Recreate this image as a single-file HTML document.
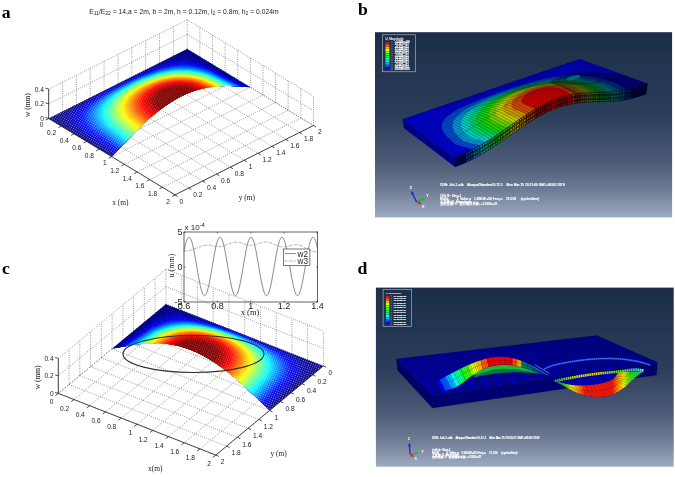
<!DOCTYPE html>
<html lang="en"><head><meta charset="utf-8"><title>Figure</title>
<style>html,body{margin:0;padding:0;background:#fff;}body{width:675px;height:477px;overflow:hidden;font-family:"Liberation Sans",sans-serif;}svg{display:block;}</style>
</head><body>
<svg width="675" height="477" viewBox="0 0 675 477">
<defs><filter id="soft" x="0" y="0" width="675" height="477" filterUnits="userSpaceOnUse"><feGaussianBlur stdDeviation="0.45"/></filter></defs><g filter="url(#soft)">
<defs><linearGradient id="spgA" gradientUnits="userSpaceOnUse" x1="112" y1="156" x2="187" y2="49"><stop offset="0" stop-color="#fff" stop-opacity="0.55"/><stop offset="0.6" stop-color="#fff" stop-opacity="0.25"/><stop offset="1" stop-color="#fff" stop-opacity="0.05"/></linearGradient><linearGradient id="spgC" gradientUnits="userSpaceOnUse" x1="270" y1="411" x2="166" y2="304"><stop offset="0" stop-color="#fff" stop-opacity="0.55"/><stop offset="0.6" stop-color="#fff" stop-opacity="0.25"/><stop offset="1" stop-color="#fff" stop-opacity="0.05"/></linearGradient><mask id="mA" maskUnits="userSpaceOnUse" x="0" y="0" width="340" height="240"><rect x="0" y="0" width="340" height="240" fill="url(#spgA)"/></mask><mask id="mC" maskUnits="userSpaceOnUse" x="0" y="240" width="340" height="240"><rect x="0" y="240" width="340" height="240" fill="url(#spgC)"/></mask><pattern id="spkA" width="2.1" height="2.1" patternUnits="userSpaceOnUse" patternTransform="rotate(31)"><circle cx="1" cy="1" r="0.6" fill="#fff"/></pattern><pattern id="spkC" width="2.1" height="2.1" patternUnits="userSpaceOnUse" patternTransform="rotate(21)"><circle cx="1" cy="1" r="0.6" fill="#fff"/></pattern></defs>
<rect width="675" height="477" fill="#fff"/>
<g id="pa"><path d="M48.7 118.5L48.7 89.2M62.6 111.6L62.6 82.2M76.4 104.6L76.4 75.3M90.2 97.7L90.2 68.4M104.1 90.7L104.1 61.4M118 83.8L118 54.5M131.8 76.9L131.8 47.5M145.7 69.9L145.7 40.6M159.5 63L159.5 33.7M173.4 56L173.4 26.7M187.2 49.1L187.2 19.8M48.7 118.5L187.2 49.1M48.7 103.8L187.2 34.4M48.7 89.2L187.2 19.8M199.8 56.7L199.8 27.4M212.5 64.4L212.5 35.1M225.1 72L225.1 42.7M237.7 79.7L237.7 50.3M250.3 87.3L250.3 58M263 94.9L263 65.6M275.6 102.6L275.6 73.3M288.2 110.2L288.2 80.9M300.9 117.9L300.9 88.5M313.5 125.5L313.5 96.2M187.2 49.1L313.5 125.5M187.2 34.4L313.5 110.8M187.2 19.8L313.5 96.2M48.7 118.5L187.2 49.1M48.7 118.5L175 194.9M61.3 126.1L199.8 56.7M62.6 111.6L188.8 188M74 133.8L212.5 64.4M76.4 104.6L202.7 181M86.6 141.4L225.1 72M90.2 97.7L216.6 174.1M99.2 149.1L237.7 79.7M104.1 90.7L230.4 167.1M111.8 156.7L250.3 87.3M118 83.8L244.2 160.2M124.5 164.3L263 94.9M131.8 76.9L258.1 153.3M137.1 172L275.6 102.6M145.7 69.9L271.9 146.3M149.7 179.6L288.2 110.2M159.5 63L285.8 139.4M162.4 187.3L300.9 117.9M173.4 56L299.6 132.4M175 194.9L313.5 125.5M187.2 49.1L313.5 125.5" stroke="#3a3a3a" stroke-width="0.65" stroke-dasharray="0.75 1.45" fill="none"/>
<path d="M48.7 118.5 L187.2 49.1 L250.3 87.3 L246.5 87 L242.7 86.7 L238.8 86.4 L235 86.2 L231.1 86.1 L227.3 86 L223.4 86.1 L219.6 86.2 L215.7 86.5 L211.9 86.9 L208 87.5 L204.2 88.2 L200.3 89.1 L196.5 90.2 L192.6 91.4 L188.8 92.9 L184.9 94.5 L181.1 96.3 L177.3 98.4 L173.4 100.6 L169.6 103 L165.7 105.6 L161.9 108.4 L158 111.3 L154.2 114.5 L150.3 117.8 L146.5 121.2 L142.6 124.8 L138.8 128.5 L134.9 132.3 L131.1 136.2 L127.2 140.2 L123.4 144.3 L119.5 148.4 L115.7 152.5 L111.8 156.7Z" fill="#000087"/>
<path d="M112.7 155.8 L61.2 120.5 L61.6 116.5 L64.1 113.8 L67.2 111.4 L70.6 109.3 L74.1 107.2 L77.6 105.2 L81.3 103.2 L85 101.2 L88.7 99.2 L92.4 97.3 L96.1 95.3 L99.9 93.4 L103.6 91.5 L107.4 89.6 L111.2 87.7 L115 85.8 L118.8 83.9 L122.6 82 L126.4 80.1 L130.2 78.2 L134 76.3 L137.9 74.4 L141.7 72.5 L145.6 70.7 L149.5 68.8 L153.4 67 L157.3 65.2 L161.3 63.4 L165.3 61.7 L169.5 60 L173.8 58.4 L178.4 57 L183.9 56.1 L191.8 56.7 L249.2 87.2 L249.2 87.2 L245.4 86.9 L241.6 86.6 L237.8 86.4 L234 86.2 L230.2 86.1 L226.4 86 L222.6 86.1 L218.8 86.3 L215 86.6 L211.3 87 L207.5 87.6 L203.7 88.3 L199.9 89.2 L196.1 90.3 L192.3 91.6 L188.5 93 L184.7 94.6 L180.9 96.4 L177.1 98.4 L173.3 100.6 L169.5 103 L165.7 105.6 L162 108.3 L158.2 111.2 L154.4 114.3 L150.6 117.5 L146.8 120.9 L143 124.4 L139.2 128.1 L135.4 131.8 L131.6 135.7 L127.8 139.6 L124 143.6 L120.2 147.6 L116.5 151.7 L112.7 155.8Z" fill="#000099"/>
<path d="M113.5 154.9 L67.9 123 L66.2 117.9 L67.7 114.6 L70.2 112 L73.1 109.6 L76.3 107.4 L79.7 105.3 L83.1 103.2 L86.6 101.2 L90.2 99.2 L93.8 97.2 L97.4 95.3 L101.1 93.4 L104.8 91.5 L108.5 89.6 L112.2 87.7 L115.9 85.8 L119.6 83.9 L123.4 82 L127.2 80.2 L130.9 78.3 L134.7 76.5 L138.6 74.7 L142.4 72.8 L146.3 71 L150.2 69.3 L154.1 67.5 L158.1 65.8 L162.2 64.2 L166.4 62.6 L170.8 61.1 L175.5 59.8 L180.7 58.8 L187.1 58.6 L197.1 60.4 L248 87.1 L248 87.1 L244.3 86.8 L240.5 86.6 L236.8 86.3 L233.1 86.2 L229.3 86.1 L225.6 86 L221.9 86.1 L218.1 86.3 L214.4 86.6 L210.7 87.1 L206.9 87.7 L203.2 88.4 L199.4 89.3 L195.7 90.4 L192 91.7 L188.2 93.1 L184.5 94.7 L180.8 96.5 L177 98.5 L173.3 100.7 L169.6 103 L165.8 105.5 L162.1 108.2 L158.4 111.1 L154.6 114.1 L150.9 117.3 L147.2 120.6 L143.4 124 L139.7 127.6 L136 131.3 L132.2 135.1 L128.5 138.9 L124.7 142.8 L121 146.8 L117.3 150.8 L113.5 154.9Z" fill="#0000ad"/>
<path d="M114.5 153.9 L73.3 124.8 L70.4 118.9 L71.1 115.3 L73.1 112.4 L75.6 109.8 L78.6 107.5 L81.7 105.3 L85 103.2 L88.3 101.2 L91.8 99.2 L95.2 97.2 L98.8 95.2 L102.3 93.3 L105.9 91.4 L109.5 89.5 L113.2 87.6 L116.8 85.8 L120.5 83.9 L124.2 82.1 L127.9 80.3 L131.7 78.5 L135.5 76.7 L139.3 74.9 L143.1 73.1 L147 71.4 L150.9 69.7 L154.9 68 L158.9 66.4 L163.1 64.9 L167.4 63.4 L172 62.1 L177 61 L182.6 60.4 L189.7 60.6 L200.6 63.1 L246.8 87 L246.8 87 L243.2 86.7 L239.5 86.5 L235.8 86.3 L232.1 86.1 L228.4 86 L224.8 86.1 L221.1 86.2 L217.4 86.4 L213.7 86.7 L210.1 87.2 L206.4 87.8 L202.7 88.5 L199 89.5 L195.4 90.5 L191.7 91.8 L188 93.2 L184.3 94.8 L180.6 96.6 L177 98.5 L173.3 100.7 L169.6 103 L165.9 105.4 L162.3 108.1 L158.6 110.9 L154.9 113.9 L151.2 117 L147.6 120.2 L143.9 123.6 L140.2 127.1 L136.5 130.7 L132.8 134.4 L129.2 138.2 L125.5 142.1 L121.8 146 L118.1 149.9 L114.5 153.9Z" fill="#0000c2"/>
<path d="M115.4 152.9 L77.8 126 L74.1 119.7 L74.2 115.8 L75.8 112.7 L78.1 110 L80.8 107.6 L83.7 105.4 L86.8 103.2 L90 101.1 L93.3 99.1 L96.7 97.1 L100.1 95.2 L103.6 93.3 L107.1 91.4 L110.6 89.5 L114.2 87.6 L117.8 85.8 L121.4 84 L125.1 82.2 L128.7 80.4 L132.4 78.6 L136.2 76.8 L139.9 75.1 L143.8 73.4 L147.6 71.7 L151.6 70.1 L155.6 68.5 L159.7 67 L163.9 65.5 L168.3 64.2 L173 63 L178.2 62.2 L184.2 61.7 L191.7 62.3 L203.1 65.2 L245.7 86.9 L245.7 86.9 L242 86.7 L238.4 86.4 L234.8 86.2 L231.2 86.1 L227.6 86 L223.9 86.1 L220.3 86.2 L216.7 86.4 L213.1 86.8 L209.5 87.3 L205.9 87.9 L202.2 88.6 L198.6 89.6 L195 90.6 L191.4 91.9 L187.8 93.3 L184.1 94.9 L180.5 96.6 L176.9 98.6 L173.3 100.7 L169.7 102.9 L166.1 105.4 L162.4 108 L158.8 110.7 L155.2 113.6 L151.6 116.7 L148 119.9 L144.3 123.2 L140.7 126.6 L137.1 130.1 L133.5 133.8 L129.9 137.5 L126.2 141.3 L122.6 145.1 L119 149 L115.4 152.9Z" fill="#0000d8"/>
<path d="M116.3 151.8 L81.7 126.8 L77.5 120.3 L77.2 116.2 L78.5 112.9 L80.5 110.2 L82.9 107.7 L85.7 105.4 L88.6 103.2 L91.7 101.1 L94.9 99 L98.1 97.1 L101.5 95.1 L104.8 93.2 L108.3 91.3 L111.7 89.4 L115.2 87.6 L118.7 85.8 L122.3 84 L125.9 82.2 L129.5 80.4 L133.2 78.7 L136.9 77 L140.6 75.3 L144.4 73.7 L148.3 72 L152.2 70.5 L156.2 69 L160.4 67.5 L164.7 66.2 L169.2 64.9 L174 63.9 L179.3 63.2 L185.5 63 L193.2 63.7 L204.9 66.8 L244.5 86.8 L244.5 86.8 L240.9 86.6 L237.4 86.4 L233.8 86.2 L230.2 86.1 L226.7 86 L223.1 86.1 L219.6 86.2 L216 86.5 L212.4 86.9 L208.9 87.4 L205.3 88 L201.8 88.8 L198.2 89.7 L194.7 90.8 L191.1 92 L187.5 93.4 L184 95 L180.4 96.7 L176.9 98.6 L173.3 100.7 L169.7 102.9 L166.2 105.3 L162.6 107.8 L159.1 110.5 L155.5 113.4 L151.9 116.4 L148.4 119.5 L144.8 122.7 L141.3 126.1 L137.7 129.5 L134.1 133.1 L130.6 136.7 L127 140.4 L123.5 144.2 L119.9 148 L116.3 151.8Z" fill="#0000ef"/>
<path d="M117.3 150.8 L85.2 127.4 L80.7 120.7 L80.1 116.4 L81 113.1 L82.8 110.2 L85.1 107.7 L87.6 105.3 L90.4 103.1 L93.4 101 L96.4 99 L99.6 97 L102.8 95 L106.1 93.1 L109.4 91.2 L112.8 89.4 L116.2 87.6 L119.7 85.8 L123.2 84 L126.8 82.3 L130.3 80.5 L134 78.8 L137.6 77.2 L141.3 75.5 L145.1 73.9 L148.9 72.4 L152.9 70.8 L156.9 69.4 L161 68 L165.4 66.8 L169.9 65.6 L174.8 64.7 L180.3 64.1 L186.6 64.1 L194.5 65 L206.2 68.2 L243.3 86.7 L243.3 86.7 L239.8 86.5 L236.3 86.3 L232.8 86.1 L229.3 86.1 L225.8 86 L222.3 86.1 L218.8 86.3 L215.3 86.5 L211.8 86.9 L208.3 87.4 L204.8 88.1 L201.3 88.9 L197.8 89.8 L194.3 90.9 L190.8 92.1 L187.3 93.5 L183.8 95 L180.3 96.7 L176.8 98.6 L173.3 100.6 L169.8 102.8 L166.3 105.2 L162.8 107.7 L159.3 110.3 L155.8 113.1 L152.3 116 L148.8 119.1 L145.3 122.3 L141.8 125.6 L138.3 128.9 L134.8 132.4 L131.3 136 L127.8 139.6 L124.3 143.3 L120.8 147 L117.3 150.8Z" fill="#0008ff"/>
<path d="M118.3 149.7 L88.3 127.7 L83.7 121 L82.8 116.6 L83.5 113.2 L85.1 110.3 L87.2 107.7 L89.6 105.3 L92.2 103.1 L95 100.9 L98 98.9 L101 96.9 L104.2 94.9 L107.4 93 L110.6 91.2 L113.9 89.3 L117.3 87.6 L120.7 85.8 L124.1 84 L127.6 82.3 L131.2 80.6 L134.7 79 L138.4 77.3 L142 75.7 L145.8 74.2 L149.6 72.7 L153.5 71.2 L157.5 69.8 L161.7 68.5 L166 67.3 L170.6 66.3 L175.6 65.5 L181.1 65 L187.5 65.1 L195.5 66.1 L207.2 69.3 L242.1 86.7 L242.1 86.7 L238.7 86.4 L235.2 86.2 L231.8 86.1 L228.4 86 L224.9 86.1 L221.5 86.1 L218 86.3 L214.6 86.6 L211.2 87 L207.7 87.5 L204.3 88.2 L200.8 89 L197.4 89.9 L194 91 L190.5 92.2 L187.1 93.6 L183.6 95.1 L180.2 96.8 L176.8 98.6 L173.3 100.6 L169.9 102.8 L166.5 105.1 L163 107.5 L159.6 110.1 L156.1 112.9 L152.7 115.7 L149.3 118.7 L145.8 121.8 L142.4 125 L138.9 128.3 L135.5 131.7 L132.1 135.2 L128.6 138.8 L125.2 142.4 L121.7 146 L118.3 149.7Z" fill="#0020ff"/>
<path d="M119.3 148.7 L91.2 127.8 L86.5 121.2 L85.4 116.7 L85.9 113.2 L87.3 110.3 L89.2 107.6 L91.5 105.2 L94 103 L96.7 100.8 L99.5 98.8 L102.5 96.8 L105.5 94.8 L108.6 93 L111.8 91.1 L115.1 89.3 L118.3 87.5 L121.7 85.8 L125.1 84.1 L128.5 82.4 L132 80.7 L135.5 79.1 L139.1 77.5 L142.7 75.9 L146.4 74.4 L150.2 73 L154.1 71.6 L158.1 70.2 L162.3 69 L166.7 67.9 L171.3 66.9 L176.3 66.2 L181.8 65.8 L188.3 66 L196.4 67.1 L207.9 70.3 L240.9 86.6 L240.9 86.6 L237.5 86.4 L234.2 86.2 L230.8 86.1 L227.4 86 L224 86.1 L220.7 86.2 L217.3 86.4 L213.9 86.7 L210.5 87.1 L207.1 87.6 L203.8 88.3 L200.4 89.1 L197 90 L193.6 91.1 L190.2 92.3 L186.9 93.7 L183.5 95.2 L180.1 96.8 L176.7 98.7 L173.4 100.6 L170 102.7 L166.6 105 L163.2 107.4 L159.8 109.9 L156.5 112.6 L153.1 115.4 L149.7 118.3 L146.3 121.3 L142.9 124.5 L139.6 127.7 L136.2 131 L132.8 134.5 L129.4 137.9 L126.1 141.5 L122.7 145 L119.3 148.7Z" fill="#0039ff"/>
<path d="M120.3 147.6 L93.9 127.8 L89.2 121.2 L88 116.7 L88.3 113.2 L89.5 110.2 L91.3 107.6 L93.4 105.1 L95.8 102.9 L98.4 100.7 L101.1 98.7 L104 96.7 L106.9 94.7 L109.9 92.9 L113 91 L116.2 89.3 L119.4 87.5 L122.7 85.8 L126 84.1 L129.4 82.4 L132.8 80.8 L136.3 79.2 L139.8 77.7 L143.4 76.1 L147.1 74.7 L150.9 73.3 L154.7 71.9 L158.7 70.6 L162.9 69.5 L167.2 68.4 L171.9 67.5 L176.9 66.9 L182.5 66.6 L189 66.8 L197 68 L208.4 71.2 L239.7 86.5 L239.7 86.5 L236.4 86.3 L233.1 86.2 L229.8 86.1 L226.5 86 L223.1 86.1 L219.8 86.2 L216.5 86.4 L213.2 86.8 L209.9 87.2 L206.6 87.7 L203.2 88.4 L199.9 89.2 L196.6 90.1 L193.3 91.2 L190 92.4 L186.7 93.8 L183.3 95.3 L180 96.9 L176.7 98.7 L173.4 100.6 L170.1 102.7 L166.8 104.9 L163.4 107.2 L160.1 109.7 L156.8 112.3 L153.5 115.1 L150.2 117.9 L146.8 120.9 L143.5 123.9 L140.2 127.1 L136.9 130.3 L133.6 133.7 L130.3 137.1 L126.9 140.5 L123.6 144 L120.3 147.6Z" fill="#0052ff"/>
<path d="M121.3 146.5 L96.4 127.7 L91.7 121.2 L90.4 116.7 L90.6 113.1 L91.7 110.1 L93.3 107.5 L95.3 105 L97.6 102.7 L100 100.6 L102.7 98.5 L105.4 96.6 L108.3 94.6 L111.2 92.8 L114.3 91 L117.3 89.2 L120.5 87.5 L123.7 85.8 L126.9 84.1 L130.3 82.5 L133.6 80.9 L137.1 79.3 L140.6 77.8 L144.1 76.4 L147.8 74.9 L151.5 73.6 L155.3 72.3 L159.3 71 L163.4 69.9 L167.8 68.9 L172.4 68.1 L177.5 67.6 L183 67.3 L189.5 67.6 L197.5 68.8 L208.7 72 L238.5 86.4 L238.5 86.4 L235.3 86.3 L232 86.1 L228.8 86.1 L225.5 86 L222.3 86.1 L219 86.3 L215.7 86.5 L212.5 86.8 L209.2 87.3 L206 87.9 L202.7 88.5 L199.5 89.3 L196.2 90.3 L193 91.3 L189.7 92.5 L186.4 93.9 L183.2 95.3 L179.9 96.9 L176.7 98.7 L173.4 100.6 L170.2 102.6 L166.9 104.8 L163.7 107.1 L160.4 109.5 L157.1 112 L153.9 114.7 L150.6 117.5 L147.4 120.4 L144.1 123.4 L140.9 126.5 L137.6 129.6 L134.4 132.9 L131.1 136.2 L127.8 139.6 L124.6 143 L121.3 146.5Z" fill="#006cff"/>
<path d="M122.4 145.4 L98.8 127.4 L94.2 121 L92.8 116.6 L92.8 113 L93.8 110 L95.3 107.3 L97.2 104.9 L99.3 102.6 L101.7 100.5 L104.3 98.4 L106.9 96.4 L109.7 94.5 L112.5 92.7 L115.5 90.9 L118.5 89.2 L121.6 87.5 L124.7 85.8 L127.9 84.2 L131.2 82.6 L134.5 81 L137.8 79.5 L141.3 78 L144.8 76.6 L148.4 75.2 L152.1 73.9 L155.9 72.6 L159.9 71.4 L164 70.4 L168.3 69.4 L172.9 68.7 L178 68.2 L183.5 68 L190 68.4 L197.9 69.6 L208.8 72.7 L237.3 86.4 L237.3 86.4 L234.1 86.2 L230.9 86.1 L227.7 86 L224.5 86.1 L221.4 86.1 L218.2 86.3 L215 86.6 L211.8 86.9 L208.6 87.4 L205.4 88 L202.2 88.7 L199 89.5 L195.8 90.4 L192.6 91.4 L189.4 92.6 L186.2 93.9 L183 95.4 L179.8 97 L176.7 98.7 L173.5 100.6 L170.3 102.5 L167.1 104.7 L163.9 106.9 L160.7 109.3 L157.5 111.8 L154.3 114.4 L151.1 117.1 L147.9 119.9 L144.7 122.8 L141.5 125.8 L138.3 128.9 L135.1 132.1 L132 135.3 L128.8 138.6 L125.6 142 L122.4 145.4Z" fill="#0086ff"/>
<path d="M123.4 144.2 L101.1 127.1 L96.6 120.9 L95.1 116.4 L95.1 112.9 L95.9 109.9 L97.3 107.2 L99.1 104.7 L101.1 102.5 L103.4 100.3 L105.8 98.3 L108.4 96.3 L111.1 94.4 L113.9 92.6 L116.7 90.8 L119.7 89.1 L122.7 87.4 L125.7 85.8 L128.9 84.2 L132.1 82.6 L135.3 81.1 L138.6 79.6 L142 78.2 L145.5 76.8 L149.1 75.4 L152.7 74.2 L156.5 72.9 L160.4 71.8 L164.5 70.8 L168.8 69.9 L173.4 69.2 L178.4 68.8 L184 68.7 L190.4 69 L198.2 70.3 L208.9 73.3 L236.1 86.3 L236.1 86.3 L233 86.2 L229.8 86.1 L226.7 86 L223.6 86.1 L220.5 86.2 L217.3 86.4 L214.2 86.7 L211.1 87 L207.9 87.5 L204.8 88.1 L201.7 88.8 L198.5 89.6 L195.4 90.5 L192.3 91.6 L189.2 92.7 L186 94 L182.9 95.5 L179.8 97 L176.6 98.7 L173.5 100.5 L170.4 102.5 L167.2 104.5 L164.1 106.7 L161 109 L157.9 111.5 L154.7 114 L151.6 116.7 L148.5 119.4 L145.3 122.3 L142.2 125.2 L139.1 128.2 L135.9 131.3 L132.8 134.5 L129.7 137.7 L126.6 140.9 L123.4 144.2Z" fill="#00a0ff"/>
<path d="M124.5 143.1 L103.3 126.8 L98.9 120.6 L97.3 116.2 L97.2 112.7 L98 109.7 L99.3 107 L100.9 104.6 L102.9 102.3 L105.1 100.2 L107.4 98.1 L109.9 96.2 L112.5 94.3 L115.2 92.5 L118 90.8 L120.8 89.1 L123.8 87.4 L126.8 85.8 L129.9 84.2 L133 82.7 L136.2 81.2 L139.4 79.7 L142.8 78.3 L146.2 77 L149.7 75.7 L153.3 74.4 L157.1 73.3 L160.9 72.2 L165 71.3 L169.3 70.4 L173.8 69.8 L178.8 69.4 L184.3 69.3 L190.7 69.7 L198.4 71 L208.8 73.9 L234.9 86.2 L234.9 86.2 L231.8 86.1 L228.7 86.1 L225.7 86 L222.6 86.1 L219.5 86.2 L216.5 86.4 L213.4 86.7 L210.3 87.1 L207.3 87.6 L204.2 88.2 L201.1 88.9 L198.1 89.7 L195 90.6 L192 91.7 L188.9 92.8 L185.8 94.1 L182.8 95.5 L179.7 97.1 L176.6 98.7 L173.6 100.5 L170.5 102.4 L167.4 104.4 L164.4 106.6 L161.3 108.8 L158.2 111.2 L155.2 113.7 L152.1 116.2 L149 118.9 L146 121.7 L142.9 124.5 L139.8 127.5 L136.8 130.5 L133.7 133.6 L130.6 136.7 L127.6 139.9 L124.5 143.1Z" fill="#00bbff"/>
<path d="M125.6 142 L105.4 126.3 L101.1 120.3 L99.6 116 L99.4 112.5 L100 109.5 L101.2 106.8 L102.8 104.4 L104.7 102.1 L106.8 100 L109 98 L111.4 96.1 L113.9 94.2 L116.5 92.4 L119.3 90.7 L122 89 L124.9 87.4 L127.8 85.8 L130.8 84.3 L133.9 82.8 L137 81.3 L140.3 79.9 L143.5 78.5 L146.9 77.2 L150.4 75.9 L153.9 74.7 L157.6 73.6 L161.5 72.6 L165.5 71.7 L169.7 70.9 L174.3 70.3 L179.2 69.9 L184.6 69.9 L190.9 70.3 L198.5 71.6 L208.7 74.4 L233.6 86.2 L233.6 86.2 L230.6 86.1 L227.6 86 L224.6 86.1 L221.6 86.1 L218.6 86.3 L215.6 86.5 L212.6 86.8 L209.6 87.2 L206.6 87.7 L203.6 88.3 L200.6 89 L197.6 89.8 L194.6 90.8 L191.6 91.8 L188.6 93 L185.6 94.2 L182.6 95.6 L179.6 97.1 L176.6 98.7 L173.6 100.5 L170.6 102.3 L167.6 104.3 L164.6 106.4 L161.6 108.6 L158.6 110.9 L155.6 113.3 L152.6 115.8 L149.6 118.4 L146.6 121.1 L143.6 123.9 L140.6 126.7 L137.6 129.7 L134.6 132.7 L131.6 135.7 L128.6 138.8 L125.6 142Z" fill="#00d6ff"/>
<path d="M126.7 140.8 L107.5 125.8 L103.3 120 L101.7 115.7 L101.5 112.2 L102.1 109.3 L103.2 106.6 L104.7 104.2 L106.4 102 L108.4 99.8 L110.6 97.9 L112.9 95.9 L115.4 94.1 L117.9 92.4 L120.5 90.7 L123.3 89 L126 87.4 L128.9 85.8 L131.8 84.3 L134.9 82.8 L137.9 81.4 L141.1 80 L144.3 78.7 L147.6 77.4 L151 76.2 L154.5 75 L158.2 74 L162 73 L165.9 72.1 L170.1 71.4 L174.6 70.8 L179.5 70.5 L184.9 70.5 L191.1 70.9 L198.5 72.2 L208.4 74.9 L232.4 86.1 L232.4 86.1 L229.5 86.1 L226.5 86 L223.6 86.1 L220.6 86.2 L217.7 86.3 L214.8 86.6 L211.8 86.9 L208.9 87.3 L206 87.9 L203 88.5 L200.1 89.2 L197.2 90 L194.2 90.9 L191.3 91.9 L188.3 93.1 L185.4 94.3 L182.5 95.7 L179.5 97.1 L176.6 98.7 L173.7 100.4 L170.7 102.3 L167.8 104.2 L164.8 106.2 L161.9 108.4 L159 110.6 L156 112.9 L153.1 115.4 L150.2 117.9 L147.2 120.5 L144.3 123.2 L141.4 126 L138.4 128.8 L135.5 131.8 L132.5 134.7 L129.6 137.7 L126.7 140.8Z" fill="#00f1ff"/>
<path d="M127.8 139.6 L109.5 125.3 L105.4 119.6 L103.9 115.4 L103.6 112 L104.1 109 L105.1 106.4 L106.5 104 L108.2 101.8 L110.1 99.7 L112.2 97.7 L114.5 95.8 L116.8 94 L119.3 92.3 L121.8 90.6 L124.5 89 L127.2 87.4 L130 85.9 L132.9 84.4 L135.8 82.9 L138.8 81.5 L141.9 80.2 L145.1 78.9 L148.3 77.7 L151.7 76.5 L155.1 75.4 L158.7 74.3 L162.5 73.4 L166.4 72.5 L170.5 71.8 L175 71.3 L179.8 71 L185.1 71 L191.2 71.5 L198.5 72.7 L208.2 75.4 L231.1 86.1 L231.1 86.1 L228.3 86 L225.4 86 L222.5 86.1 L219.7 86.2 L216.8 86.4 L213.9 86.7 L211 87 L208.2 87.5 L205.3 88 L202.4 88.6 L199.6 89.3 L196.7 90.1 L193.8 91 L190.9 92 L188.1 93.2 L185.2 94.4 L182.3 95.7 L179.5 97.2 L176.6 98.7 L173.7 100.4 L170.8 102.2 L168 104 L165.1 106 L162.2 108.1 L159.4 110.3 L156.5 112.6 L153.6 114.9 L150.8 117.4 L147.9 119.9 L145 122.6 L142.1 125.3 L139.3 128 L136.4 130.8 L133.5 133.7 L130.7 136.7 L127.8 139.6Z" fill="#0efff1"/>
<path d="M128.9 138.5 L111.5 124.7 L107.6 119.1 L106 115 L105.7 111.6 L106.1 108.7 L107.1 106.1 L108.4 103.8 L110 101.6 L111.9 99.5 L113.9 97.5 L116 95.7 L118.3 93.9 L120.7 92.2 L123.1 90.5 L125.7 88.9 L128.4 87.4 L131.1 85.9 L133.9 84.4 L136.8 83 L139.7 81.7 L142.7 80.4 L145.9 79.1 L149.1 77.9 L152.3 76.7 L155.8 75.7 L159.3 74.7 L163 73.8 L166.8 73 L170.9 72.3 L175.3 71.8 L180 71.6 L185.3 71.6 L191.3 72.1 L198.4 73.3 L207.8 75.8 L229.9 86.1 L229.9 86.1 L227.1 86 L224.3 86.1 L221.4 86.1 L218.6 86.3 L215.8 86.5 L213 86.8 L210.2 87.1 L207.4 87.6 L204.6 88.1 L201.8 88.7 L199 89.5 L196.2 90.3 L193.4 91.2 L190.6 92.2 L187.8 93.3 L185 94.5 L182.2 95.8 L179.4 97.2 L176.6 98.7 L173.8 100.4 L171 102.1 L168.2 103.9 L165.4 105.8 L162.6 107.9 L159.8 110 L157 112.2 L154.2 114.5 L151.3 116.9 L148.5 119.3 L145.7 121.9 L142.9 124.5 L140.1 127.2 L137.3 129.9 L134.5 132.7 L131.7 135.6 L128.9 138.5Z" fill="#29ffd6"/>
<path d="M130.1 137.3 L113.5 124.1 L109.7 118.7 L108.1 114.6 L107.8 111.3 L108.2 108.4 L109.1 105.9 L110.3 103.5 L111.8 101.4 L113.6 99.3 L115.5 97.4 L117.6 95.6 L119.8 93.8 L122.1 92.1 L124.5 90.5 L127 88.9 L129.6 87.4 L132.2 85.9 L134.9 84.5 L137.7 83.1 L140.6 81.8 L143.6 80.5 L146.6 79.3 L149.8 78.1 L153 77 L156.4 76 L159.8 75 L163.5 74.2 L167.3 73.4 L171.3 72.8 L175.6 72.3 L180.3 72.1 L185.4 72.1 L191.3 72.6 L198.3 73.8 L207.4 76.3 L228.6 86 L228.6 86 L225.8 86 L223.1 86.1 L220.4 86.2 L217.6 86.4 L214.9 86.6 L212.2 86.9 L209.4 87.3 L206.7 87.7 L203.9 88.3 L201.2 88.9 L198.5 89.6 L195.7 90.4 L193 91.3 L190.3 92.3 L187.5 93.4 L184.8 94.6 L182.1 95.9 L179.3 97.3 L176.6 98.7 L173.8 100.3 L171.1 102 L168.4 103.8 L165.6 105.7 L162.9 107.6 L160.2 109.7 L157.4 111.8 L154.7 114 L152 116.4 L149.2 118.7 L146.5 121.2 L143.8 123.7 L141 126.3 L138.3 129 L135.5 131.7 L132.8 134.5 L130.1 137.3Z" fill="#45ffba"/>
<path d="M131.2 136.1 L115.4 123.4 L111.7 118.2 L110.2 114.2 L109.9 111 L110.2 108.1 L111 105.6 L112.2 103.3 L113.6 101.1 L115.3 99.1 L117.2 97.2 L119.2 95.4 L121.3 93.7 L123.5 92 L125.8 90.4 L128.3 88.9 L130.8 87.4 L133.3 86 L136 84.6 L138.7 83.2 L141.6 82 L144.5 80.7 L147.4 79.5 L150.5 78.4 L153.7 77.3 L157 76.3 L160.4 75.4 L163.9 74.6 L167.7 73.8 L171.6 73.2 L175.9 72.8 L180.5 72.6 L185.5 72.7 L191.3 73.2 L198.1 74.3 L206.9 76.7 L227.3 86 L227.3 86 L224.6 86.1 L221.9 86.1 L219.3 86.2 L216.6 86.4 L213.9 86.7 L211.3 87 L208.6 87.4 L205.9 87.9 L203.3 88.4 L200.6 89 L197.9 89.8 L195.3 90.6 L192.6 91.5 L189.9 92.4 L187.3 93.5 L184.6 94.7 L181.9 95.9 L179.3 97.3 L176.6 98.7 L173.9 100.3 L171.2 101.9 L168.6 103.6 L165.9 105.5 L163.2 107.4 L160.6 109.4 L157.9 111.4 L155.2 113.6 L152.6 115.8 L149.9 118.1 L147.2 120.5 L144.6 123 L141.9 125.5 L139.2 128 L136.6 130.7 L133.9 133.3 L131.2 136.1Z" fill="#62ff9d"/>
<path d="M132.4 134.8 L117.4 122.7 L113.8 117.6 L112.3 113.8 L111.9 110.6 L112.2 107.8 L113 105.3 L114.1 103 L115.5 100.9 L117.1 98.9 L118.8 97.1 L120.8 95.3 L122.8 93.6 L125 92 L127.2 90.4 L129.6 88.9 L132 87.4 L134.5 86 L137.1 84.7 L139.8 83.4 L142.5 82.1 L145.3 80.9 L148.2 79.7 L151.3 78.6 L154.4 77.6 L157.6 76.6 L160.9 75.8 L164.4 75 L168.1 74.3 L172 73.7 L176.1 73.3 L180.6 73.1 L185.6 73.2 L191.2 73.7 L197.8 74.8 L206.4 77.1 L225.9 86 L225.9 86 L223.3 86.1 L220.7 86.2 L218.1 86.3 L215.5 86.5 L212.9 86.8 L210.3 87.1 L207.8 87.5 L205.2 88 L202.6 88.6 L200 89.2 L197.4 89.9 L194.8 90.7 L192.2 91.6 L189.6 92.6 L187 93.6 L184.4 94.8 L181.8 96 L179.2 97.3 L176.6 98.7 L174 100.2 L171.4 101.8 L168.8 103.5 L166.2 105.3 L163.6 107.1 L161 109 L158.4 111 L155.8 113.1 L153.2 115.3 L150.6 117.5 L148 119.8 L145.4 122.2 L142.8 124.6 L140.2 127.1 L137.6 129.6 L135 132.2 L132.4 134.8Z" fill="#7eff81"/>
<path d="M133.7 133.6 L119.3 122 L115.9 117.1 L114.4 113.3 L114 110.2 L114.3 107.4 L115 105 L116 102.8 L117.3 100.7 L118.8 98.7 L120.5 96.9 L122.4 95.2 L124.4 93.5 L126.4 91.9 L128.6 90.4 L130.9 88.9 L133.2 87.5 L135.7 86.1 L138.2 84.8 L140.8 83.5 L143.5 82.3 L146.2 81.1 L149.1 80 L152 78.9 L155 77.9 L158.2 77 L161.5 76.1 L164.9 75.4 L168.5 74.7 L172.3 74.2 L176.4 73.8 L180.8 73.7 L185.6 73.8 L191.1 74.3 L197.5 75.3 L205.9 77.6 L224.6 86.1 L224.6 86.1 L222.1 86.1 L219.5 86.2 L217 86.4 L214.5 86.6 L212 86.9 L209.4 87.3 L206.9 87.7 L204.4 88.2 L201.9 88.7 L199.3 89.4 L196.8 90.1 L194.3 90.9 L191.7 91.8 L189.2 92.7 L186.7 93.7 L184.2 94.9 L181.6 96.1 L179.1 97.4 L176.6 98.7 L174.1 100.2 L171.5 101.7 L169 103.4 L166.5 105.1 L164 106.8 L161.4 108.7 L158.9 110.6 L156.4 112.7 L153.9 114.7 L151.3 116.9 L148.8 119.1 L146.3 121.4 L143.8 123.7 L141.2 126.1 L138.7 128.6 L136.2 131.1 L133.7 133.6Z" fill="#9bff64"/>
<path d="M134.9 132.3 L121.2 121.2 L117.9 116.5 L116.5 112.8 L116.1 109.7 L116.3 107.1 L117 104.7 L118 102.5 L119.2 100.5 L120.7 98.6 L122.3 96.8 L124 95 L125.9 93.4 L127.9 91.8 L130 90.3 L132.2 88.9 L134.5 87.5 L136.9 86.2 L139.3 84.9 L141.8 83.7 L144.5 82.5 L147.1 81.3 L149.9 80.2 L152.8 79.2 L155.7 78.3 L158.8 77.4 L162 76.5 L165.4 75.8 L168.9 75.2 L172.6 74.7 L176.6 74.3 L180.9 74.2 L185.6 74.3 L190.9 74.8 L197.2 75.8 L205.3 78 L223.2 86.1 L223.2 86.1 L220.8 86.2 L218.3 86.3 L215.9 86.5 L213.4 86.7 L210.9 87 L208.5 87.4 L206 87.8 L203.6 88.3 L201.1 88.9 L198.7 89.5 L196.2 90.3 L193.8 91 L191.3 91.9 L188.9 92.8 L186.4 93.9 L184 95 L181.5 96.1 L179.1 97.4 L176.6 98.7 L174.2 100.1 L171.7 101.6 L169.2 103.2 L166.8 104.9 L164.3 106.6 L161.9 108.4 L159.4 110.2 L157 112.2 L154.5 114.2 L152.1 116.3 L149.6 118.4 L147.2 120.6 L144.7 122.8 L142.3 125.1 L139.8 127.5 L137.4 129.9 L134.9 132.3Z" fill="#b7ff48"/>
<path d="M136.2 131.1 L123.1 120.4 L120 115.8 L118.6 112.3 L118.2 109.3 L118.4 106.7 L119 104.4 L119.9 102.2 L121.1 100.2 L122.5 98.4 L124 96.6 L125.7 94.9 L127.5 93.3 L129.5 91.8 L131.5 90.3 L133.6 88.9 L135.8 87.6 L138.1 86.3 L140.5 85 L142.9 83.8 L145.5 82.7 L148.1 81.6 L150.8 80.5 L153.6 79.5 L156.4 78.6 L159.4 77.7 L162.6 77 L165.8 76.3 L169.3 75.7 L172.9 75.2 L176.8 74.9 L181 74.7 L185.6 74.9 L190.8 75.3 L196.9 76.4 L204.6 78.4 L221.8 86.1 L221.8 86.1 L219.4 86.2 L217.1 86.4 L214.7 86.6 L212.3 86.9 L209.9 87.2 L207.5 87.6 L205.2 88 L202.8 88.5 L200.4 89.1 L198 89.7 L195.6 90.4 L193.3 91.2 L190.9 92.1 L188.5 93 L186.1 94 L183.8 95.1 L181.4 96.2 L179 97.4 L176.6 98.7 L174.2 100.1 L171.9 101.5 L169.5 103.1 L167.1 104.6 L164.7 106.3 L162.3 108 L160 109.8 L157.6 111.7 L155.2 113.6 L152.8 115.6 L150.5 117.7 L148.1 119.8 L145.7 121.9 L143.3 124.1 L140.9 126.4 L138.6 128.7 L136.2 131.1Z" fill="#d4ff2b"/>
<path d="M137.5 129.8 L125.1 119.6 L122.1 115.2 L120.8 111.7 L120.3 108.8 L120.5 106.3 L121 104 L121.9 101.9 L123 100 L124.3 98.2 L125.8 96.4 L127.4 94.8 L129.2 93.2 L131 91.8 L133 90.3 L135 89 L137.2 87.6 L139.4 86.4 L141.7 85.2 L144 84 L146.5 82.9 L149 81.8 L151.6 80.8 L154.3 79.8 L157.2 79 L160.1 78.1 L163.1 77.4 L166.3 76.7 L169.6 76.2 L173.2 75.7 L177 75.4 L181.1 75.3 L185.5 75.4 L190.6 75.9 L196.4 76.9 L203.9 78.8 L220.4 86.2 L220.4 86.2 L218.1 86.3 L215.8 86.5 L213.5 86.7 L211.2 87 L208.9 87.4 L206.6 87.7 L204.3 88.2 L202 88.7 L199.7 89.3 L197.4 89.9 L195.1 90.6 L192.8 91.4 L190.4 92.2 L188.1 93.1 L185.8 94.1 L183.5 95.2 L181.2 96.3 L178.9 97.5 L176.6 98.7 L174.3 100 L172 101.4 L169.7 102.9 L167.4 104.4 L165.1 106 L162.8 107.7 L160.5 109.4 L158.2 111.2 L155.9 113 L153.6 115 L151.3 116.9 L149 118.9 L146.7 121 L144.4 123.1 L142.1 125.3 L139.8 127.5 L137.5 129.8Z" fill="#f2ff0d"/>
<path d="M138.8 128.4 L127.1 118.8 L124.2 114.5 L122.9 111.2 L122.5 108.4 L122.6 105.9 L123.1 103.7 L123.9 101.6 L125 99.7 L126.2 98 L127.6 96.3 L129.2 94.7 L130.9 93.2 L132.6 91.7 L134.5 90.3 L136.5 89 L138.5 87.7 L140.7 86.5 L142.9 85.3 L145.2 84.2 L147.5 83.1 L150 82.1 L152.5 81.1 L155.2 80.2 L157.9 79.3 L160.7 78.5 L163.7 77.8 L166.8 77.2 L170 76.7 L173.5 76.2 L177.1 76 L181.1 75.9 L185.4 76 L190.3 76.4 L196 77.4 L203.2 79.3 L218.9 86.3 L218.9 86.3 L216.7 86.4 L214.5 86.6 L212.2 86.9 L210 87.2 L207.8 87.5 L205.6 87.9 L203.3 88.4 L201.1 88.9 L198.9 89.5 L196.7 90.1 L194.4 90.8 L192.2 91.6 L190 92.4 L187.8 93.3 L185.5 94.2 L183.3 95.3 L181.1 96.3 L178.9 97.5 L176.7 98.7 L174.4 100 L172.2 101.3 L170 102.7 L167.8 104.2 L165.5 105.7 L163.3 107.3 L161.1 109 L158.9 110.7 L156.6 112.5 L154.4 114.3 L152.2 116.2 L150 118.1 L147.7 120.1 L145.5 122.1 L143.3 124.2 L141.1 126.3 L138.8 128.4Z" fill="#ffef00"/>
<path d="M140.2 127.1 L129.1 117.9 L126.3 113.8 L125.1 110.6 L124.7 107.9 L124.8 105.5 L125.2 103.3 L126 101.3 L127 99.5 L128.2 97.8 L129.5 96.1 L131 94.6 L132.6 93.1 L134.3 91.7 L136.1 90.4 L138 89.1 L139.9 87.8 L142 86.6 L144.1 85.5 L146.3 84.4 L148.6 83.4 L151 82.4 L153.4 81.4 L156 80.6 L158.6 79.7 L161.4 79 L164.2 78.3 L167.2 77.7 L170.4 77.2 L173.7 76.8 L177.3 76.5 L181.1 76.4 L185.3 76.6 L190 77 L195.5 77.9 L202.4 79.7 L217.4 86.4 L217.4 86.4 L215.3 86.6 L213.1 86.8 L211 87 L208.8 87.4 L206.7 87.7 L204.6 88.1 L202.4 88.6 L200.3 89.1 L198.1 89.7 L196 90.3 L193.8 91 L191.7 91.8 L189.5 92.6 L187.4 93.5 L185.3 94.4 L183.1 95.4 L181 96.4 L178.8 97.5 L176.7 98.7 L174.5 99.9 L172.4 101.2 L170.2 102.6 L168.1 104 L165.9 105.4 L163.8 107 L161.7 108.5 L159.5 110.2 L157.4 111.9 L155.2 113.6 L153.1 115.4 L150.9 117.2 L148.8 119.1 L146.6 121.1 L144.5 123 L142.4 125 L140.2 127.1Z" fill="#ffd100"/>
<path d="M141.6 125.7 L131.1 117 L128.5 113 L127.3 109.9 L126.9 107.3 L127 105 L127.4 102.9 L128.1 101 L129 99.2 L130.2 97.6 L131.4 96 L132.8 94.5 L134.4 93.1 L136 91.7 L137.7 90.4 L139.5 89.1 L141.4 87.9 L143.4 86.8 L145.4 85.7 L147.5 84.7 L149.7 83.7 L152 82.7 L154.4 81.8 L156.8 81 L159.4 80.2 L162 79.4 L164.8 78.8 L167.7 78.2 L170.8 77.7 L174 77.4 L177.4 77.1 L181.1 77.1 L185.2 77.2 L189.7 77.6 L195 78.5 L201.6 80.2 L215.9 86.5 L215.9 86.5 L213.8 86.7 L211.8 86.9 L209.7 87.2 L207.6 87.6 L205.6 87.9 L203.5 88.4 L201.4 88.8 L199.4 89.4 L197.3 89.9 L195.3 90.6 L193.2 91.2 L191.1 92 L189.1 92.8 L187 93.6 L184.9 94.5 L182.9 95.5 L180.8 96.5 L178.8 97.6 L176.7 98.7 L174.6 99.9 L172.6 101.1 L170.5 102.4 L168.4 103.7 L166.4 105.1 L164.3 106.6 L162.3 108.1 L160.2 109.6 L158.1 111.3 L156.1 112.9 L154 114.6 L152 116.4 L149.9 118.2 L147.8 120 L145.8 121.9 L143.7 123.8 L141.6 125.7Z" fill="#ffb400"/>
<path d="M143.1 124.3 L133.1 116 L130.7 112.3 L129.5 109.3 L129.1 106.8 L129.2 104.6 L129.6 102.6 L130.3 100.7 L131.2 99 L132.2 97.4 L133.4 95.8 L134.7 94.4 L136.2 93 L137.7 91.7 L139.4 90.4 L141.1 89.2 L142.9 88.1 L144.8 87 L146.7 85.9 L148.8 84.9 L150.9 84 L153.1 83 L155.4 82.2 L157.7 81.4 L160.2 80.6 L162.7 79.9 L165.4 79.3 L168.2 78.8 L171.1 78.3 L174.2 78 L177.6 77.8 L181.1 77.7 L185 77.8 L189.4 78.2 L194.4 79.1 L200.7 80.7 L214.3 86.6 L214.3 86.6 L212.3 86.9 L210.3 87.1 L208.4 87.4 L206.4 87.8 L204.4 88.2 L202.4 88.6 L200.5 89.1 L198.5 89.6 L196.5 90.2 L194.5 90.8 L192.5 91.5 L190.6 92.2 L188.6 93 L186.6 93.8 L184.6 94.7 L182.7 95.6 L180.7 96.6 L178.7 97.6 L176.7 98.7 L174.8 99.8 L172.8 101 L170.8 102.2 L168.8 103.5 L166.8 104.8 L164.9 106.2 L162.9 107.6 L160.9 109.1 L158.9 110.6 L157 112.2 L155 113.8 L153 115.5 L151 117.2 L149 118.9 L147.1 120.7 L145.1 122.5 L143.1 124.3Z" fill="#ff9600"/>
<path d="M144.6 122.9 L135.3 115 L132.9 111.5 L131.8 108.6 L131.5 106.2 L131.5 104.1 L131.9 102.2 L132.5 100.4 L133.3 98.7 L134.3 97.2 L135.4 95.7 L136.7 94.3 L138.1 93 L139.5 91.7 L141.1 90.5 L142.7 89.4 L144.4 88.2 L146.2 87.2 L148.1 86.2 L150.1 85.2 L152.1 84.3 L154.2 83.4 L156.4 82.6 L158.6 81.8 L161 81.1 L163.4 80.5 L166 79.9 L168.7 79.4 L171.5 79 L174.5 78.6 L177.7 78.4 L181.1 78.4 L184.8 78.5 L189 78.9 L193.8 79.7 L199.8 81.2 L212.7 86.8 L212.7 86.8 L210.8 87.1 L208.9 87.4 L207 87.7 L205.1 88 L203.2 88.4 L201.3 88.9 L199.4 89.3 L197.5 89.9 L195.7 90.4 L193.8 91.1 L191.9 91.7 L190 92.4 L188.1 93.2 L186.2 94 L184.3 94.8 L182.4 95.7 L180.5 96.6 L178.6 97.6 L176.8 98.6 L174.9 99.7 L173 100.8 L171.1 102 L169.2 103.2 L167.3 104.5 L165.4 105.8 L163.5 107.2 L161.6 108.5 L159.8 110 L157.9 111.5 L156 113 L154.1 114.5 L152.2 116.1 L150.3 117.8 L148.4 119.4 L146.5 121.2 L144.6 122.9Z" fill="#ff7800"/>
<path d="M146.2 121.4 L137.4 114 L135.2 110.6 L134.2 108 L133.8 105.7 L133.9 103.6 L134.2 101.8 L134.8 100.1 L135.6 98.5 L136.5 97 L137.5 95.6 L138.7 94.2 L140 93 L141.4 91.8 L142.9 90.6 L144.4 89.5 L146.1 88.4 L147.8 87.4 L149.5 86.5 L151.4 85.6 L153.3 84.7 L155.3 83.9 L157.4 83.1 L159.6 82.3 L161.8 81.7 L164.2 81.1 L166.6 80.5 L169.2 80 L171.9 79.6 L174.7 79.3 L177.8 79.1 L181 79.1 L184.6 79.2 L188.6 79.6 L193.1 80.3 L198.9 81.8 L211 87 L211 87 L209.2 87.3 L207.4 87.6 L205.6 87.9 L203.8 88.3 L202 88.7 L200.2 89.2 L198.4 89.6 L196.6 90.2 L194.8 90.7 L193 91.3 L191.2 92 L189.4 92.6 L187.6 93.4 L185.8 94.1 L184 95 L182.2 95.8 L180.4 96.7 L178.6 97.6 L176.8 98.6 L175 99.6 L173.2 100.7 L171.4 101.8 L169.6 103 L167.8 104.2 L166 105.4 L164.2 106.7 L162.4 108 L160.6 109.3 L158.8 110.7 L157 112.1 L155.2 113.6 L153.4 115.1 L151.6 116.6 L149.8 118.2 L148 119.8 L146.2 121.4Z" fill="#ff5a00"/>
<path d="M147.9 119.9 L139.7 113 L137.6 109.8 L136.7 107.2 L136.3 105.1 L136.3 103.1 L136.6 101.4 L137.2 99.7 L137.9 98.2 L138.8 96.8 L139.7 95.5 L140.8 94.2 L142.1 93 L143.4 91.8 L144.7 90.7 L146.2 89.7 L147.7 88.7 L149.4 87.7 L151 86.8 L152.8 85.9 L154.6 85.1 L156.5 84.3 L158.5 83.6 L160.6 82.9 L162.7 82.3 L164.9 81.7 L167.3 81.2 L169.7 80.7 L172.3 80.3 L175 80.1 L177.9 79.9 L181 79.8 L184.3 80 L188.1 80.3 L192.4 81 L197.8 82.4 L209.2 87.3 L209.2 87.3 L207.5 87.6 L205.8 87.9 L204.1 88.2 L202.4 88.6 L200.7 89 L199 89.5 L197.3 90 L195.6 90.5 L193.9 91 L192.2 91.6 L190.5 92.2 L188.8 92.9 L187.1 93.6 L185.4 94.3 L183.6 95.1 L181.9 95.9 L180.2 96.8 L178.5 97.7 L176.8 98.6 L175.1 99.6 L173.4 100.6 L171.7 101.6 L170 102.7 L168.3 103.8 L166.6 105 L164.9 106.2 L163.2 107.4 L161.5 108.6 L159.8 109.9 L158.1 111.3 L156.4 112.6 L154.7 114 L153 115.5 L151.3 116.9 L149.6 118.4 L147.9 119.9Z" fill="#ff3b00"/>
<path d="M149.7 118.3 L142 111.9 L140.1 108.9 L139.2 106.5 L138.9 104.5 L138.9 102.6 L139.2 101 L139.7 99.4 L140.3 98 L141.1 96.6 L142 95.4 L143.1 94.2 L144.2 93 L145.4 91.9 L146.7 90.9 L148.1 89.9 L149.5 88.9 L151 88 L152.6 87.2 L154.3 86.3 L156 85.6 L157.8 84.8 L159.6 84.1 L161.6 83.5 L163.6 82.9 L165.7 82.4 L167.9 81.9 L170.2 81.5 L172.6 81.1 L175.2 80.9 L177.9 80.7 L180.9 80.7 L184.1 80.8 L187.6 81.1 L191.7 81.8 L196.7 83 L207.3 87.6 L207.3 87.6 L205.7 87.9 L204.1 88.2 L202.5 88.6 L200.9 89 L199.3 89.4 L197.7 89.8 L196.1 90.3 L194.5 90.8 L192.9 91.3 L191.3 91.9 L189.7 92.5 L188.1 93.2 L186.5 93.8 L184.9 94.5 L183.3 95.3 L181.7 96.1 L180.1 96.9 L178.5 97.7 L176.9 98.6 L175.3 99.5 L173.7 100.4 L172.1 101.4 L170.5 102.4 L168.9 103.4 L167.3 104.5 L165.7 105.6 L164.1 106.8 L162.5 107.9 L160.9 109.1 L159.3 110.4 L157.7 111.6 L156.1 112.9 L154.5 114.2 L152.9 115.6 L151.3 116.9 L149.7 118.3Z" fill="#ff1d00"/>
<path d="M151.5 116.7 L144.5 110.7 L142.7 108 L141.9 105.7 L141.6 103.8 L141.6 102.1 L141.8 100.5 L142.3 99.1 L142.9 97.8 L143.6 96.5 L144.5 95.3 L145.4 94.2 L146.5 93.1 L147.6 92.1 L148.8 91.1 L150.1 90.2 L151.4 89.3 L152.8 88.4 L154.3 87.6 L155.8 86.8 L157.4 86.1 L159.1 85.4 L160.9 84.8 L162.7 84.2 L164.6 83.6 L166.5 83.1 L168.6 82.7 L170.8 82.3 L173 82 L175.4 81.7 L178 81.6 L180.7 81.5 L183.7 81.7 L187 82 L190.8 82.6 L195.5 83.7 L205.3 88 L205.3 88 L203.9 88.3 L202.4 88.6 L200.9 89 L199.4 89.4 L197.9 89.8 L196.4 90.2 L194.9 90.7 L193.4 91.2 L191.9 91.7 L190.4 92.3 L188.9 92.8 L187.4 93.4 L185.9 94.1 L184.4 94.8 L182.9 95.5 L181.4 96.2 L179.9 96.9 L178.4 97.7 L176.9 98.5 L175.4 99.4 L174 100.3 L172.5 101.2 L171 102.1 L169.5 103.1 L168 104.1 L166.5 105.1 L165 106.1 L163.5 107.2 L162 108.3 L160.5 109.4 L159 110.6 L157.5 111.8 L156 113 L154.5 114.2 L153 115.4 L151.5 116.7Z" fill="#fd0000"/>
<path d="M153.5 115 L147.1 109.5 L145.5 107 L144.7 104.9 L144.4 103.2 L144.4 101.6 L144.7 100.1 L145.1 98.8 L145.6 97.5 L146.3 96.4 L147 95.3 L147.9 94.2 L148.9 93.2 L149.9 92.2 L151 91.3 L152.2 90.5 L153.4 89.6 L154.7 88.9 L156.1 88.1 L157.5 87.4 L159 86.7 L160.5 86.1 L162.2 85.5 L163.8 84.9 L165.6 84.4 L167.4 84 L169.3 83.5 L171.3 83.2 L173.5 82.9 L175.7 82.7 L178.1 82.6 L180.6 82.5 L183.4 82.6 L186.4 82.9 L189.9 83.5 L194.2 84.5 L203.3 88.4 L203.3 88.4 L201.9 88.7 L200.5 89.1 L199.1 89.4 L197.7 89.8 L196.3 90.2 L195 90.7 L193.6 91.1 L192.2 91.6 L190.8 92.1 L189.4 92.6 L188.1 93.2 L186.7 93.8 L185.3 94.4 L183.9 95 L182.5 95.6 L181.2 96.3 L179.8 97 L178.4 97.8 L177 98.5 L175.6 99.3 L174.2 100.1 L172.9 100.9 L171.5 101.8 L170.1 102.7 L168.7 103.6 L167.3 104.5 L166 105.4 L164.6 106.4 L163.2 107.4 L161.8 108.4 L160.4 109.5 L159.1 110.5 L157.7 111.6 L156.3 112.7 L154.9 113.9 L153.5 115Z" fill="#de0000"/>
<path d="M155.7 113.2 L149.9 108.3 L148.5 106 L147.8 104.1 L147.5 102.5 L147.5 101 L147.7 99.7 L148 98.5 L148.5 97.3 L149.1 96.3 L149.8 95.2 L150.6 94.3 L151.5 93.4 L152.4 92.5 L153.4 91.6 L154.5 90.9 L155.6 90.1 L156.8 89.4 L158 88.7 L159.3 88 L160.7 87.4 L162.1 86.8 L163.6 86.3 L165.1 85.8 L166.7 85.3 L168.4 84.9 L170.1 84.5 L172 84.2 L173.9 84 L175.9 83.8 L178.1 83.7 L180.4 83.6 L182.9 83.7 L185.7 84 L188.9 84.5 L192.8 85.4 L201 88.9 L201 88.9 L199.7 89.3 L198.5 89.6 L197.2 90 L196 90.3 L194.7 90.7 L193.4 91.2 L192.2 91.6 L190.9 92.1 L189.7 92.5 L188.4 93 L187.1 93.6 L185.9 94.1 L184.6 94.7 L183.4 95.2 L182.1 95.8 L180.9 96.5 L179.6 97.1 L178.3 97.8 L177.1 98.5 L175.8 99.2 L174.6 99.9 L173.3 100.7 L172 101.4 L170.8 102.2 L169.5 103 L168.3 103.9 L167 104.7 L165.8 105.6 L164.5 106.5 L163.2 107.4 L162 108.3 L160.7 109.2 L159.5 110.2 L158.2 111.2 L156.9 112.2 L155.7 113.2Z" fill="#bf0000"/>
<path d="M158.1 111.3 L153 106.9 L151.7 104.9 L151.1 103.2 L150.8 101.8 L150.8 100.5 L151 99.3 L151.3 98.2 L151.7 97.2 L152.3 96.2 L152.9 95.3 L153.6 94.4 L154.3 93.6 L155.2 92.8 L156.1 92 L157 91.3 L158 90.7 L159.1 90 L160.2 89.4 L161.3 88.8 L162.5 88.3 L163.8 87.7 L165.1 87.3 L166.5 86.8 L167.9 86.4 L169.4 86 L171 85.7 L172.6 85.4 L174.4 85.2 L176.2 85 L178.1 84.9 L180.2 84.9 L182.5 85 L184.9 85.2 L187.8 85.7 L191.3 86.5 L198.5 89.6 L198.5 89.6 L197.4 89.9 L196.3 90.2 L195.1 90.6 L194 91 L192.9 91.3 L191.8 91.7 L190.6 92.2 L189.5 92.6 L188.4 93 L187.3 93.5 L186.2 94 L185 94.5 L183.9 95 L182.8 95.5 L181.7 96.1 L180.5 96.6 L179.4 97.2 L178.3 97.8 L177.2 98.4 L176 99 L174.9 99.7 L173.8 100.4 L172.7 101 L171.6 101.7 L170.4 102.4 L169.3 103.2 L168.2 103.9 L167.1 104.7 L165.9 105.4 L164.8 106.2 L163.7 107 L162.6 107.9 L161.4 108.7 L160.3 109.6 L159.2 110.4 L158.1 111.3Z" fill="#a00000"/>
<path d="M160.8 109.2 L156.4 105.5 L155.3 103.7 L154.8 102.3 L154.6 101 L154.6 99.9 L154.7 98.9 L155 97.9 L155.3 97 L155.8 96.2 L156.3 95.4 L156.9 94.6 L157.6 93.9 L158.3 93.2 L159 92.6 L159.8 92 L160.7 91.4 L161.6 90.8 L162.6 90.3 L163.6 89.8 L164.6 89.3 L165.7 88.8 L166.9 88.4 L168 88 L169.3 87.7 L170.6 87.4 L171.9 87.1 L173.4 86.8 L174.9 86.6 L176.5 86.5 L178.1 86.4 L179.9 86.4 L181.9 86.5 L184 86.7 L186.5 87 L189.5 87.8 L195.7 90.4 L195.7 90.4 L194.7 90.7 L193.8 91 L192.8 91.4 L191.8 91.7 L190.9 92.1 L189.9 92.4 L188.9 92.8 L188 93.2 L187 93.6 L186 94 L185 94.5 L184.1 94.9 L183.1 95.4 L182.1 95.8 L181.2 96.3 L180.2 96.8 L179.2 97.3 L178.2 97.8 L177.3 98.4 L176.3 98.9 L175.3 99.5 L174.4 100 L173.4 100.6 L172.4 101.2 L171.4 101.8 L170.5 102.4 L169.5 103 L168.5 103.7 L167.6 104.3 L166.6 105 L165.6 105.7 L164.6 106.4 L163.7 107.1 L162.7 107.8 L161.7 108.5 L160.8 109.2Z" fill="#810000"/>
<path d="M164 106.9 L160.5 103.8 L159.6 102.4 L159.1 101.2 L159 100.2 L159 99.3 L159.1 98.4 L159.3 97.7 L159.6 96.9 L159.9 96.2 L160.4 95.6 L160.8 95 L161.4 94.4 L161.9 93.8 L162.6 93.3 L163.2 92.8 L163.9 92.3 L164.7 91.8 L165.4 91.4 L166.2 91 L167.1 90.6 L168 90.2 L168.9 89.9 L169.9 89.6 L170.9 89.3 L172 89 L173.1 88.8 L174.2 88.6 L175.5 88.5 L176.8 88.3 L178.1 88.3 L179.6 88.3 L181.2 88.3 L183 88.5 L185 88.8 L187.4 89.4 L192.4 91.5 L192.4 91.5 L191.6 91.8 L190.9 92.1 L190.1 92.4 L189.3 92.7 L188.5 93 L187.7 93.3 L186.9 93.7 L186.1 94 L185.3 94.3 L184.5 94.7 L183.7 95.1 L182.9 95.4 L182.2 95.8 L181.4 96.2 L180.6 96.6 L179.8 97 L179 97.4 L178.2 97.9 L177.4 98.3 L176.6 98.7 L175.8 99.2 L175 99.6 L174.2 100.1 L173.4 100.6 L172.7 101 L171.9 101.5 L171.1 102 L170.3 102.5 L169.5 103 L168.7 103.6 L167.9 104.1 L167.1 104.6 L166.3 105.2 L165.5 105.7 L164.7 106.3 L164 106.9Z" fill="#800000"/>
<path d="M168.1 104 L165.7 101.9 L165 100.8 L164.7 100 L164.6 99.3 L164.6 98.7 L164.7 98.1 L164.8 97.5 L165 97 L165.3 96.5 L165.6 96 L165.9 95.6 L166.3 95.2 L166.7 94.8 L167.1 94.4 L167.6 94 L168.1 93.7 L168.6 93.4 L169.1 93.1 L169.7 92.8 L170.3 92.5 L170.9 92.2 L171.6 92 L172.3 91.8 L173 91.6 L173.8 91.4 L174.5 91.2 L175.4 91.1 L176.2 91 L177.2 90.9 L178.1 90.8 L179.2 90.8 L180.3 90.9 L181.5 91 L182.9 91.2 L184.7 91.6 L188.2 93.1 L188.2 93.1 L187.6 93.3 L187.1 93.6 L186.5 93.8 L186 94.1 L185.4 94.3 L184.9 94.6 L184.3 94.8 L183.7 95.1 L183.2 95.3 L182.6 95.6 L182.1 95.9 L181.5 96.1 L180.9 96.4 L180.4 96.7 L179.8 97 L179.3 97.3 L178.7 97.6 L178.1 97.9 L177.6 98.2 L177 98.5 L176.5 98.8 L175.9 99.1 L175.4 99.4 L174.8 99.8 L174.2 100.1 L173.7 100.4 L173.1 100.8 L172.6 101.1 L172 101.4 L171.4 101.8 L170.9 102.1 L170.3 102.5 L169.8 102.9 L169.2 103.2 L168.7 103.6 L168.1 104Z" fill="#800000"/>
<path d="M48.7 118.5 L187.2 49.1 L250.3 87.3 L246.5 87 L242.7 86.7 L238.8 86.4 L235 86.2 L231.1 86.1 L227.3 86 L223.4 86.1 L219.6 86.2 L215.7 86.5 L211.9 86.9 L208 87.5 L204.2 88.2 L200.3 89.1 L196.5 90.2 L192.6 91.4 L188.8 92.9 L184.9 94.5 L181.1 96.3 L177.3 98.4 L173.4 100.6 L169.6 103 L165.7 105.6 L161.9 108.4 L158 111.3 L154.2 114.5 L150.3 117.8 L146.5 121.2 L142.6 124.8 L138.8 128.5 L134.9 132.3 L131.1 136.2 L127.2 140.2 L123.4 144.3 L119.5 148.4 L115.7 152.5 L111.8 156.7Z" fill="url(#spkA)" mask="url(#mA)"/>
<path d="M48.7 118.5L175 194.9M175 194.9L313.5 125.5M48.7 118.5L48.7 89.2M48.7 118.5L45.7 120M175 194.9L177.6 196.5M61.3 126.1L58.3 127.7M188.8 188L191.4 189.6M74 133.8L71 135.3M202.7 181L205.3 182.6M86.6 141.4L83.6 143M216.6 174.1L219.2 175.7M99.2 149.1L96.2 150.6M230.4 167.1L233 168.7M111.8 156.7L108.8 158.2M244.2 160.2L246.8 161.8M124.5 164.3L121.5 165.9M258.1 153.3L260.7 154.9M137.1 172L134.1 173.5M271.9 146.3L274.6 147.9M149.7 179.6L146.7 181.2M285.8 139.4L288.4 141M162.4 187.3L159.4 188.8M299.6 132.4L302.2 134M175 194.9L172 196.5M313.5 125.5L316.1 127.1M48.7 118.5L45.5 117.5M48.7 103.8L45.5 102.8M48.7 89.2L45.5 88.2" stroke="#222" stroke-width="0.8" fill="none"/>
<text x="43.5" y="127.2" font-size="6.6" text-anchor="end" font-family="Liberation Sans, sans-serif" fill="#222" >0</text>
<text x="179.4" y="203.8" font-size="6.6" text-anchor="start" font-family="Liberation Sans, sans-serif" fill="#222" >0</text>
<text x="56.1" y="134.8" font-size="6.6" text-anchor="end" font-family="Liberation Sans, sans-serif" fill="#222" >0.2</text>
<text x="193.2" y="196.8" font-size="6.6" text-anchor="start" font-family="Liberation Sans, sans-serif" fill="#222" >0.2</text>
<text x="68.8" y="142.5" font-size="6.6" text-anchor="end" font-family="Liberation Sans, sans-serif" fill="#222" >0.4</text>
<text x="207.1" y="189.9" font-size="6.6" text-anchor="start" font-family="Liberation Sans, sans-serif" fill="#222" >0.4</text>
<text x="81.4" y="150.1" font-size="6.6" text-anchor="end" font-family="Liberation Sans, sans-serif" fill="#222" >0.6</text>
<text x="221" y="182.9" font-size="6.6" text-anchor="start" font-family="Liberation Sans, sans-serif" fill="#222" >0.6</text>
<text x="94" y="157.8" font-size="6.6" text-anchor="end" font-family="Liberation Sans, sans-serif" fill="#222" >0.8</text>
<text x="234.8" y="176" font-size="6.6" text-anchor="start" font-family="Liberation Sans, sans-serif" fill="#222" >0.8</text>
<text x="106.6" y="165.4" font-size="6.6" text-anchor="end" font-family="Liberation Sans, sans-serif" fill="#222" >1</text>
<text x="248.7" y="169" font-size="6.6" text-anchor="start" font-family="Liberation Sans, sans-serif" fill="#222" >1</text>
<text x="119.3" y="173" font-size="6.6" text-anchor="end" font-family="Liberation Sans, sans-serif" fill="#222" >1.2</text>
<text x="262.5" y="162.1" font-size="6.6" text-anchor="start" font-family="Liberation Sans, sans-serif" fill="#222" >1.2</text>
<text x="131.9" y="180.7" font-size="6.6" text-anchor="end" font-family="Liberation Sans, sans-serif" fill="#222" >1.4</text>
<text x="276.3" y="155.2" font-size="6.6" text-anchor="start" font-family="Liberation Sans, sans-serif" fill="#222" >1.4</text>
<text x="144.5" y="188.3" font-size="6.6" text-anchor="end" font-family="Liberation Sans, sans-serif" fill="#222" >1.6</text>
<text x="290.2" y="148.2" font-size="6.6" text-anchor="start" font-family="Liberation Sans, sans-serif" fill="#222" >1.6</text>
<text x="157.2" y="196" font-size="6.6" text-anchor="end" font-family="Liberation Sans, sans-serif" fill="#222" >1.8</text>
<text x="304" y="141.3" font-size="6.6" text-anchor="start" font-family="Liberation Sans, sans-serif" fill="#222" >1.8</text>
<text x="169.8" y="203.6" font-size="6.6" text-anchor="end" font-family="Liberation Sans, sans-serif" fill="#222" >2</text>
<text x="317.9" y="134.3" font-size="6.6" text-anchor="start" font-family="Liberation Sans, sans-serif" fill="#222" >2</text>
<text x="44" y="120.8" font-size="6.6" text-anchor="end" font-family="Liberation Sans, sans-serif" fill="#222" >0</text>
<text x="44" y="106.1" font-size="6.6" text-anchor="end" font-family="Liberation Sans, sans-serif" fill="#222" >0.2</text>
<text x="44" y="91.5" font-size="6.6" text-anchor="end" font-family="Liberation Sans, sans-serif" fill="#222" >0.4</text>
<text x="120.4" y="204.7" font-size="7.4" text-anchor="middle" font-family="Liberation Serif, serif" fill="#222" >x (m)</text>
<text x="246.8" y="200" font-size="7.4" text-anchor="middle" font-family="Liberation Serif, serif" fill="#222" >y (m)</text>
<text x="0" y="0" font-size="7.4" text-anchor="middle" font-family="Liberation Serif, serif" fill="#222" transform="translate(30.4,105.2) rotate(-90)">w (mm)</text>
<text x="183.9" y="13.8" font-size="6.75" text-anchor="middle" font-family="Liberation Sans, sans-serif" fill="#222" >E<tspan font-size="5" dy="1.6">11</tspan><tspan dy="-1.6">/E</tspan><tspan font-size="5" dy="1.6">22</tspan><tspan dy="-1.6"> = 14,a = 2m, b = 2m, h = 0.12m, l</tspan><tspan font-size="5" dy="1.6">2</tspan><tspan dy="-1.6"> = 0.8m, h</tspan><tspan font-size="5" dy="1.6">2</tspan><tspan dy="-1.6"> = 0.024m</tspan></text></g>
<g id="pins"><rect x="184" y="232" width="133.5" height="70" fill="#fff" fill-opacity="0.0" stroke="#222" stroke-width="0.7"/>
<path d="M184 302L184 300.5M184 232L184 233.5M217.4 302L217.4 300.5M217.4 232L217.4 233.5M250.8 302L250.8 300.5M250.8 232L250.8 233.5M284.1 302L284.1 300.5M284.1 232L284.1 233.5M317.5 302L317.5 300.5M317.5 232L317.5 233.5M184 302L185.5 302M317.5 302L316 302M184 267L185.5 267M317.5 267L316 267M184 232L185.5 232M317.5 232L316 232" stroke="#222" stroke-width="0.6"/>
<path d="M184 251 L184.4 248.8 L184.9 246.8 L185.3 244.9 L185.8 243.2 L186.2 241.7 L186.7 240.4 L187.1 239.3 L187.6 238.4 L188 237.8 L188.4 237.4 L188.9 237.2 L189.3 237.3 L189.8 237.6 L190.2 238.1 L190.7 238.9 L191.1 239.9 L191.6 241.1 L192 242.5 L192.5 244.1 L192.9 245.9 L193.3 247.8 L193.8 249.9 L194.2 252.2 L194.7 254.5 L195.1 257 L195.6 259.5 L196 262.1 L196.5 264.7 L196.9 267.3 L197.3 269.9 L197.8 272.5 L198.2 275.1 L198.7 277.6 L199.1 279.9 L199.6 282.2 L200 284.4 L200.5 286.4 L200.9 288.2 L201.4 289.9 L201.8 291.3 L202.2 292.6 L202.7 293.7 L203.1 294.5 L203.6 295.1 L204 295.5 L204.5 295.6 L204.9 295.5 L205.4 295.2 L205.8 294.6 L206.2 293.8 L206.7 292.8 L207.1 291.5 L207.6 290.1 L208 288.4 L208.5 286.6 L208.9 284.6 L209.4 282.5 L209.8 280.3 L210.3 277.9 L210.7 275.4 L211.1 272.9 L211.6 270.3 L212 267.7 L212.5 265 L212.9 262.4 L213.4 259.8 L213.8 257.3 L214.3 254.8 L214.7 252.5 L215.2 250.2 L215.6 248.1 L216 246.1 L216.5 244.3 L216.9 242.7 L217.4 241.2 L217.8 240 L218.3 239 L218.7 238.2 L219.2 237.6 L219.6 237.3 L220 237.2 L220.5 237.3 L220.9 237.7 L221.4 238.3 L221.8 239.2 L222.3 240.2 L222.7 241.5 L223.2 243 L223.6 244.7 L224.1 246.5 L224.5 248.5 L224.9 250.7 L225.4 252.9 L225.8 255.3 L226.3 257.8 L226.7 260.3 L227.2 262.9 L227.6 265.6 L228.1 268.2 L228.5 270.8 L228.9 273.4 L229.4 275.9 L229.8 278.4 L230.3 280.7 L230.7 283 L231.2 285.1 L231.6 287 L232.1 288.8 L232.5 290.4 L232.9 291.8 L233.4 293 L233.8 294 L234.3 294.7 L234.7 295.2 L235.2 295.5 L235.6 295.6 L236.1 295.4 L236.5 295 L237 294.3 L237.4 293.5 L237.8 292.4 L238.3 291.1 L238.7 289.5 L239.2 287.8 L239.6 286 L240.1 283.9 L240.5 281.8 L241 279.5 L241.4 277.1 L241.8 274.6 L242.3 272 L242.7 269.4 L243.2 266.8 L243.6 264.2 L244.1 261.5 L244.5 259 L245 256.5 L245.4 254 L245.9 251.7 L246.3 249.5 L246.7 247.4 L247.2 245.5 L247.6 243.7 L248.1 242.2 L248.5 240.8 L249 239.6 L249.4 238.7 L249.9 238 L250.3 237.5 L250.8 237.2 L251.2 237.2 L251.6 237.4 L252.1 237.9 L252.5 238.6 L253 239.5 L253.4 240.6 L253.9 242 L254.3 243.5 L254.8 245.3 L255.2 247.2 L255.6 249.2 L256.1 251.4 L256.5 253.7 L257 256.1 L257.4 258.7 L257.9 261.2 L258.3 263.8 L258.8 266.5 L259.2 269.1 L259.6 271.7 L260.1 274.3 L260.5 276.8 L261 279.2 L261.4 281.5 L261.9 283.7 L262.3 285.7 L262.8 287.6 L263.2 289.3 L263.7 290.9 L264.1 292.2 L264.5 293.3 L265 294.2 L265.4 294.9 L265.9 295.4 L266.3 295.6 L266.8 295.6 L267.2 295.3 L267.7 294.8 L268.1 294.1 L268.6 293.1 L269 291.9 L269.4 290.6 L269.9 289 L270.3 287.2 L270.8 285.3 L271.2 283.2 L271.7 281 L272.1 278.7 L272.6 276.2 L273 273.7 L273.4 271.1 L273.9 268.5 L274.3 265.9 L274.8 263.3 L275.2 260.7 L275.7 258.1 L276.1 255.6 L276.6 253.2 L277 250.9 L277.4 248.8 L277.9 246.7 L278.3 244.9 L278.8 243.2 L279.2 241.7 L279.7 240.4 L280.1 239.3 L280.6 238.4 L281 237.8 L281.5 237.4 L281.9 237.2 L282.3 237.3 L282.8 237.6 L283.2 238.1 L283.7 238.9 L284.1 239.9 L284.6 241.1 L285 242.5 L285.5 244.1 L285.9 245.9 L286.4 247.8 L286.8 249.9 L287.2 252.2 L287.7 254.5 L288.1 257 L288.6 259.5 L289 262.1 L289.5 264.7 L289.9 267.3 L290.4 270 L290.8 272.6 L291.2 275.1 L291.7 277.6 L292.1 280 L292.6 282.2 L293 284.4 L293.5 286.4 L293.9 288.2 L294.4 289.9 L294.8 291.4 L295.2 292.6 L295.7 293.7 L296.1 294.5 L296.6 295.1 L297 295.5 L297.5 295.6 L297.9 295.5 L298.4 295.2 L298.8 294.6 L299.3 293.8 L299.7 292.7 L300.1 291.5 L300.6 290.1 L301 288.4 L301.5 286.6 L301.9 284.6 L302.4 282.5 L302.8 280.2 L303.3 277.9 L303.7 275.4 L304.1 272.9 L304.6 270.3 L305 267.6 L305.5 265 L305.9 262.4 L306.4 259.8 L306.8 257.3 L307.3 254.8 L307.7 252.4 L308.2 250.2 L308.6 248.1 L309 246.1 L309.5 244.3 L309.9 242.7 L310.4 241.2 L310.8 240 L311.3 239 L311.7 238.2 L312.2 237.6 L312.6 237.3 L313.1 237.2 L313.5 237.3 L313.9 237.7 L314.4 238.3 L314.8 239.2 L315.3 240.2 L315.7 241.5 L316.2 243 L316.6 244.7 L317.1 246.5 L317.5 248.5" fill="none" stroke="#555" stroke-width="0.7"/>
<path d="M184 251.2 L184.4 251.1 L184.9 251.1 L185.3 251 L185.8 251 L186.2 251 L186.7 250.9 L187.1 250.9 L187.6 250.8 L188 250.8 L188.4 250.7 L188.9 250.6 L189.3 250.5 L189.8 250.4 L190.2 250.3 L190.7 250.2 L191.1 250.1 L191.6 249.9 L192 249.8 L192.5 249.6 L192.9 249.5 L193.3 249.3 L193.8 249.1 L194.2 249 L194.7 248.8 L195.1 248.6 L195.6 248.4 L196 248.2 L196.5 248 L196.9 247.8 L197.3 247.6 L197.8 247.4 L198.2 247.2 L198.7 247 L199.1 246.8 L199.6 246.6 L200 246.5 L200.5 246.3 L200.9 246.2 L201.4 246 L201.8 245.9 L202.2 245.7 L202.7 245.6 L203.1 245.5 L203.6 245.4 L204 245.3 L204.5 245.3 L204.9 245.2 L205.4 245.2 L205.8 245.1 L206.2 245.1 L206.7 245.1 L207.1 245.1 L207.6 245.1 L208 245.1 L208.5 245.2 L208.9 245.2 L209.4 245.3 L209.8 245.3 L210.3 245.4 L210.7 245.5 L211.1 245.5 L211.6 245.6 L212 245.7 L212.5 245.8 L212.9 245.9 L213.4 246 L213.8 246 L214.3 246.1 L214.7 246.2 L215.2 246.3 L215.6 246.3 L216 246.4 L216.5 246.4 L216.9 246.5 L217.4 246.5 L217.8 246.5 L218.3 246.6 L218.7 246.6 L219.2 246.6 L219.6 246.5 L220 246.5 L220.5 246.5 L220.9 246.4 L221.4 246.3 L221.8 246.2 L222.3 246.1 L222.7 246 L223.2 245.9 L223.6 245.8 L224.1 245.7 L224.5 245.5 L224.9 245.4 L225.4 245.2 L225.8 245.1 L226.3 244.9 L226.7 244.7 L227.2 244.5 L227.6 244.4 L228.1 244.2 L228.5 244 L228.9 243.8 L229.4 243.7 L229.8 243.5 L230.3 243.3 L230.7 243.2 L231.2 243 L231.6 242.9 L232.1 242.8 L232.5 242.7 L232.9 242.6 L233.4 242.5 L233.8 242.4 L234.3 242.3 L234.7 242.3 L235.2 242.2 L235.6 242.2 L236.1 242.2 L236.5 242.2 L237 242.2 L237.4 242.2 L237.8 242.3 L238.3 242.3 L238.7 242.4 L239.2 242.5 L239.6 242.6 L240.1 242.7 L240.5 242.8 L241 242.9 L241.4 243 L241.8 243.1 L242.3 243.3 L242.7 243.4 L243.2 243.6 L243.6 243.7 L244.1 243.9 L244.5 244 L245 244.1 L245.4 244.3 L245.9 244.4 L246.3 244.5 L246.7 244.7 L247.2 244.8 L247.6 244.9 L248.1 245 L248.5 245 L249 245.1 L249.4 245.2 L249.9 245.2 L250.3 245.2 L250.8 245.3 L251.2 245.3 L251.6 245.3 L252.1 245.2 L252.5 245.2 L253 245.1 L253.4 245.1 L253.9 245 L254.3 244.9 L254.8 244.8 L255.2 244.7 L255.6 244.6 L256.1 244.5 L256.5 244.3 L257 244.2 L257.4 244 L257.9 243.9 L258.3 243.7 L258.8 243.6 L259.2 243.4 L259.6 243.3 L260.1 243.1 L260.5 243 L261 242.9 L261.4 242.7 L261.9 242.6 L262.3 242.5 L262.8 242.4 L263.2 242.3 L263.7 242.2 L264.1 242.1 L264.5 242.1 L265 242 L265.4 242 L265.9 242 L266.3 242 L266.8 242 L267.2 242.1 L267.7 242.1 L268.1 242.2 L268.6 242.3 L269 242.4 L269.4 242.5 L269.9 242.6 L270.3 242.7 L270.8 242.9 L271.2 243.1 L271.7 243.2 L272.1 243.4 L272.6 243.6 L273 243.8 L273.4 244 L273.9 244.2 L274.3 244.4 L274.8 244.6 L275.2 244.8 L275.7 245 L276.1 245.2 L276.6 245.4 L277 245.6 L277.4 245.8 L277.9 245.9 L278.3 246.1 L278.8 246.2 L279.2 246.4 L279.7 246.5 L280.1 246.6 L280.6 246.7 L281 246.8 L281.5 246.9 L281.9 246.9 L282.3 247 L282.8 247 L283.2 247 L283.7 247 L284.1 247 L284.6 247 L285 246.9 L285.5 246.9 L285.9 246.8 L286.4 246.7 L286.8 246.6 L287.2 246.5 L287.7 246.4 L288.1 246.3 L288.6 246.1 L289 246 L289.5 245.9 L289.9 245.8 L290.4 245.6 L290.8 245.5 L291.2 245.4 L291.7 245.3 L292.1 245.1 L292.6 245 L293 244.9 L293.5 244.9 L293.9 244.8 L294.4 244.7 L294.8 244.7 L295.2 244.6 L295.7 244.6 L296.1 244.6 L296.6 244.6 L297 244.7 L297.5 244.7 L297.9 244.8 L298.4 244.9 L298.8 245 L299.3 245.1 L299.7 245.2 L300.1 245.4 L300.6 245.5 L301 245.7 L301.5 245.9 L301.9 246.1 L302.4 246.3 L302.8 246.6 L303.3 246.8 L303.7 247 L304.1 247.3 L304.6 247.6 L305 247.8 L305.5 248.1 L305.9 248.3 L306.4 248.6 L306.8 248.9 L307.3 249.1 L307.7 249.4 L308.2 249.6 L308.6 249.9 L309 250.1 L309.5 250.3 L309.9 250.5 L310.4 250.7 L310.8 250.9 L311.3 251 L311.7 251.2 L312.2 251.3 L312.6 251.4 L313.1 251.5 L313.5 251.6 L313.9 251.7 L314.4 251.7 L314.8 251.8 L315.3 251.8 L315.7 251.8 L316.2 251.8 L316.6 251.8 L317.1 251.8 L317.5 251.8" fill="none" stroke="#666" stroke-width="0.6" stroke-dasharray="2.5 1 0.7 1"/>
<text x="184" y="308.8" font-size="9" text-anchor="middle" font-family="Liberation Sans, sans-serif" fill="#222" >0.6</text>
<text x="217.4" y="308.8" font-size="9" text-anchor="middle" font-family="Liberation Sans, sans-serif" fill="#222" >0.8</text>
<text x="250.8" y="308.8" font-size="9" text-anchor="middle" font-family="Liberation Sans, sans-serif" fill="#222" >1</text>
<text x="284.1" y="308.8" font-size="9" text-anchor="middle" font-family="Liberation Sans, sans-serif" fill="#222" >1.2</text>
<text x="317.5" y="308.8" font-size="9" text-anchor="middle" font-family="Liberation Sans, sans-serif" fill="#222" >1.4</text>
<text x="182.5" y="235.2" font-size="9" text-anchor="end" font-family="Liberation Sans, sans-serif" fill="#222" >5</text>
<text x="182.5" y="270.2" font-size="9" text-anchor="end" font-family="Liberation Sans, sans-serif" fill="#222" >0</text>
<text x="182.5" y="305.2" font-size="9" text-anchor="end" font-family="Liberation Sans, sans-serif" fill="#222" >-5</text>
<text x="184.5" y="229.8" font-size="8" text-anchor="start" font-family="Liberation Sans, sans-serif" fill="#222" >x 10<tspan font-size="6" dy="-3">-4</tspan></text>
<text x="250" y="314.5" font-size="8.5" text-anchor="middle" font-family="Liberation Serif, serif" fill="#222" >x (m)</text>
<text x="0" y="0" font-size="8" text-anchor="middle" font-family="Liberation Serif, serif" fill="#222" transform="translate(173.5,265.5) rotate(-90)">u (mm)</text>
<rect x="283.4" y="249" width="26.5" height="16.4" fill="#fff" stroke="#222" stroke-width="0.6"/>
<path d="M284.8 253.6H296" stroke="#555" stroke-width="0.7"/>
<path d="M284.8 261H296" stroke="#666" stroke-width="0.6" stroke-dasharray="2.5 1 0.7 1"/>
<text x="297.5" y="256.5" font-size="8.2" text-anchor="start" font-family="Liberation Sans, sans-serif" fill="#222" >w2</text>
<text x="297.5" y="263.9" font-size="8.2" text-anchor="start" font-family="Liberation Sans, sans-serif" fill="#222" >w3</text></g>
<g id="pc"><path d="M165.9 304.2L165.9 269.2M155.1 313.1L155.1 278.1M144.4 322L144.4 287M133.6 331L133.6 296M122.9 339.9L122.9 304.9M112.1 348.8L112.1 313.8M101.3 357.7L101.3 322.7M90.6 366.6L90.6 331.6M79.8 375.6L79.8 340.6M69.1 384.5L69.1 349.5M58.3 393.4L58.3 358.4M165.9 304.2L58.3 393.4M165.9 286.7L58.3 375.9M165.9 269.2L58.3 358.4M181.7 310.4L181.7 275.4M197.4 316.5L197.4 281.5M213.2 322.7L213.2 287.7M228.9 328.9L228.9 293.9M244.7 335.1L244.7 300.1M260.4 341.2L260.4 306.2M276.2 347.4L276.2 312.4M291.9 353.6L291.9 318.6M307.6 359.7L307.6 324.7M323.4 365.9L323.4 330.9M165.9 304.2L323.4 365.9M165.9 286.7L323.4 348.4M165.9 269.2L323.4 330.9M165.9 304.2L58.3 393.4M165.9 304.2L323.4 365.9M181.7 310.4L74.1 399.6M155.1 313.1L312.6 374.8M197.4 316.5L89.8 405.7M144.4 322L301.9 383.7M213.2 322.7L105.6 411.9M133.6 331L291.1 392.7M228.9 328.9L121.3 418.1M122.9 339.9L280.4 401.6M244.7 335.1L137.1 424.2M112.1 348.8L269.6 410.5M260.4 341.2L152.8 430.4M101.3 357.7L258.8 419.4M276.2 347.4L168.6 436.6M90.6 366.6L248.1 428.3M291.9 353.6L184.3 442.8M79.8 375.6L237.3 437.3M307.6 359.7L200 448.9M69.1 384.5L226.6 446.2M323.4 365.9L215.8 455.1M58.3 393.4L215.8 455.1" stroke="#3a3a3a" stroke-width="0.65" stroke-dasharray="0.75 1.45" fill="none"/>
<path d="M165.9 304.2 L323.4 365.9 L269.6 410.5 L265.2 406.2 L260.8 401.9 L256.5 397.7 L252.1 393.5 L247.7 389.4 L243.3 385.3 L239 381.4 L234.6 377.7 L230.2 374 L225.8 370.6 L221.5 367.3 L217.1 364.2 L212.7 361.3 L208.4 358.5 L204 356.1 L199.6 353.8 L195.2 351.7 L190.9 349.9 L186.5 348.3 L182.1 346.9 L177.7 345.8 L173.4 344.8 L169 344.1 L164.6 343.6 L160.2 343.3 L155.9 343.1 L151.5 343.2 L147.1 343.4 L142.7 343.7 L138.4 344.2 L134 344.8 L129.6 345.5 L125.2 346.2 L120.9 347.1 L116.5 347.9 L112.1 348.8Z" fill="#000087"/>
<path d="M114 348.4 L162.5 313.6 L171 311.8 L177 312.1 L182.2 313.1 L187 314.4 L191.7 315.8 L196.2 317.2 L200.7 318.8 L205.1 320.3 L209.5 321.9 L213.9 323.6 L218.3 325.2 L222.6 326.8 L226.9 328.5 L231.3 330.2 L235.6 331.8 L239.9 333.5 L244.2 335.2 L248.5 336.9 L252.8 338.5 L257.1 340.2 L261.3 341.9 L265.6 343.6 L269.8 345.4 L274.1 347.1 L278.3 348.8 L282.5 350.6 L286.7 352.3 L290.9 354.1 L295 356 L299 357.9 L302.9 359.9 L306.5 362.1 L309.6 364.8 L310.7 369.1 L268.5 409.4 L268.5 409.4 L264.2 405.2 L259.9 401 L255.6 396.8 L251.3 392.7 L247 388.7 L242.7 384.8 L238.4 381 L234.1 377.3 L229.9 373.7 L225.6 370.4 L221.3 367.1 L217 364.1 L212.7 361.2 L208.4 358.6 L204.1 356.1 L199.8 353.9 L195.5 351.9 L191.3 350.1 L187 348.5 L182.7 347.1 L178.4 345.9 L174.1 345 L169.8 344.2 L165.5 343.7 L161.2 343.3 L156.9 343.2 L152.6 343.2 L148.4 343.3 L144.1 343.6 L139.8 344 L135.5 344.6 L131.2 345.2 L126.9 345.9 L122.6 346.7 L118.3 347.6 L114 348.4Z" fill="#000099"/>
<path d="M115.8 348.1 L158.5 317.9 L168.6 314.8 L175.5 314.3 L181.1 314.8 L186.3 315.7 L191.1 316.8 L195.8 318.1 L200.4 319.5 L204.9 321 L209.3 322.5 L213.7 324 L218 325.6 L222.3 327.1 L226.6 328.7 L230.9 330.3 L235.1 332 L239.4 333.6 L243.6 335.3 L247.8 336.9 L252 338.6 L256.2 340.3 L260.4 341.9 L264.6 343.6 L268.7 345.4 L272.8 347.1 L276.9 348.8 L281 350.6 L285 352.4 L289 354.3 L292.8 356.3 L296.5 358.3 L300 360.6 L303.1 363.2 L305.3 366.5 L304.6 372.2 L267.3 408.3 L267.3 408.3 L263.1 404.1 L258.9 400 L254.7 395.9 L250.5 391.9 L246.3 388 L242.1 384.2 L237.8 380.5 L233.6 376.9 L229.4 373.4 L225.2 370.1 L221 366.9 L216.8 364 L212.6 361.2 L208.4 358.6 L204.2 356.2 L200 354 L195.7 352 L191.5 350.2 L187.3 348.6 L183.1 347.2 L178.9 346.1 L174.7 345.1 L170.5 344.3 L166.3 343.8 L162.1 343.4 L157.9 343.2 L153.6 343.1 L149.4 343.3 L145.2 343.5 L141 343.9 L136.8 344.4 L132.6 345 L128.4 345.7 L124.2 346.4 L120 347.2 L115.8 348.1Z" fill="#0000ad"/>
<path d="M117.4 347.7 L156.1 320.8 L166.9 317 L174.3 316.1 L180.3 316.2 L185.7 316.8 L190.7 317.8 L195.5 318.9 L200.1 320.2 L204.6 321.5 L209 322.9 L213.4 324.4 L217.7 325.9 L222 327.4 L226.2 328.9 L230.5 330.5 L234.7 332.1 L238.8 333.7 L243 335.3 L247.1 336.9 L251.3 338.6 L255.4 340.2 L259.5 341.9 L263.5 343.6 L267.5 345.3 L271.6 347.1 L275.5 348.8 L279.4 350.7 L283.3 352.5 L287.1 354.5 L290.7 356.5 L294.2 358.7 L297.3 361.1 L299.9 364 L301.4 367.8 L299.6 374.3 L266.2 407.1 L266.2 407.1 L262 403.1 L257.9 399 L253.8 395.1 L249.6 391.1 L245.5 387.3 L241.4 383.6 L237.2 379.9 L233.1 376.4 L229 373 L224.8 369.8 L220.7 366.7 L216.6 363.8 L212.4 361.1 L208.3 358.5 L204.2 356.2 L200 354 L195.9 352 L191.8 350.3 L187.6 348.7 L183.5 347.3 L179.4 346.2 L175.2 345.2 L171.1 344.4 L167 343.9 L162.8 343.5 L158.7 343.2 L154.6 343.1 L150.4 343.2 L146.3 343.4 L142.2 343.8 L138.1 344.2 L133.9 344.8 L129.8 345.5 L125.7 346.2 L121.5 346.9 L117.4 347.7Z" fill="#0000c2"/>
<path d="M119 347.4 L154.7 322.9 L165.8 318.9 L173.4 317.6 L179.7 317.4 L185.2 317.9 L190.3 318.7 L195.1 319.6 L199.8 320.8 L204.3 322 L208.7 323.4 L213.1 324.8 L217.4 326.2 L221.6 327.6 L225.8 329.1 L230 330.7 L234.1 332.2 L238.3 333.8 L242.4 335.4 L246.4 337 L250.5 338.6 L254.5 340.2 L258.5 341.9 L262.4 343.6 L266.4 345.3 L270.3 347.1 L274.1 348.8 L277.9 350.7 L281.6 352.6 L285.2 354.6 L288.6 356.7 L291.8 359 L294.7 361.6 L296.9 364.7 L297.9 368.8 L295.5 375.8 L265 406 L265 406 L261 402 L256.9 398.1 L252.9 394.2 L248.8 390.4 L244.7 386.6 L240.7 382.9 L236.6 379.4 L232.6 376 L228.5 372.7 L224.5 369.5 L220.4 366.5 L216.3 363.6 L212.3 361 L208.2 358.5 L204.2 356.2 L200.1 354 L196.1 352.1 L192 350.4 L187.9 348.8 L183.9 347.5 L179.8 346.3 L175.8 345.3 L171.7 344.5 L167.7 343.9 L163.6 343.5 L159.5 343.3 L155.5 343.1 L151.4 343.2 L147.4 343.4 L143.3 343.7 L139.3 344.1 L135.2 344.6 L131.1 345.2 L127.1 345.9 L123 346.6 L119 347.4Z" fill="#0000d8"/>
<path d="M120.5 347.1 L153.8 324.6 L164.9 320.4 L172.7 318.9 L179.1 318.5 L184.8 318.8 L189.9 319.4 L194.8 320.3 L199.5 321.4 L204 322.5 L208.4 323.8 L212.8 325.1 L217 326.5 L221.2 327.9 L225.4 329.3 L229.5 330.8 L233.6 332.3 L237.7 333.9 L241.7 335.4 L245.7 337 L249.7 338.6 L253.6 340.2 L257.5 341.9 L261.4 343.6 L265.2 345.3 L269 347 L272.7 348.8 L276.3 350.7 L279.9 352.6 L283.3 354.6 L286.6 356.8 L289.6 359.2 L292.2 361.9 L294.1 365.2 L294.7 369.6 L291.9 376.7 L263.9 404.9 L263.9 404.9 L259.9 401 L255.9 397.1 L251.9 393.3 L247.9 389.6 L244 385.9 L240 382.3 L236 378.9 L232 375.5 L228 372.3 L224.1 369.2 L220.1 366.3 L216.1 363.5 L212.1 360.9 L208.1 358.4 L204.1 356.1 L200.2 354.1 L196.2 352.2 L192.2 350.4 L188.2 348.9 L184.2 347.6 L180.3 346.4 L176.3 345.4 L172.3 344.6 L168.3 344 L164.3 343.6 L160.3 343.3 L156.4 343.2 L152.4 343.2 L148.4 343.3 L144.4 343.6 L140.4 344 L136.4 344.5 L132.5 345 L128.5 345.7 L124.5 346.4 L120.5 347.1Z" fill="#0000ef"/>
<path d="M122 346.8 L153.3 325.9 L164.4 321.6 L172.3 320 L178.7 319.5 L184.4 319.6 L189.7 320.2 L194.6 320.9 L199.2 321.9 L203.8 323 L208.2 324.2 L212.5 325.4 L216.7 326.7 L220.9 328.1 L225 329.5 L229 331 L233.1 332.4 L237.1 333.9 L241 335.5 L244.9 337 L248.8 338.6 L252.7 340.2 L256.5 341.8 L260.3 343.5 L264 345.2 L267.7 347 L271.3 348.8 L274.8 350.7 L278.2 352.6 L281.5 354.7 L284.6 356.9 L287.4 359.4 L289.8 362.2 L291.4 365.6 L291.7 370.1 L288.7 377.4 L262.7 403.7 L262.7 403.7 L258.8 399.9 L254.9 396.1 L251 392.4 L247.1 388.8 L243.2 385.2 L239.3 381.7 L235.4 378.3 L231.5 375 L227.6 371.9 L223.6 368.9 L219.7 366 L215.8 363.3 L211.9 360.7 L208 358.4 L204.1 356.1 L200.2 354.1 L196.3 352.2 L192.4 350.5 L188.5 349 L184.6 347.7 L180.7 346.5 L176.8 345.5 L172.8 344.7 L168.9 344.1 L165 343.6 L161.1 343.3 L157.2 343.2 L153.3 343.2 L149.4 343.3 L145.5 343.5 L141.6 343.8 L137.7 344.3 L133.8 344.8 L129.9 345.4 L126 346.1 L122 346.8Z" fill="#0008ff"/>
<path d="M123.6 346.5 L153.1 326.9 L164 322.7 L171.9 321 L178.4 320.4 L184.2 320.4 L189.4 320.8 L194.3 321.5 L199 322.4 L203.5 323.4 L207.9 324.5 L212.2 325.7 L216.3 327 L220.5 328.3 L224.5 329.7 L228.5 331.1 L232.5 332.5 L236.4 334 L240.3 335.5 L244.2 337 L248 338.6 L251.8 340.2 L255.5 341.8 L259.2 343.5 L262.8 345.2 L266.4 346.9 L269.9 348.7 L273.3 350.6 L276.6 352.6 L279.7 354.7 L282.6 357 L285.3 359.5 L287.4 362.4 L288.9 365.9 L288.9 370.5 L285.8 377.8 L261.6 402.6 L261.6 402.6 L257.7 398.9 L253.9 395.2 L250.1 391.5 L246.2 388 L242.4 384.5 L238.6 381.1 L234.7 377.8 L230.9 374.6 L227.1 371.5 L223.2 368.6 L219.4 365.8 L215.6 363.1 L211.7 360.6 L207.9 358.3 L204.1 356.1 L200.2 354.1 L196.4 352.3 L192.6 350.6 L188.7 349.1 L184.9 347.8 L181.1 346.6 L177.2 345.7 L173.4 344.8 L169.6 344.2 L165.7 343.7 L161.9 343.4 L158.1 343.2 L154.2 343.1 L150.4 343.2 L146.6 343.4 L142.7 343.7 L138.9 344.1 L135.1 344.6 L131.2 345.2 L127.4 345.9 L123.6 346.5Z" fill="#0020ff"/>
<path d="M125.1 346.3 L153.1 327.8 L163.8 323.7 L171.7 321.9 L178.2 321.2 L184 321.1 L189.2 321.5 L194.1 322.1 L198.8 322.9 L203.3 323.8 L207.6 324.9 L211.8 326.1 L216 327.3 L220.1 328.5 L224.1 329.9 L228 331.2 L231.9 332.6 L235.8 334.1 L239.6 335.6 L243.4 337.1 L247.1 338.6 L250.8 340.2 L254.5 341.8 L258 343.4 L261.6 345.1 L265 346.9 L268.4 348.7 L271.7 350.6 L274.9 352.6 L277.9 354.7 L280.7 357 L283.2 359.6 L285.2 362.5 L286.4 366.1 L286.3 370.8 L283.1 378 L260.4 401.5 L260.4 401.5 L256.6 397.8 L252.9 394.2 L249.1 390.7 L245.4 387.2 L241.6 383.8 L237.8 380.4 L234.1 377.2 L230.3 374.1 L226.6 371.1 L222.8 368.3 L219 365.5 L215.3 362.9 L211.5 360.5 L207.8 358.2 L204 356.1 L200.2 354.1 L196.5 352.3 L192.7 350.7 L189 349.2 L185.2 347.9 L181.4 346.7 L177.7 345.8 L173.9 345 L170.2 344.3 L166.4 343.8 L162.7 343.4 L158.9 343.2 L155.1 343.1 L151.4 343.2 L147.6 343.4 L143.9 343.6 L140.1 344 L136.3 344.5 L132.6 345 L128.8 345.6 L125.1 346.3Z" fill="#0039ff"/>
<path d="M126.5 346 L153.2 328.6 L163.8 324.5 L171.6 322.7 L178.1 321.9 L183.8 321.8 L189 322.1 L193.9 322.6 L198.6 323.4 L203 324.3 L207.3 325.3 L211.5 326.4 L215.6 327.5 L219.7 328.8 L223.6 330 L227.5 331.4 L231.4 332.7 L235.1 334.2 L238.9 335.6 L242.6 337.1 L246.3 338.6 L249.9 340.2 L253.4 341.8 L256.9 343.4 L260.4 345.1 L263.7 346.8 L267 348.6 L270.2 350.5 L273.2 352.5 L276.1 354.7 L278.8 357 L281.1 359.6 L282.9 362.6 L284 366.2 L283.8 370.9 L280.6 378.1 L259.2 400.3 L259.2 400.3 L255.5 396.8 L251.9 393.2 L248.2 389.8 L244.5 386.4 L240.8 383 L237.1 379.8 L233.4 376.7 L229.7 373.6 L226.1 370.7 L222.4 367.9 L218.7 365.3 L215 362.7 L211.3 360.4 L207.6 358.1 L203.9 356 L200.3 354.1 L196.6 352.3 L192.9 350.7 L189.2 349.3 L185.5 348 L181.8 346.8 L178.1 345.9 L174.5 345.1 L170.8 344.4 L167.1 343.9 L163.4 343.5 L159.7 343.3 L156 343.2 L152.3 343.2 L148.7 343.3 L145 343.5 L141.3 343.9 L137.6 344.3 L133.9 344.8 L130.2 345.4 L126.5 346Z" fill="#0052ff"/>
<path d="M128 345.7 L153.5 329.3 L163.8 325.3 L171.5 323.4 L178 322.6 L183.7 322.4 L188.9 322.6 L193.8 323.1 L198.4 323.8 L202.8 324.6 L207.1 325.6 L211.2 326.7 L215.3 327.8 L219.3 329 L223.1 330.2 L227 331.5 L230.8 332.8 L234.5 334.2 L238.2 335.6 L241.8 337.1 L245.4 338.6 L248.9 340.1 L252.4 341.7 L255.8 343.3 L259.1 345 L262.4 346.8 L265.6 348.6 L268.7 350.5 L271.6 352.5 L274.3 354.6 L276.9 357 L279.1 359.6 L280.8 362.6 L281.7 366.2 L281.4 371 L278.2 378 L258 399.2 L258 399.2 L254.4 395.7 L250.8 392.3 L247.2 388.9 L243.6 385.6 L240 382.3 L236.4 379.2 L232.8 376.1 L229.1 373.2 L225.5 370.3 L221.9 367.6 L218.3 365 L214.7 362.5 L211.1 360.2 L207.5 358 L203.9 356 L200.3 354.1 L196.6 352.4 L193 350.8 L189.4 349.4 L185.8 348.1 L182.2 347 L178.6 346 L175 345.2 L171.4 344.5 L167.8 344 L164.1 343.6 L160.5 343.3 L156.9 343.2 L153.3 343.2 L149.7 343.3 L146.1 343.5 L142.5 343.8 L138.9 344.1 L135.3 344.6 L131.6 345.2 L128 345.7Z" fill="#006cff"/>
<path d="M129.5 345.5 L153.8 329.9 L164 326 L171.6 324.1 L178 323.3 L183.6 323 L188.8 323.2 L193.6 323.6 L198.2 324.2 L202.6 325 L206.8 325.9 L210.9 326.9 L214.9 328 L218.8 329.2 L222.7 330.4 L226.4 331.6 L230.2 333 L233.8 334.3 L237.4 335.7 L241 337.1 L244.5 338.6 L247.9 340.1 L251.3 341.7 L254.6 343.3 L257.9 345 L261.1 346.7 L264.1 348.5 L267.1 350.4 L269.9 352.4 L272.6 354.6 L275 356.9 L277.1 359.6 L278.6 362.6 L279.5 366.2 L279 370.9 L275.9 377.9 L256.9 398 L256.9 398 L253.3 394.6 L249.8 391.3 L246.2 388 L242.7 384.8 L239.2 381.6 L235.6 378.5 L232.1 375.6 L228.6 372.7 L225 369.9 L221.5 367.3 L217.9 364.8 L214.4 362.3 L210.9 360.1 L207.3 357.9 L203.8 356 L200.3 354.1 L196.7 352.4 L193.2 350.8 L189.6 349.4 L186.1 348.2 L182.6 347.1 L179 346.1 L175.5 345.3 L172 344.6 L168.4 344 L164.9 343.6 L161.3 343.3 L157.8 343.2 L154.3 343.1 L150.7 343.2 L147.2 343.4 L143.7 343.6 L140.1 344 L136.6 344.4 L133 344.9 L129.5 345.5Z" fill="#0086ff"/>
<path d="M131 345.3 L154.3 330.4 L164.2 326.6 L171.7 324.8 L178 323.9 L183.6 323.6 L188.7 323.7 L193.5 324.1 L198 324.7 L202.4 325.4 L206.6 326.3 L210.6 327.2 L214.6 328.3 L218.4 329.4 L222.2 330.6 L225.9 331.8 L229.5 333.1 L233.1 334.4 L236.7 335.8 L240.1 337.2 L243.6 338.6 L246.9 340.1 L250.2 341.7 L253.5 343.2 L256.6 344.9 L259.7 346.6 L262.7 348.4 L265.6 350.3 L268.3 352.3 L270.8 354.5 L273.1 356.9 L275.1 359.5 L276.5 362.5 L277.3 366.2 L276.8 370.8 L273.7 377.6 L255.6 396.9 L255.6 396.9 L252.2 393.6 L248.7 390.3 L245.3 387.1 L241.8 383.9 L238.3 380.9 L234.9 377.9 L231.4 375 L227.9 372.2 L224.5 369.5 L221 366.9 L217.6 364.5 L214.1 362.1 L210.6 359.9 L207.2 357.9 L203.7 355.9 L200.2 354.1 L196.8 352.4 L193.3 350.9 L189.9 349.5 L186.4 348.3 L182.9 347.2 L179.5 346.2 L176 345.4 L172.5 344.7 L169.1 344.1 L165.6 343.7 L162.2 343.4 L158.7 343.2 L155.2 343.1 L151.8 343.2 L148.3 343.3 L144.8 343.5 L141.4 343.9 L137.9 344.3 L134.4 344.7 L131 345.3Z" fill="#00a0ff"/>
<path d="M132.5 345 L154.8 330.8 L164.5 327.2 L171.8 325.3 L178.1 324.5 L183.6 324.1 L188.7 324.2 L193.4 324.5 L197.9 325.1 L202.2 325.8 L206.3 326.6 L210.3 327.5 L214.2 328.5 L218 329.6 L221.7 330.7 L225.3 331.9 L228.9 333.2 L232.4 334.5 L235.9 335.8 L239.3 337.2 L242.6 338.6 L245.9 340.1 L249.2 341.6 L252.3 343.2 L255.4 344.8 L258.4 346.5 L261.3 348.3 L264 350.2 L266.6 352.2 L269.1 354.4 L271.3 356.8 L273.1 359.4 L274.5 362.4 L275.1 366.1 L274.6 370.7 L271.6 377.3 L254.4 395.7 L254.4 395.7 L251.1 392.5 L247.7 389.3 L244.3 386.2 L240.9 383.1 L237.5 380.1 L234.1 377.3 L230.7 374.4 L227.3 371.7 L223.9 369.1 L220.6 366.6 L217.2 364.2 L213.8 361.9 L210.4 359.8 L207 357.8 L203.6 355.9 L200.2 354.1 L196.8 352.5 L193.5 351 L190.1 349.6 L186.7 348.4 L183.3 347.3 L179.9 346.3 L176.5 345.5 L173.1 344.8 L169.7 344.2 L166.3 343.8 L163 343.5 L159.6 343.3 L156.2 343.2 L152.8 343.2 L149.4 343.3 L146 343.5 L142.6 343.7 L139.2 344.1 L135.9 344.5 L132.5 345Z" fill="#00bbff"/>
<path d="M133.9 344.8 L155.4 331.3 L164.8 327.7 L172 325.9 L178.2 325 L183.7 324.7 L188.7 324.7 L193.3 325 L197.8 325.5 L202 326.1 L206 326.9 L210 327.8 L213.8 328.8 L217.5 329.8 L221.2 330.9 L224.8 332.1 L228.3 333.3 L231.7 334.6 L235.1 335.9 L238.4 337.2 L241.7 338.6 L244.9 340.1 L248.1 341.6 L251.1 343.2 L254.1 344.8 L257 346.5 L259.8 348.3 L262.5 350.1 L265 352.1 L267.3 354.3 L269.4 356.6 L271.2 359.3 L272.4 362.3 L273 365.9 L272.4 370.5 L269.5 377 L253.2 394.5 L253.2 394.5 L249.9 391.4 L246.6 388.3 L243.3 385.3 L240 382.3 L236.6 379.4 L233.3 376.6 L230 373.9 L226.7 371.2 L223.4 368.7 L220.1 366.3 L216.8 363.9 L213.5 361.7 L210.1 359.6 L206.8 357.7 L203.5 355.8 L200.2 354.1 L196.9 352.5 L193.6 351 L190.3 349.7 L187 348.5 L183.6 347.4 L180.3 346.4 L177 345.6 L173.7 344.9 L170.4 344.3 L167.1 343.9 L163.8 343.5 L160.4 343.3 L157.1 343.2 L153.8 343.1 L150.5 343.2 L147.2 343.4 L143.9 343.6 L140.6 344 L137.3 344.3 L133.9 344.8Z" fill="#00d6ff"/>
<path d="M135.4 344.6 L156 331.7 L165.2 328.2 L172.3 326.4 L178.3 325.5 L183.7 325.2 L188.7 325.2 L193.3 325.4 L197.6 325.9 L201.8 326.5 L205.8 327.3 L209.7 328.1 L213.4 329 L217.1 330 L220.7 331.1 L224.2 332.2 L227.6 333.4 L231 334.7 L234.3 335.9 L237.6 337.3 L240.8 338.7 L243.9 340.1 L246.9 341.6 L249.9 343.1 L252.8 344.7 L255.6 346.4 L258.3 348.2 L260.9 350 L263.3 352 L265.6 354.2 L267.6 356.5 L269.2 359.1 L270.4 362.1 L270.9 365.7 L270.3 370.2 L267.5 376.5 L252 393.4 L252 393.4 L248.7 390.3 L245.5 387.3 L242.3 384.4 L239 381.5 L235.8 378.7 L232.6 375.9 L229.3 373.3 L226.1 370.7 L222.8 368.3 L219.6 365.9 L216.4 363.7 L213.1 361.5 L209.9 359.5 L206.7 357.6 L203.4 355.8 L200.2 354.1 L196.9 352.5 L193.7 351.1 L190.5 349.8 L187.2 348.6 L184 347.5 L180.8 346.5 L177.5 345.7 L174.3 345 L171 344.4 L167.8 344 L164.6 343.6 L161.3 343.3 L158.1 343.2 L154.9 343.1 L151.6 343.2 L148.4 343.3 L145.1 343.5 L141.9 343.8 L138.7 344.2 L135.4 344.6Z" fill="#00f1ff"/>
<path d="M136.9 344.4 L156.7 332 L165.6 328.7 L172.6 327 L178.5 326.1 L183.8 325.7 L188.7 325.6 L193.2 325.9 L197.5 326.3 L201.6 326.9 L205.5 327.6 L209.4 328.4 L213.1 329.3 L216.7 330.3 L220.2 331.3 L223.6 332.4 L227 333.6 L230.3 334.8 L233.5 336 L236.7 337.3 L239.8 338.7 L242.8 340.1 L245.8 341.6 L248.7 343.1 L251.5 344.7 L254.2 346.3 L256.9 348.1 L259.4 349.9 L261.7 351.9 L263.8 354 L265.7 356.4 L267.3 359 L268.4 361.9 L268.9 365.5 L268.2 369.9 L265.5 376.1 L250.7 392.2 L250.7 392.2 L247.6 389.2 L244.4 386.3 L241.2 383.4 L238.1 380.7 L234.9 377.9 L231.8 375.3 L228.6 372.7 L225.4 370.3 L222.3 367.9 L219.1 365.6 L216 363.4 L212.8 361.3 L209.6 359.3 L206.5 357.5 L203.3 355.7 L200.1 354.1 L197 352.5 L193.8 351.1 L190.7 349.8 L187.5 348.7 L184.3 347.6 L181.2 346.7 L178 345.8 L174.9 345.1 L171.7 344.5 L168.5 344.1 L165.4 343.7 L162.2 343.4 L159 343.2 L155.9 343.1 L152.7 343.2 L149.6 343.3 L146.4 343.4 L143.2 343.7 L140.1 344 L136.9 344.4Z" fill="#0efff1"/>
<path d="M138.4 344.2 L157.5 332.4 L166.1 329.1 L172.9 327.5 L178.7 326.6 L183.9 326.2 L188.7 326.1 L193.2 326.3 L197.4 326.7 L201.4 327.2 L205.3 327.9 L209 328.7 L212.7 329.6 L216.2 330.5 L219.6 331.5 L223 332.6 L226.3 333.7 L229.5 334.9 L232.7 336.1 L235.8 337.4 L238.8 338.7 L241.8 340.1 L244.7 341.5 L247.5 343 L250.2 344.6 L252.8 346.2 L255.4 348 L257.8 349.8 L260 351.8 L262.1 353.9 L263.9 356.2 L265.4 358.8 L266.4 361.7 L266.8 365.2 L266.2 369.5 L263.5 375.5 L249.5 391 L249.5 391 L246.4 388.1 L243.3 385.3 L240.2 382.5 L237.1 379.8 L234 377.2 L231 374.6 L227.9 372.2 L224.8 369.8 L221.7 367.4 L218.6 365.2 L215.5 363.1 L212.4 361.1 L209.4 359.2 L206.3 357.3 L203.2 355.6 L200.1 354 L197 352.5 L193.9 351.2 L190.9 349.9 L187.8 348.7 L184.7 347.7 L181.6 346.8 L178.5 346 L175.4 345.3 L172.3 344.7 L169.3 344.2 L166.2 343.8 L163.1 343.5 L160 343.3 L156.9 343.2 L153.8 343.1 L150.8 343.2 L147.7 343.4 L144.6 343.6 L141.5 343.9 L138.4 344.2Z" fill="#29ffd6"/>
<path d="M139.9 344 L158.3 332.7 L166.7 329.6 L173.3 327.9 L179 327 L184.1 326.6 L188.8 326.6 L193.2 326.7 L197.3 327.1 L201.3 327.6 L205.1 328.3 L208.7 329 L212.3 329.8 L215.7 330.7 L219.1 331.7 L222.4 332.8 L225.6 333.8 L228.8 335 L231.9 336.2 L234.9 337.5 L237.8 338.8 L240.7 340.1 L243.5 341.5 L246.2 343 L248.9 344.6 L251.4 346.2 L253.9 347.9 L256.2 349.7 L258.3 351.6 L260.3 353.7 L262 356 L263.4 358.6 L264.4 361.5 L264.8 364.9 L264.1 369.1 L261.6 375 L248.2 389.8 L248.2 389.8 L245.2 387 L242.2 384.3 L239.2 381.6 L236.1 379 L233.1 376.4 L230.1 374 L227.1 371.6 L224.1 369.2 L221.1 367 L218.1 364.9 L215.1 362.8 L212.1 360.9 L209.1 359 L206.1 357.2 L203.1 355.6 L200.1 354 L197.1 352.6 L194.1 351.2 L191 350 L188 348.8 L185 347.8 L182 346.9 L179 346.1 L176 345.4 L173 344.8 L170 344.3 L167 343.9 L164 343.5 L161 343.3 L158 343.2 L155 343.1 L152 343.2 L148.9 343.3 L145.9 343.5 L142.9 343.7 L139.9 344Z" fill="#45ffba"/>
<path d="M141.5 343.9 L159.1 333 L167.2 330 L173.7 328.4 L179.3 327.5 L184.3 327.1 L188.9 327 L193.1 327.2 L197.2 327.5 L201.1 328 L204.8 328.6 L208.4 329.3 L211.9 330.1 L215.3 331 L218.6 331.9 L221.8 332.9 L224.9 334 L228 335.1 L231 336.3 L233.9 337.5 L236.8 338.8 L239.6 340.1 L242.3 341.5 L245 343 L247.5 344.5 L250 346.1 L252.3 347.8 L254.6 349.6 L256.6 351.5 L258.5 353.6 L260.2 355.8 L261.5 358.3 L262.4 361.2 L262.8 364.6 L262.1 368.7 L259.6 374.4 L246.9 388.6 L246.9 388.6 L243.9 385.9 L241 383.2 L238.1 380.7 L235.2 378.1 L232.2 375.7 L229.3 373.3 L226.4 371 L223.4 368.7 L220.5 366.6 L217.6 364.5 L214.7 362.5 L211.7 360.6 L208.8 358.8 L205.9 357.1 L202.9 355.5 L200 354 L197.1 352.6 L194.2 351.3 L191.2 350.1 L188.3 348.9 L185.4 347.9 L182.4 347 L179.5 346.2 L176.6 345.5 L173.7 344.9 L170.7 344.4 L167.8 344 L164.9 343.6 L162 343.4 L159 343.2 L156.1 343.2 L153.2 343.2 L150.2 343.2 L147.3 343.4 L144.4 343.6 L141.5 343.9Z" fill="#62ff9d"/>
<path d="M143 343.7 L159.9 333.3 L167.8 330.4 L174.1 328.9 L179.6 328 L184.4 327.6 L188.9 327.5 L193.1 327.6 L197.1 327.9 L200.9 328.4 L204.6 329 L208.1 329.6 L211.5 330.4 L214.8 331.3 L218 332.2 L221.1 333.1 L224.2 334.2 L227.2 335.3 L230.1 336.4 L233 337.6 L235.8 338.9 L238.5 340.2 L241.1 341.5 L243.7 343 L246.2 344.5 L248.5 346 L250.8 347.7 L252.9 349.5 L254.9 351.4 L256.7 353.4 L258.3 355.6 L259.6 358.1 L260.4 360.9 L260.7 364.2 L260.1 368.2 L257.7 373.7 L245.5 387.3 L245.5 387.3 L242.7 384.7 L239.8 382.2 L237 379.7 L234.1 377.3 L231.3 374.9 L228.5 372.6 L225.6 370.4 L222.8 368.2 L219.9 366.1 L217.1 364.1 L214.2 362.2 L211.4 360.4 L208.5 358.6 L205.7 357 L202.8 355.4 L200 354 L197.1 352.6 L194.3 351.3 L191.4 350.1 L188.6 349 L185.7 348 L182.9 347.2 L180 346.4 L177.2 345.6 L174.3 345 L171.5 344.5 L168.6 344.1 L165.8 343.7 L162.9 343.5 L160.1 343.3 L157.2 343.2 L154.4 343.1 L151.5 343.2 L148.7 343.3 L145.8 343.5 L143 343.7Z" fill="#7eff81"/>
<path d="M144.6 343.6 L160.8 333.7 L168.5 330.9 L174.6 329.3 L179.9 328.5 L184.7 328.1 L189 328 L193.2 328.1 L197 328.4 L200.8 328.8 L204.3 329.3 L207.7 330 L211.1 330.7 L214.3 331.5 L217.4 332.4 L220.5 333.4 L223.5 334.4 L226.4 335.4 L229.2 336.5 L232 337.7 L234.7 338.9 L237.3 340.2 L239.9 341.6 L242.4 343 L244.8 344.4 L247.1 346 L249.2 347.6 L251.3 349.3 L253.2 351.2 L254.9 353.2 L256.4 355.4 L257.6 357.8 L258.5 360.6 L258.7 363.8 L258.1 367.8 L255.8 373.1 L244.2 386.1 L244.2 386.1 L241.4 383.6 L238.7 381.2 L235.9 378.8 L233.1 376.4 L230.4 374.1 L227.6 371.9 L224.8 369.8 L222.1 367.7 L219.3 365.7 L216.5 363.8 L213.7 361.9 L211 360.2 L208.2 358.5 L205.4 356.9 L202.7 355.4 L199.9 353.9 L197.1 352.6 L194.4 351.4 L191.6 350.2 L188.8 349.1 L186.1 348.2 L183.3 347.3 L180.5 346.5 L177.8 345.8 L175 345.2 L172.2 344.6 L169.5 344.2 L166.7 343.8 L163.9 343.5 L161.2 343.3 L158.4 343.2 L155.6 343.1 L152.9 343.2 L150.1 343.2 L147.3 343.4 L144.6 343.6Z" fill="#9bff64"/>
<path d="M146.1 343.5 L161.7 334 L169.2 331.3 L175.1 329.8 L180.2 329 L184.9 328.6 L189.2 328.4 L193.2 328.5 L197 328.8 L200.6 329.2 L204.1 329.7 L207.4 330.3 L210.7 331 L213.8 331.8 L216.9 332.7 L219.8 333.6 L222.7 334.6 L225.6 335.6 L228.3 336.7 L231 337.8 L233.6 339 L236.2 340.3 L238.6 341.6 L241 342.9 L243.3 344.4 L245.6 345.9 L247.7 347.5 L249.6 349.2 L251.5 351 L253.1 353 L254.5 355.2 L255.7 357.6 L256.4 360.3 L256.7 363.4 L256.1 367.2 L253.9 372.4 L242.8 384.9 L242.8 384.9 L240.1 382.5 L237.4 380.1 L234.8 377.8 L232.1 375.6 L229.4 373.4 L226.7 371.2 L224 369.2 L221.3 367.2 L218.6 365.2 L216 363.4 L213.3 361.6 L210.6 359.9 L207.9 358.3 L205.2 356.7 L202.5 355.3 L199.8 353.9 L197.2 352.6 L194.5 351.4 L191.8 350.3 L189.1 349.2 L186.4 348.3 L183.7 347.4 L181 346.6 L178.4 345.9 L175.7 345.3 L173 344.8 L170.3 344.3 L167.6 343.9 L164.9 343.6 L162.2 343.4 L159.6 343.3 L156.9 343.2 L154.2 343.1 L151.5 343.2 L148.8 343.3 L146.1 343.5Z" fill="#b7ff48"/>
<path d="M147.7 343.3 L162.7 334.3 L169.9 331.7 L175.6 330.3 L180.6 329.5 L185.1 329.1 L189.3 328.9 L193.2 329 L196.9 329.2 L200.4 329.6 L203.8 330.1 L207.1 330.7 L210.2 331.4 L213.3 332.1 L216.3 333 L219.1 333.8 L222 334.8 L224.7 335.8 L227.4 336.8 L230 338 L232.5 339.1 L235 340.3 L237.4 341.6 L239.7 343 L241.9 344.4 L244 345.9 L246 347.4 L247.9 349.1 L249.7 350.9 L251.3 352.8 L252.6 354.9 L253.7 357.3 L254.4 359.9 L254.6 363 L254 366.7 L251.9 371.7 L241.4 383.6 L241.4 383.6 L238.8 381.3 L236.2 379 L233.6 376.8 L231 374.7 L228.4 372.6 L225.8 370.5 L223.2 368.6 L220.6 366.6 L218 364.8 L215.4 363 L212.8 361.3 L210.2 359.7 L207.6 358.1 L205 356.6 L202.4 355.2 L199.8 353.9 L197.2 352.6 L194.6 351.4 L192 350.3 L189.4 349.3 L186.8 348.4 L184.2 347.5 L181.6 346.8 L179 346.1 L176.4 345.5 L173.8 344.9 L171.2 344.5 L168.6 344.1 L165.9 343.7 L163.3 343.5 L160.7 343.3 L158.1 343.2 L155.5 343.1 L152.9 343.2 L150.3 343.2 L147.7 343.3Z" fill="#d4ff2b"/>
<path d="M149.4 343.3 L163.7 334.6 L170.6 332.1 L176.2 330.8 L181 330 L185.4 329.6 L189.5 329.4 L193.3 329.5 L196.8 329.7 L200.3 330.1 L203.6 330.5 L206.7 331.1 L209.8 331.8 L212.8 332.5 L215.6 333.3 L218.4 334.1 L221.2 335 L223.8 336 L226.4 337 L228.9 338.1 L231.4 339.2 L233.8 340.4 L236.1 341.7 L238.3 343 L240.4 344.4 L242.5 345.8 L244.4 347.3 L246.2 349 L247.9 350.7 L249.4 352.6 L250.7 354.7 L251.7 357 L252.4 359.5 L252.6 362.5 L252 366.1 L250 370.9 L240 382.3 L240 382.3 L237.5 380.1 L234.9 378 L232.4 375.8 L229.9 373.8 L227.4 371.8 L224.9 369.8 L222.4 367.9 L219.8 366.1 L217.3 364.3 L214.8 362.6 L212.3 361 L209.8 359.4 L207.3 357.9 L204.7 356.5 L202.2 355.1 L199.7 353.8 L197.2 352.6 L194.7 351.5 L192.2 350.4 L189.6 349.4 L187.1 348.5 L184.6 347.7 L182.1 346.9 L179.6 346.2 L177.1 345.6 L174.5 345.1 L172 344.6 L169.5 344.2 L167 343.9 L164.5 343.6 L161.9 343.4 L159.4 343.2 L156.9 343.2 L154.4 343.1 L151.9 343.2 L149.4 343.3Z" fill="#f2ff0d"/>
<path d="M151 343.2 L164.8 335 L171.4 332.6 L176.8 331.3 L181.4 330.5 L185.7 330.1 L189.6 329.9 L193.3 330 L196.8 330.2 L200.1 330.5 L203.3 331 L206.4 331.5 L209.3 332.1 L212.2 332.8 L215 333.6 L217.7 334.4 L220.4 335.3 L222.9 336.2 L225.4 337.2 L227.9 338.3 L230.2 339.4 L232.5 340.5 L234.7 341.7 L236.9 343 L238.9 344.3 L240.9 345.8 L242.7 347.3 L244.5 348.9 L246.1 350.6 L247.5 352.4 L248.7 354.4 L249.7 356.7 L250.3 359.2 L250.5 362.1 L249.9 365.5 L248 370.1 L238.5 381 L238.5 381 L236.1 378.9 L233.6 376.9 L231.2 374.8 L228.8 372.9 L226.4 371 L223.9 369.1 L221.5 367.3 L219.1 365.5 L216.6 363.8 L214.2 362.2 L211.8 360.7 L209.3 359.1 L206.9 357.7 L204.5 356.3 L202.1 355 L199.6 353.8 L197.2 352.6 L194.8 351.5 L192.3 350.5 L189.9 349.5 L187.5 348.6 L185 347.8 L182.6 347.1 L180.2 346.4 L177.8 345.8 L175.3 345.2 L172.9 344.8 L170.5 344.3 L168 344 L165.6 343.7 L163.2 343.5 L160.7 343.3 L158.3 343.2 L155.9 343.1 L153.5 343.2 L151 343.2Z" fill="#ffef00"/>
<path d="M152.7 343.2 L165.8 335.3 L172.2 333.1 L177.4 331.8 L181.9 331 L186 330.6 L189.8 330.5 L193.4 330.5 L196.7 330.7 L200 331 L203 331.4 L206 332 L208.9 332.5 L211.7 333.2 L214.4 333.9 L217 334.7 L219.5 335.6 L222 336.5 L224.4 337.4 L226.8 338.4 L229 339.5 L231.2 340.6 L233.3 341.8 L235.4 343 L237.4 344.4 L239.2 345.7 L241 347.2 L242.7 348.8 L244.2 350.4 L245.5 352.2 L246.7 354.2 L247.6 356.3 L248.2 358.8 L248.3 361.6 L247.8 364.9 L246 369.4 L237 379.7 L237 379.7 L234.6 377.7 L232.3 375.7 L230 373.8 L227.6 372 L225.3 370.1 L222.9 368.4 L220.6 366.6 L218.3 365 L215.9 363.4 L213.6 361.8 L211.2 360.3 L208.9 358.9 L206.6 357.5 L204.2 356.2 L201.9 354.9 L199.5 353.7 L197.2 352.6 L194.9 351.6 L192.5 350.6 L190.2 349.6 L187.8 348.8 L185.5 348 L183.2 347.2 L180.8 346.6 L178.5 346 L176.1 345.4 L173.8 344.9 L171.4 344.5 L169.1 344.1 L166.8 343.8 L164.4 343.6 L162.1 343.4 L159.7 343.3 L157.4 343.2 L155.1 343.1 L152.7 343.2Z" fill="#ffd100"/>
<path d="M154.5 343.1 L167 335.7 L173.1 333.5 L178 332.3 L182.4 331.6 L186.3 331.2 L190 331 L193.4 331.1 L196.7 331.2 L199.8 331.5 L202.8 331.9 L205.6 332.4 L208.4 333 L211.1 333.6 L213.7 334.3 L216.2 335.1 L218.7 335.9 L221 336.8 L223.4 337.7 L225.6 338.7 L227.8 339.7 L229.9 340.8 L231.9 341.9 L233.9 343.1 L235.8 344.4 L237.6 345.7 L239.2 347.1 L240.8 348.7 L242.3 350.3 L243.5 352 L244.6 353.9 L245.5 356 L246.1 358.4 L246.2 361.1 L245.7 364.3 L243.9 368.5 L235.4 378.4 L235.4 378.4 L233.2 376.5 L230.9 374.6 L228.7 372.8 L226.4 371 L224.2 369.3 L221.9 367.6 L219.7 366 L217.4 364.4 L215.2 362.9 L212.9 361.4 L210.7 360 L208.4 358.6 L206.2 357.3 L203.9 356 L201.7 354.8 L199.4 353.7 L197.2 352.6 L194.9 351.6 L192.7 350.6 L190.4 349.7 L188.2 348.9 L185.9 348.1 L183.7 347.4 L181.5 346.7 L179.2 346.1 L177 345.6 L174.7 345.1 L172.5 344.7 L170.2 344.3 L168 344 L165.7 343.7 L163.5 343.5 L161.2 343.3 L159 343.2 L156.7 343.2 L154.5 343.1Z" fill="#ffb400"/>
<path d="M156.2 343.2 L168.1 336.1 L174 334 L178.7 332.9 L182.9 332.2 L186.7 331.8 L190.2 331.6 L193.5 331.7 L196.7 331.8 L199.6 332.1 L202.5 332.5 L205.3 332.9 L207.9 333.5 L210.5 334.1 L213 334.7 L215.4 335.5 L217.8 336.2 L220.1 337.1 L222.3 338 L224.4 338.9 L226.5 339.9 L228.5 340.9 L230.5 342 L232.3 343.2 L234.1 344.4 L235.8 345.7 L237.4 347.1 L238.9 348.6 L240.3 350.1 L241.5 351.8 L242.5 353.7 L243.4 355.7 L243.9 357.9 L244 360.5 L243.5 363.6 L241.9 367.7 L233.8 377 L233.8 377 L231.7 375.2 L229.5 373.5 L227.4 371.7 L225.2 370.1 L223 368.4 L220.9 366.9 L218.7 365.3 L216.6 363.8 L214.4 362.4 L212.3 361 L210.1 359.6 L208 358.3 L205.8 357.1 L203.7 355.9 L201.5 354.7 L199.3 353.7 L197.2 352.6 L195 351.6 L192.9 350.7 L190.7 349.9 L188.6 349 L186.4 348.3 L184.3 347.6 L182.1 346.9 L180 346.3 L177.8 345.8 L175.6 345.3 L173.5 344.9 L171.3 344.5 L169.2 344.1 L167 343.9 L164.9 343.6 L162.7 343.4 L160.6 343.3 L158.4 343.2 L156.2 343.2Z" fill="#ff9600"/>
<path d="M158.1 343.2 L169.3 336.5 L174.9 334.6 L179.4 333.5 L183.4 332.8 L187.1 332.4 L190.4 332.3 L193.6 332.3 L196.6 332.4 L199.5 332.7 L202.2 333 L204.9 333.5 L207.4 334 L209.9 334.5 L212.3 335.2 L214.6 335.9 L216.8 336.6 L219 337.4 L221.1 338.3 L223.2 339.2 L225.2 340.1 L227.1 341.1 L228.9 342.2 L230.7 343.3 L232.4 344.5 L234 345.7 L235.6 347.1 L237 348.5 L238.3 350 L239.4 351.6 L240.4 353.4 L241.1 355.3 L241.6 357.5 L241.7 360 L241.3 362.9 L239.7 366.8 L232.2 375.6 L232.2 375.6 L230.1 373.9 L228 372.3 L226 370.7 L223.9 369.1 L221.9 367.6 L219.8 366.1 L217.8 364.6 L215.7 363.2 L213.6 361.8 L211.6 360.5 L209.5 359.3 L207.5 358 L205.4 356.8 L203.4 355.7 L201.3 354.6 L199.2 353.6 L197.2 352.6 L195.1 351.7 L193.1 350.8 L191 350 L188.9 349.2 L186.9 348.4 L184.8 347.8 L182.8 347.1 L180.7 346.5 L178.7 346 L176.6 345.5 L174.5 345.1 L172.5 344.7 L170.4 344.3 L168.4 344 L166.3 343.8 L164.3 343.6 L162.2 343.4 L160.1 343.3 L158.1 343.2Z" fill="#ff7800"/>
<path d="M160 343.3 L170.6 337 L175.9 335.2 L180.2 334.1 L184 333.5 L187.5 333.1 L190.7 333 L193.7 333 L196.6 333.1 L199.3 333.3 L201.9 333.6 L204.5 334.1 L206.9 334.5 L209.2 335.1 L211.5 335.7 L213.7 336.3 L215.9 337 L217.9 337.8 L220 338.6 L221.9 339.5 L223.8 340.4 L225.6 341.3 L227.4 342.4 L229 343.4 L230.7 344.6 L232.2 345.8 L233.6 347 L234.9 348.4 L236.2 349.9 L237.2 351.4 L238.1 353.1 L238.9 355 L239.3 357 L239.4 359.4 L239 362.2 L237.5 365.9 L230.4 374.2 L230.4 374.2 L228.5 372.6 L226.5 371.1 L224.6 369.6 L222.6 368.1 L220.6 366.7 L218.7 365.3 L216.7 363.9 L214.8 362.6 L212.8 361.3 L210.9 360.1 L208.9 358.9 L206.9 357.7 L205 356.6 L203 355.5 L201.1 354.5 L199.1 353.5 L197.2 352.6 L195.2 351.7 L193.2 350.9 L191.3 350.1 L189.3 349.3 L187.4 348.6 L185.4 347.9 L183.5 347.3 L181.5 346.8 L179.6 346.2 L177.6 345.7 L175.6 345.3 L173.7 344.9 L171.7 344.5 L169.8 344.2 L167.8 344 L165.9 343.7 L163.9 343.5 L161.9 343.4 L160 343.3Z" fill="#ff5a00"/>
<path d="M162 343.4 L172 337.5 L176.9 335.8 L181 334.8 L184.6 334.2 L187.9 333.8 L191 333.7 L193.8 333.7 L196.5 333.8 L199.1 334 L201.6 334.3 L204 334.7 L206.3 335.1 L208.6 335.7 L210.7 336.2 L212.8 336.8 L214.8 337.5 L216.8 338.2 L218.7 339 L220.6 339.8 L222.3 340.7 L224.1 341.6 L225.7 342.6 L227.3 343.6 L228.8 344.7 L230.2 345.8 L231.6 347 L232.8 348.3 L234 349.7 L235 351.2 L235.8 352.8 L236.5 354.6 L236.9 356.6 L237 358.8 L236.6 361.5 L235.2 364.9 L228.6 372.7 L228.6 372.7 L226.8 371.3 L224.9 369.8 L223.1 368.4 L221.2 367.1 L219.4 365.7 L217.5 364.4 L215.6 363.2 L213.8 362 L211.9 360.8 L210.1 359.6 L208.2 358.5 L206.4 357.4 L204.5 356.4 L202.7 355.4 L200.8 354.4 L199 353.5 L197.1 352.6 L195.3 351.8 L193.4 351 L191.6 350.2 L189.7 349.5 L187.9 348.8 L186 348.2 L184.2 347.6 L182.3 347 L180.5 346.5 L178.6 346 L176.8 345.6 L174.9 345.2 L173.1 344.8 L171.2 344.5 L169.4 344.2 L167.5 343.9 L165.7 343.7 L163.8 343.5 L162 343.4Z" fill="#ff3b00"/>
<path d="M164 343.6 L173.4 338.1 L178 336.5 L181.9 335.5 L185.3 334.9 L188.4 334.6 L191.2 334.5 L193.9 334.5 L196.5 334.6 L199 334.8 L201.3 335.1 L203.6 335.4 L205.7 335.8 L207.9 336.3 L209.9 336.8 L211.9 337.4 L213.8 338 L215.6 338.7 L217.4 339.4 L219.1 340.2 L220.8 341 L222.4 341.9 L224 342.8 L225.5 343.8 L226.9 344.8 L228.2 345.9 L229.5 347.1 L230.6 348.3 L231.7 349.6 L232.6 351 L233.4 352.6 L234 354.2 L234.4 356.1 L234.5 358.2 L234.1 360.7 L232.8 364 L226.7 371.2 L226.7 371.2 L225 369.9 L223.2 368.6 L221.5 367.3 L219.7 366 L218 364.8 L216.3 363.6 L214.5 362.4 L212.8 361.3 L211 360.2 L209.3 359.1 L207.6 358.1 L205.8 357.1 L204.1 356.1 L202.3 355.2 L200.6 354.3 L198.9 353.4 L197.1 352.6 L195.4 351.8 L193.6 351 L191.9 350.3 L190.1 349.6 L188.4 349 L186.7 348.4 L184.9 347.8 L183.2 347.2 L181.4 346.7 L179.7 346.3 L178 345.8 L176.2 345.4 L174.5 345.1 L172.7 344.7 L171 344.4 L169.3 344.2 L167.5 343.9 L165.8 343.7 L164 343.6Z" fill="#ff1d00"/>
<path d="M166.2 343.8 L174.9 338.7 L179.2 337.2 L182.8 336.3 L186 335.8 L188.9 335.5 L191.5 335.3 L194.1 335.3 L196.5 335.4 L198.8 335.6 L201 335.9 L203.1 336.2 L205.1 336.6 L207.1 337 L209 337.5 L210.8 338.1 L212.6 338.6 L214.3 339.3 L216 340 L217.6 340.7 L219.2 341.5 L220.7 342.3 L222.1 343.1 L223.5 344 L224.8 345 L226.1 346 L227.2 347.1 L228.3 348.3 L229.3 349.5 L230.1 350.9 L230.9 352.3 L231.4 353.9 L231.8 355.6 L231.9 357.6 L231.5 360 L230.3 363 L224.7 369.7 L224.7 369.7 L223.1 368.4 L221.4 367.2 L219.8 366.1 L218.2 364.9 L216.6 363.8 L214.9 362.7 L213.3 361.6 L211.7 360.6 L210.1 359.6 L208.4 358.6 L206.8 357.7 L205.2 356.7 L203.6 355.8 L201.9 355 L200.3 354.1 L198.7 353.3 L197.1 352.6 L195.5 351.8 L193.8 351.1 L192.2 350.4 L190.6 349.8 L189 349.2 L187.3 348.6 L185.7 348 L184.1 347.5 L182.5 347 L180.8 346.6 L179.2 346.1 L177.6 345.7 L176 345.4 L174.3 345 L172.7 344.7 L171.1 344.4 L169.5 344.2 L167.8 344 L166.2 343.8Z" fill="#fd0000"/>
<path d="M168.5 344.1 L176.5 339.4 L180.5 338 L183.8 337.2 L186.7 336.7 L189.4 336.5 L191.9 336.3 L194.2 336.3 L196.5 336.4 L198.6 336.5 L200.6 336.8 L202.6 337.1 L204.5 337.4 L206.3 337.8 L208 338.3 L209.7 338.8 L211.4 339.3 L213 339.9 L214.5 340.6 L216 341.2 L217.5 341.9 L218.8 342.7 L220.2 343.5 L221.4 344.4 L222.6 345.3 L223.8 346.2 L224.8 347.2 L225.8 348.3 L226.7 349.5 L227.5 350.7 L228.2 352 L228.7 353.5 L229 355.1 L229.1 357 L228.7 359.1 L227.7 361.9 L222.5 368 L222.5 368 L221 366.9 L219.5 365.9 L218 364.8 L216.5 363.8 L215 362.8 L213.5 361.8 L212 360.8 L210.5 359.9 L209 359 L207.5 358.1 L206 357.2 L204.5 356.4 L203 355.5 L201.5 354.8 L200 354 L198.5 353.3 L197 352.5 L195.5 351.9 L194 351.2 L192.5 350.6 L191 350 L189.5 349.4 L188 348.8 L186.5 348.3 L185 347.8 L183.5 347.4 L182 346.9 L180.5 346.5 L179 346.1 L177.5 345.7 L176 345.4 L174.5 345.1 L173 344.8 L171.5 344.5 L170 344.3 L168.5 344.1Z" fill="#de0000"/>
<path d="M171 344.4 L178.2 340.2 L181.9 339 L184.9 338.3 L187.5 337.8 L190 337.5 L192.2 337.4 L194.4 337.4 L196.4 337.5 L198.4 337.6 L200.2 337.8 L202 338.1 L203.7 338.4 L205.4 338.8 L207 339.2 L208.6 339.6 L210.1 340.1 L211.5 340.7 L212.9 341.3 L214.3 341.9 L215.6 342.5 L216.8 343.2 L218 344 L219.2 344.7 L220.3 345.6 L221.3 346.4 L222.3 347.4 L223.1 348.4 L224 349.4 L224.7 350.6 L225.3 351.8 L225.7 353.1 L226 354.6 L226.1 356.3 L225.8 358.3 L224.8 360.8 L220.2 366.3 L220.2 366.3 L218.8 365.4 L217.4 364.4 L216.1 363.5 L214.7 362.6 L213.4 361.7 L212 360.8 L210.6 359.9 L209.3 359.1 L207.9 358.3 L206.5 357.5 L205.2 356.7 L203.8 356 L202.4 355.2 L201.1 354.5 L199.7 353.8 L198.3 353.2 L197 352.5 L195.6 351.9 L194.2 351.3 L192.9 350.7 L191.5 350.2 L190.1 349.6 L188.8 349.1 L187.4 348.6 L186 348.2 L184.7 347.7 L183.3 347.3 L182 346.9 L180.6 346.5 L179.2 346.1 L177.9 345.8 L176.5 345.5 L175.1 345.2 L173.8 344.9 L172.4 344.7 L171 344.4Z" fill="#bf0000"/>
<path d="M173.8 344.9 L180.1 341.2 L183.4 340.1 L186.1 339.4 L188.4 339 L190.6 338.8 L192.7 338.7 L194.6 338.7 L196.4 338.7 L198.1 338.8 L199.8 339 L201.4 339.3 L202.9 339.5 L204.4 339.9 L205.9 340.2 L207.2 340.6 L208.6 341.1 L209.9 341.6 L211.1 342.1 L212.3 342.6 L213.5 343.2 L214.6 343.9 L215.7 344.5 L216.7 345.2 L217.7 346 L218.6 346.8 L219.4 347.6 L220.2 348.5 L220.9 349.4 L221.6 350.5 L222.1 351.6 L222.5 352.8 L222.7 354.1 L222.8 355.6 L222.5 357.4 L221.7 359.6 L217.6 364.5 L217.6 364.5 L216.4 363.7 L215.2 362.9 L214 362.1 L212.7 361.3 L211.5 360.5 L210.3 359.7 L209.1 359 L207.9 358.3 L206.6 357.6 L205.4 356.9 L204.2 356.2 L203 355.5 L201.8 354.9 L200.6 354.3 L199.3 353.6 L198.1 353.1 L196.9 352.5 L195.7 351.9 L194.5 351.4 L193.2 350.9 L192 350.4 L190.8 349.9 L189.6 349.4 L188.4 349 L187.2 348.5 L185.9 348.1 L184.7 347.7 L183.5 347.3 L182.3 347 L181.1 346.6 L179.8 346.3 L178.6 346 L177.4 345.7 L176.2 345.4 L175 345.2 L173.8 344.9Z" fill="#a00000"/>
<path d="M176.8 345.6 L182.3 342.4 L185.1 341.4 L187.4 340.9 L189.5 340.5 L191.4 340.3 L193.1 340.2 L194.8 340.2 L196.4 340.2 L197.9 340.3 L199.3 340.5 L200.7 340.7 L202 340.9 L203.3 341.2 L204.5 341.5 L205.7 341.9 L206.9 342.3 L208 342.7 L209.1 343.1 L210.1 343.6 L211.1 344.1 L212.1 344.7 L213 345.2 L213.9 345.8 L214.7 346.5 L215.5 347.2 L216.2 347.9 L216.9 348.7 L217.5 349.5 L218.1 350.4 L218.5 351.4 L218.9 352.4 L219.1 353.6 L219.1 354.9 L218.9 356.4 L218.2 358.3 L214.7 362.5 L214.7 362.5 L213.6 361.9 L212.6 361.2 L211.5 360.5 L210.5 359.8 L209.4 359.2 L208.4 358.6 L207.3 357.9 L206.3 357.3 L205.2 356.7 L204.2 356.2 L203.1 355.6 L202.1 355 L201 354.5 L200 354 L198.9 353.4 L197.9 352.9 L196.8 352.4 L195.8 352 L194.7 351.5 L193.7 351 L192.6 350.6 L191.5 350.2 L190.5 349.8 L189.4 349.4 L188.4 349 L187.3 348.6 L186.3 348.2 L185.2 347.9 L184.2 347.6 L183.1 347.2 L182.1 346.9 L181 346.6 L180 346.3 L178.9 346.1 L177.9 345.8 L176.8 345.6Z" fill="#810000"/>
<path d="M180.4 346.5 L184.9 343.9 L187.1 343.1 L189 342.6 L190.7 342.3 L192.2 342.2 L193.7 342.1 L195 342.1 L196.3 342.1 L197.5 342.2 L198.7 342.3 L199.8 342.5 L200.9 342.7 L202 342.9 L203 343.2 L204 343.4 L204.9 343.8 L205.8 344.1 L206.7 344.5 L207.6 344.9 L208.4 345.3 L209.1 345.7 L209.9 346.2 L210.6 346.7 L211.3 347.2 L211.9 347.8 L212.5 348.4 L213 349 L213.5 349.7 L214 350.5 L214.3 351.2 L214.6 352.1 L214.8 353.1 L214.8 354.1 L214.6 355.4 L214.1 356.9 L211.3 360.3 L211.3 360.3 L210.4 359.8 L209.5 359.3 L208.7 358.7 L207.8 358.2 L207 357.7 L206.1 357.2 L205.3 356.8 L204.4 356.3 L203.5 355.8 L202.7 355.4 L201.8 354.9 L201 354.5 L200.1 354 L199.3 353.6 L198.4 353.2 L197.5 352.8 L196.7 352.4 L195.8 352 L195 351.6 L194.1 351.2 L193.3 350.9 L192.4 350.5 L191.5 350.2 L190.7 349.8 L189.8 349.5 L189 349.2 L188.1 348.9 L187.3 348.6 L186.4 348.3 L185.5 348 L184.7 347.7 L183.8 347.4 L183 347.2 L182.1 346.9 L181.3 346.7 L180.4 346.5Z" fill="#800000"/>
<path d="M185 347.8 L188.2 346 L189.7 345.5 L191.1 345.1 L192.3 344.9 L193.3 344.8 L194.4 344.7 L195.3 344.7 L196.2 344.7 L197.1 344.8 L197.9 344.9 L198.7 345 L199.5 345.1 L200.2 345.3 L201 345.5 L201.6 345.7 L202.3 345.9 L203 346.1 L203.6 346.4 L204.2 346.7 L204.7 347 L205.3 347.3 L205.8 347.6 L206.3 348 L206.8 348.4 L207.2 348.8 L207.6 349.2 L208 349.7 L208.4 350.2 L208.7 350.7 L208.9 351.2 L209.1 351.8 L209.2 352.5 L209.3 353.3 L209.1 354.1 L208.7 355.2 L206.8 357.6 L206.8 357.6 L206.2 357.3 L205.6 356.9 L205 356.6 L204.4 356.3 L203.8 355.9 L203.2 355.6 L202.6 355.3 L201.9 355 L201.3 354.7 L200.7 354.3 L200.1 354 L199.5 353.7 L198.9 353.4 L198.3 353.2 L197.7 352.9 L197.1 352.6 L196.5 352.3 L195.9 352 L195.3 351.8 L194.7 351.5 L194.1 351.2 L193.5 351 L192.9 350.7 L192.3 350.5 L191.7 350.2 L191.1 350 L190.5 349.7 L189.9 349.5 L189.3 349.3 L188.6 349.1 L188 348.8 L187.4 348.6 L186.8 348.4 L186.2 348.2 L185.6 348 L185 347.8Z" fill="#800000"/>
<path d="M165.9 304.2 L323.4 365.9 L269.6 410.5 L265.2 406.2 L260.8 401.9 L256.5 397.7 L252.1 393.5 L247.7 389.4 L243.3 385.3 L239 381.4 L234.6 377.7 L230.2 374 L225.8 370.6 L221.5 367.3 L217.1 364.2 L212.7 361.3 L208.4 358.5 L204 356.1 L199.6 353.8 L195.2 351.7 L190.9 349.9 L186.5 348.3 L182.1 346.9 L177.7 345.8 L173.4 344.8 L169 344.1 L164.6 343.6 L160.2 343.3 L155.9 343.1 L151.5 343.2 L147.1 343.4 L142.7 343.7 L138.4 344.2 L134 344.8 L129.6 345.5 L125.2 346.2 L120.9 347.1 L116.5 347.9 L112.1 348.8Z" fill="url(#spkC)" mask="url(#mC)"/>
<ellipse cx="193.5" cy="354" rx="70.5" ry="18.5" fill="none" stroke="#333" stroke-width="1.2"/>
<path d="M58.3 393.4L215.8 455.1M215.8 455.1L323.4 365.9M58.3 393.4L58.3 358.4M58.3 393.4L55.4 395.5M323.4 365.9L326.3 367.2M74.1 399.6L71.2 401.7M312.6 374.8L315.5 376.1M89.8 405.7L86.9 407.8M301.9 383.7L304.8 385M105.6 411.9L102.7 414M291.1 392.7L294 394M121.3 418.1L118.4 420.2M280.4 401.6L283.3 402.9M137.1 424.2L134.2 426.4M269.6 410.5L272.5 411.8M152.8 430.4L149.9 432.5M258.8 419.4L261.7 420.7M168.6 436.6L165.7 438.7M248.1 428.3L251 429.6M184.3 442.8L181.4 444.9M237.3 437.3L240.2 438.6M200 448.9L197.1 451M226.6 446.2L229.5 447.5M215.8 455.1L212.9 457.2M215.8 455.1L218.7 456.4M58.3 393.4L55.1 392.4M58.3 375.9L55.1 374.9M58.3 358.4L55.1 357.4" stroke="#222" stroke-width="0.8" fill="none"/>
<text x="53.3" y="404.4" font-size="6.6" text-anchor="end" font-family="Liberation Sans, sans-serif" fill="#222" >0</text>
<text x="328.4" y="375.1" font-size="6.6" text-anchor="start" font-family="Liberation Sans, sans-serif" fill="#222" >0</text>
<text x="69.1" y="410.6" font-size="6.6" text-anchor="end" font-family="Liberation Sans, sans-serif" fill="#222" >0.2</text>
<text x="317.6" y="384.1" font-size="6.6" text-anchor="start" font-family="Liberation Sans, sans-serif" fill="#222" >0.2</text>
<text x="84.8" y="416.8" font-size="6.6" text-anchor="end" font-family="Liberation Sans, sans-serif" fill="#222" >0.4</text>
<text x="306.9" y="393" font-size="6.6" text-anchor="start" font-family="Liberation Sans, sans-serif" fill="#222" >0.4</text>
<text x="100.6" y="423" font-size="6.6" text-anchor="end" font-family="Liberation Sans, sans-serif" fill="#222" >0.6</text>
<text x="296.1" y="401.9" font-size="6.6" text-anchor="start" font-family="Liberation Sans, sans-serif" fill="#222" >0.6</text>
<text x="116.3" y="429.1" font-size="6.6" text-anchor="end" font-family="Liberation Sans, sans-serif" fill="#222" >0.8</text>
<text x="285.4" y="410.8" font-size="6.6" text-anchor="start" font-family="Liberation Sans, sans-serif" fill="#222" >0.8</text>
<text x="132.1" y="435.3" font-size="6.6" text-anchor="end" font-family="Liberation Sans, sans-serif" fill="#222" >1</text>
<text x="274.6" y="419.8" font-size="6.6" text-anchor="start" font-family="Liberation Sans, sans-serif" fill="#222" >1</text>
<text x="147.8" y="441.5" font-size="6.6" text-anchor="end" font-family="Liberation Sans, sans-serif" fill="#222" >1.2</text>
<text x="263.8" y="428.7" font-size="6.6" text-anchor="start" font-family="Liberation Sans, sans-serif" fill="#222" >1.2</text>
<text x="163.6" y="447.6" font-size="6.6" text-anchor="end" font-family="Liberation Sans, sans-serif" fill="#222" >1.4</text>
<text x="253.1" y="437.6" font-size="6.6" text-anchor="start" font-family="Liberation Sans, sans-serif" fill="#222" >1.4</text>
<text x="179.3" y="453.8" font-size="6.6" text-anchor="end" font-family="Liberation Sans, sans-serif" fill="#222" >1.6</text>
<text x="242.3" y="446.5" font-size="6.6" text-anchor="start" font-family="Liberation Sans, sans-serif" fill="#222" >1.6</text>
<text x="195" y="460" font-size="6.6" text-anchor="end" font-family="Liberation Sans, sans-serif" fill="#222" >1.8</text>
<text x="231.6" y="455.4" font-size="6.6" text-anchor="start" font-family="Liberation Sans, sans-serif" fill="#222" >1.8</text>
<text x="210.8" y="466.1" font-size="6.6" text-anchor="end" font-family="Liberation Sans, sans-serif" fill="#222" >2</text>
<text x="220.8" y="464.3" font-size="6.6" text-anchor="start" font-family="Liberation Sans, sans-serif" fill="#222" >2</text>
<text x="53.6" y="395.7" font-size="6.6" text-anchor="end" font-family="Liberation Sans, sans-serif" fill="#222" >0</text>
<text x="53.6" y="378.2" font-size="6.6" text-anchor="end" font-family="Liberation Sans, sans-serif" fill="#222" >0.2</text>
<text x="53.6" y="360.7" font-size="6.6" text-anchor="end" font-family="Liberation Sans, sans-serif" fill="#222" >0.4</text>
<text x="155.2" y="471" font-size="7.4" text-anchor="middle" font-family="Liberation Serif, serif" fill="#222" >x(m)</text>
<text x="278.5" y="456" font-size="7.4" text-anchor="middle" font-family="Liberation Serif, serif" fill="#222" >y (m)</text>
<text x="0" y="0" font-size="7.4" text-anchor="middle" font-family="Liberation Serif, serif" fill="#222" transform="translate(39.5,377.4) rotate(-90)">w (mm)</text></g>
<g id="pb"><defs><linearGradient id="bgB" x1="0" y1="0" x2="0" y2="1"><stop offset="0" stop-color="#1c2e48"/><stop offset="0.45" stop-color="#2b3d5b"/><stop offset="0.7" stop-color="#4c5b77"/><stop offset="0.85" stop-color="#6e7b94"/><stop offset="1" stop-color="#9eacc2"/></linearGradient></defs><rect x="375" y="32.2" width="297.1" height="185.2" fill="url(#bgB)"/>
<path d="M402.7 119.3 L406.1 118.2 L409.4 117 L412.8 115.9 L416.1 114.7 L419.4 113.6 L422.7 112.5 L426 111.4 L429.2 110.3 L432.5 109.2 L435.7 108.1 L438.9 107 L442.1 105.9 L445.3 104.8 L448.5 103.7 L451.6 102.7 L454.8 101.6 L457.9 100.5 L461 99.5 L464.1 98.4 L467.2 97.4 L470.2 96.4 L473.3 95.3 L476.3 94.3 L479.4 93.3 L482.4 92.2 L485.4 91.2 L488.4 90.2 L491.3 89.2 L494.3 88.2 L497.2 87.2 L500.1 86.2 L503.1 85.2 L506 84.2 L508.8 83.2 L511.7 82.3 L514.6 81.3 L517.4 80.3 L520.3 79.4 L523.1 78.4 L525.9 77.4 L528.7 76.5 L531.5 75.5 L534.3 74.6 L537 73.7 L539.8 72.7 L542.5 71.8 L545.2 70.9 L547.9 70 L550.6 69 L553.3 68.1 L556 67.2 L558.7 66.3 L561.3 65.4 L564 64.5 L566.6 63.6 L569.2 62.7 L571.8 61.8 L574.4 61 L577 60.1 L579.6 59.2 L647.5 83.8 L644.7 84.8 L642 85.8 L639.2 86.7 L636.4 87.6 L633.6 88.3 L630.7 89 L627.9 89.6 L625 90.1 L622.2 90.5 L619.3 90.9 L616.4 91.2 L613.5 91.4 L610.6 91.6 L607.6 91.7 L604.7 91.8 L601.7 91.9 L598.7 92 L595.7 92.1 L592.7 92.2 L589.6 92.4 L586.6 92.5 L583.5 92.8 L580.5 93.1 L577.4 93.5 L574.2 93.9 L571.1 94.5 L568 95.2 L564.8 95.9 L561.6 96.8 L558.4 97.9 L555.2 99 L552 100.3 L548.8 101.7 L545.5 103.3 L542.2 104.9 L538.9 106.7 L535.6 108.6 L532.3 110.6 L528.9 112.7 L525.6 114.9 L522.2 117.2 L518.8 119.5 L515.4 121.9 L511.9 124.3 L508.5 126.7 L505 129.1 L501.5 131.6 L498 134 L494.4 136.4 L490.9 138.7 L487.3 141 L483.7 143.2 L480.1 145.3 L476.4 147.4 L472.8 149.3 L469.1 151.2 L465.4 152.9 L461.7 154.6 L458 156.1 L454.2 157.6Z" fill="#0000ff"/>
<path d="M455.6 144.4 L453.5 142.8 L450.5 140.2 L447.8 137.6 L445.5 135.1 L443.8 132.7 L442.6 130.4 L441.8 128.3 L441.6 126.2 L441.8 124.3 L442.4 122.4 L443.4 120.6 L444.7 118.9 L446.4 117.2 L448.3 115.6 L450.5 113.9 L453 112.3 L455.6 110.7 L458.5 109.1 L461.5 107.6 L464.7 106 L468.1 104.4 L471.5 102.9 L475.1 101.4 L478.8 99.8 L482.5 98.3 L486.4 96.9 L490.2 95.4 L494.2 93.9 L498.1 92.5 L502.1 91.1 L506 89.8 L510 88.4 L514 87.2 L518 85.9 L522 84.7 L525.9 83.6 L529.8 82.5 L533.7 81.4 L537.5 80.5 L541.3 79.5 L545.1 78.7 L548.8 77.9 L552.5 77.3 L556.2 76.7 L559.9 76.2 L563.5 75.8 L567.2 75.5 L570.9 75.3 L574.6 75.3 L578.3 75.3 L582.1 75.6 L586 75.9 L590 76.5 L594 77.1 L598.1 78 L602.4 79 L606.6 80.2 L610.9 81.4 L615 82.8 L617.8 83.8 L626.3 89.9 L621.4 90.6 L616.5 91.2 L611.6 91.5 L606.6 91.8 L601.6 91.9 L596.5 92.1 L591.4 92.3 L586.3 92.6 L581.1 93 L575.8 93.7 L570.5 94.6 L565.2 95.8 L559.8 97.4 L554.4 99.3 L548.9 101.7 L543.4 104.3 L537.8 107.3 L532.2 110.7 L526.5 114.3 L520.8 118.1 L515 122.1 L509.2 126.2 L503.3 130.3 L497.3 134.4 L491.3 138.4 L485.3 142.2 L479.2 145.9 L473 149.2Z" fill="#005dff"/>
<path d="M463.8 141.2 L462.1 139.9 L459.8 138 L457.7 136 L456 133.9 L454.6 131.9 L453.6 129.9 L452.9 128 L452.7 126.1 L452.7 124.2 L453.1 122.4 L453.9 120.6 L454.9 118.9 L456.2 117.2 L457.8 115.5 L459.6 113.9 L461.7 112.3 L463.9 110.6 L466.4 109.1 L469 107.5 L471.8 105.9 L474.7 104.4 L477.7 102.9 L480.9 101.4 L484.2 99.9 L487.5 98.5 L491 97.1 L494.5 95.7 L498 94.3 L501.6 93 L505.2 91.7 L508.8 90.4 L512.5 89.2 L516.2 88 L519.8 86.9 L523.5 85.8 L527.2 84.8 L530.9 83.8 L534.5 82.9 L538.2 82.1 L541.8 81.3 L545.4 80.6 L548.9 79.9 L552.5 79.4 L556 78.9 L559.6 78.5 L563.1 78.2 L566.6 78 L570.1 78 L573.6 78 L577.1 78.1 L580.7 78.3 L584.2 78.7 L587.8 79.2 L591.4 79.8 L595 80.5 L598.6 81.4 L602.1 82.3 L605.6 83.4 L608.9 84.5 L611 85.3 L619.4 90.9 L614.9 91.3 L610.4 91.6 L605.9 91.8 L601.3 92 L596.7 92.1 L592.1 92.2 L587.4 92.5 L582.7 92.8 L577.9 93.4 L573.2 94.1 L568.3 95.1 L563.5 96.3 L558.6 97.8 L553.6 99.7 L548.6 101.8 L543.6 104.2 L538.5 106.9 L533.4 109.9 L528.3 113.1 L523.1 116.5 L517.9 120.1 L512.6 123.8 L507.3 127.5 L501.9 131.3 L496.5 135 L491 138.6 L485.5 142.1 L480 145.4Z" fill="#00b9ff"/>
<path d="M470.4 137.7 L469.1 136.7 L467.2 135.1 L465.5 133.5 L464.1 131.7 L462.9 130 L462.1 128.2 L461.5 126.5 L461.2 124.7 L461.3 123 L461.6 121.3 L462.2 119.6 L463 118 L464.1 116.3 L465.5 114.7 L467.1 113.1 L468.8 111.5 L470.8 109.9 L472.9 108.4 L475.3 106.9 L477.7 105.4 L480.3 103.9 L483.1 102.4 L485.9 101 L488.8 99.5 L491.9 98.2 L495 96.8 L498.2 95.5 L501.4 94.2 L504.7 92.9 L508 91.7 L511.3 90.6 L514.7 89.4 L518.1 88.4 L521.5 87.3 L524.9 86.3 L528.4 85.4 L531.8 84.5 L535.2 83.7 L538.7 83 L542.1 82.3 L545.5 81.7 L548.8 81.1 L552.2 80.6 L555.6 80.3 L558.9 79.9 L562.2 79.7 L565.5 79.6 L568.8 79.5 L572.1 79.6 L575.4 79.7 L578.7 80 L581.9 80.3 L585.2 80.8 L588.4 81.3 L591.6 81.9 L594.7 82.7 L597.8 83.5 L600.8 84.4 L603.5 85.3 L605.3 86 L613.8 91.4 L609.7 91.6 L605.5 91.8 L601.3 92 L597.1 92.1 L592.9 92.2 L588.6 92.4 L584.3 92.7 L579.9 93.1 L575.6 93.7 L571.2 94.5 L566.7 95.4 L562.3 96.7 L557.8 98.1 L553.2 99.8 L548.7 101.8 L544.1 104 L539.4 106.4 L534.8 109.1 L530.1 112 L525.3 115.1 L520.5 118.3 L515.7 121.6 L510.9 125 L506 128.4 L501.1 131.9 L496.1 135.3 L491.1 138.6 L486.1 141.8Z" fill="#00ffe8"/>
<path d="M476.9 134.5 L475.6 133.5 L473.9 132.1 L472.4 130.6 L471.2 129.1 L470.2 127.6 L469.5 126 L469 124.4 L468.7 122.9 L468.8 121.3 L469 119.7 L469.5 118.1 L470.2 116.6 L471.2 115 L472.4 113.5 L473.7 111.9 L475.3 110.4 L477 108.9 L478.9 107.4 L481 105.9 L483.2 104.5 L485.5 103.1 L487.9 101.7 L490.5 100.3 L493.2 99 L495.9 97.6 L498.7 96.4 L501.6 95.1 L504.6 93.9 L507.6 92.7 L510.6 91.6 L513.7 90.5 L516.8 89.5 L520 88.5 L523.1 87.5 L526.3 86.6 L529.5 85.8 L532.7 85 L535.9 84.2 L539.1 83.6 L542.3 83 L545.5 82.4 L548.6 81.9 L551.8 81.5 L554.9 81.2 L558.1 80.9 L561.2 80.7 L564.3 80.6 L567.4 80.6 L570.4 80.7 L573.5 80.8 L576.5 81.1 L579.5 81.4 L582.4 81.8 L585.3 82.3 L588.2 82.9 L591 83.5 L593.6 84.2 L596.2 85 L598.6 85.8 L600 86.3 L608.8 91.7 L605 91.8 L601.1 92 L597.3 92.1 L593.4 92.2 L589.4 92.4 L585.5 92.6 L581.5 93 L577.5 93.4 L573.5 94 L569.5 94.8 L565.4 95.8 L561.3 96.9 L557.2 98.3 L553 99.9 L548.8 101.7 L544.6 103.7 L540.4 105.9 L536.1 108.3 L531.8 110.9 L527.5 113.7 L523.1 116.5 L518.7 119.5 L514.3 122.6 L509.8 125.7 L505.3 128.9 L500.8 132 L496.3 135.1 L491.7 138.2Z" fill="#00ff8b"/>
<path d="M483 131 L481.7 130.1 L480.2 128.8 L478.9 127.6 L477.9 126.2 L477 124.9 L476.3 123.5 L475.9 122.1 L475.7 120.6 L475.7 119.2 L475.9 117.7 L476.3 116.3 L477 114.8 L477.8 113.3 L478.8 111.9 L480 110.5 L481.4 109 L482.9 107.6 L484.6 106.2 L486.4 104.8 L488.4 103.5 L490.5 102.1 L492.7 100.8 L495 99.5 L497.4 98.2 L499.9 97 L502.4 95.8 L505 94.6 L507.7 93.5 L510.5 92.4 L513.3 91.3 L516.1 90.3 L518.9 89.4 L521.8 88.5 L524.7 87.6 L527.7 86.8 L530.6 86 L533.6 85.3 L536.5 84.6 L539.5 84 L542.5 83.5 L545.4 83 L548.4 82.6 L551.3 82.2 L554.3 81.9 L557.2 81.7 L560.1 81.5 L563 81.5 L565.8 81.5 L568.6 81.5 L571.4 81.7 L574.2 81.9 L576.9 82.2 L579.6 82.6 L582.2 83 L584.8 83.5 L587.3 84.1 L589.6 84.7 L591.9 85.4 L594 86.1 L595.3 86.6 L604 91.9 L600.5 92 L597 92.1 L593.5 92.2 L589.9 92.3 L586.3 92.6 L582.7 92.8 L579 93.2 L575.4 93.7 L571.7 94.4 L568 95.2 L564.2 96.1 L560.5 97.2 L556.7 98.5 L552.9 99.9 L549.1 101.6 L545.2 103.4 L541.4 105.4 L537.5 107.5 L533.6 109.8 L529.6 112.3 L525.7 114.8 L521.7 117.5 L517.6 120.3 L513.6 123.1 L509.5 125.9 L505.4 128.8 L501.3 131.7 L497.1 134.5Z" fill="#00ff2e"/>
<path d="M488.6 127.1 L487.6 126.3 L486.4 125.3 L485.3 124.2 L484.3 123.1 L483.6 121.9 L483 120.6 L482.6 119.4 L482.4 118.1 L482.4 116.8 L482.6 115.4 L483 114.1 L483.5 112.8 L484.2 111.4 L485.1 110.1 L486.2 108.8 L487.4 107.5 L488.7 106.1 L490.2 104.8 L491.8 103.5 L493.5 102.3 L495.4 101 L497.4 99.8 L499.4 98.6 L501.6 97.4 L503.8 96.3 L506.1 95.1 L508.5 94.1 L510.9 93 L513.4 92 L515.9 91 L518.4 90.1 L521 89.2 L523.7 88.4 L526.3 87.6 L529 86.9 L531.7 86.2 L534.5 85.5 L537.2 84.9 L539.9 84.4 L542.6 83.9 L545.4 83.5 L548.1 83.1 L550.8 82.8 L553.5 82.5 L556.2 82.3 L558.9 82.2 L561.5 82.2 L564.1 82.2 L566.7 82.2 L569.2 82.4 L571.7 82.6 L574.2 82.8 L576.6 83.2 L578.9 83.6 L581.2 84 L583.4 84.5 L585.5 85.1 L587.5 85.7 L589.2 86.3 L590.2 86.6 L599.4 92 L596.2 92.1 L593 92.2 L589.7 92.4 L586.5 92.5 L583.2 92.8 L579.9 93.1 L576.6 93.6 L573.3 94.1 L569.9 94.7 L566.6 95.5 L563.2 96.4 L559.8 97.4 L556.3 98.6 L552.9 99.9 L549.4 101.4 L545.9 103 L542.4 104.8 L538.9 106.7 L535.4 108.7 L531.8 110.9 L528.2 113.2 L524.6 115.5 L521 118 L517.4 120.5 L513.7 123 L510 125.6 L506.3 128.2 L502.6 130.8Z" fill="#2eff00"/>
<path d="M494 122.7 L493.4 122.3 L492.4 121.5 L491.5 120.6 L490.7 119.6 L490.1 118.6 L489.6 117.5 L489.3 116.4 L489.1 115.2 L489.1 114.1 L489.3 112.9 L489.6 111.7 L490 110.5 L490.7 109.3 L491.4 108.1 L492.3 106.9 L493.4 105.7 L494.5 104.5 L495.8 103.3 L497.3 102.1 L498.8 101 L500.4 99.8 L502.1 98.7 L504 97.6 L505.9 96.5 L507.8 95.5 L509.9 94.5 L512 93.5 L514.2 92.5 L516.4 91.6 L518.7 90.7 L521 89.9 L523.3 89.1 L525.7 88.3 L528.1 87.6 L530.5 86.9 L532.9 86.3 L535.4 85.7 L537.9 85.2 L540.4 84.7 L542.8 84.3 L545.3 83.9 L547.8 83.6 L550.3 83.3 L552.7 83.1 L555.2 82.9 L557.6 82.8 L560 82.8 L562.3 82.8 L564.7 82.9 L567 83 L569.2 83.2 L571.4 83.4 L573.6 83.7 L575.7 84.1 L577.7 84.5 L579.6 84.9 L581.5 85.4 L583.2 86 L584.8 86.5 L585.8 86.9 L594.8 92.1 L591.9 92.3 L589 92.4 L586.1 92.6 L583.1 92.8 L580.2 93.1 L577.2 93.5 L574.2 93.9 L571.3 94.5 L568.2 95.1 L565.2 95.8 L562.2 96.7 L559.1 97.6 L556.1 98.7 L553 99.9 L549.9 101.2 L546.7 102.7 L543.6 104.2 L540.5 105.9 L537.3 107.6 L534.1 109.5 L530.9 111.4 L527.7 113.5 L524.5 115.6 L521.2 117.8 L518 120 L514.7 122.3 L511.4 124.6 L508.1 127Z" fill="#8bff00"/>
<path d="M500.1 118.5 L499.6 118.2 L498.8 117.5 L498 116.8 L497.4 115.9 L496.8 115 L496.4 114.1 L496.1 113.2 L496 112.2 L496 111.2 L496.1 110.2 L496.3 109.1 L496.7 108.1 L497.3 107 L497.9 105.9 L498.7 104.9 L499.6 103.8 L500.6 102.7 L501.7 101.7 L502.9 100.6 L504.2 99.6 L505.6 98.6 L507.1 97.6 L508.7 96.6 L510.4 95.6 L512.1 94.7 L513.9 93.8 L515.7 92.9 L517.6 92 L519.6 91.2 L521.6 90.4 L523.6 89.7 L525.7 89 L527.8 88.3 L529.9 87.7 L532 87.1 L534.2 86.5 L536.4 86 L538.6 85.6 L540.8 85.1 L543 84.8 L545.3 84.4 L547.5 84.2 L549.7 83.9 L551.9 83.7 L554 83.6 L556.2 83.5 L558.3 83.5 L560.4 83.5 L562.5 83.6 L564.5 83.7 L566.5 83.8 L568.4 84 L570.3 84.3 L572.2 84.6 L573.9 85 L575.6 85.4 L577.3 85.8 L578.8 86.3 L580.3 86.8 L581.4 87.3 L590 92.3 L587.5 92.5 L584.9 92.7 L582.3 92.9 L579.7 93.2 L577.1 93.5 L574.5 93.9 L571.8 94.3 L569.2 94.9 L566.5 95.5 L563.9 96.2 L561.2 97 L558.5 97.9 L555.8 98.8 L553.1 99.9 L550.4 101 L547.6 102.2 L544.9 103.6 L542.1 105 L539.3 106.5 L536.6 108.1 L533.8 109.7 L530.9 111.4 L528.1 113.2 L525.3 115.1 L522.4 117 L519.6 118.9 L516.7 120.9 L513.8 122.9Z" fill="#e8ff00"/>
<path d="M507.1 114.4 L506.5 114 L505.8 113.4 L505.1 112.7 L504.5 112 L504 111.3 L503.7 110.5 L503.4 109.7 L503.3 108.9 L503.2 108.1 L503.3 107.2 L503.5 106.3 L503.9 105.4 L504.3 104.5 L504.8 103.6 L505.5 102.7 L506.2 101.8 L507 100.9 L507.9 100 L509 99.1 L510.1 98.2 L511.2 97.3 L512.5 96.4 L513.8 95.6 L515.2 94.7 L516.7 93.9 L518.2 93.2 L519.8 92.4 L521.4 91.7 L523.1 91 L524.8 90.3 L526.5 89.6 L528.2 89 L530 88.4 L531.9 87.9 L533.7 87.4 L535.6 86.9 L537.5 86.5 L539.4 86.1 L541.3 85.7 L543.2 85.4 L545.1 85.1 L547 84.9 L548.9 84.7 L550.8 84.5 L552.7 84.4 L554.6 84.3 L556.4 84.3 L558.2 84.3 L560 84.4 L561.7 84.5 L563.4 84.6 L565.1 84.8 L566.7 85 L568.2 85.3 L569.7 85.6 L571.1 85.9 L572.5 86.3 L573.7 86.7 L574.9 87.1 L575.5 87.3 L584.9 92.7 L582.7 92.8 L580.4 93.1 L578.2 93.3 L576 93.6 L573.8 94 L571.5 94.4 L569.3 94.9 L567 95.4 L564.7 96 L562.4 96.6 L560.2 97.3 L557.9 98.1 L555.5 98.9 L553.2 99.8 L550.9 100.8 L548.6 101.8 L546.2 102.9 L543.9 104.1 L541.5 105.3 L539.2 106.6 L536.8 107.9 L534.4 109.3 L532 110.8 L529.6 112.3 L527.2 113.8 L524.8 115.4 L522.3 117.1 L519.9 118.7Z" fill="#ffb900"/>
<path d="M514.1 109.3 L513.9 109.1 L513.3 108.6 L512.8 108.2 L512.4 107.6 L512 107.1 L511.7 106.5 L511.5 105.8 L511.4 105.2 L511.4 104.5 L511.5 103.9 L511.6 103.2 L511.9 102.5 L512.2 101.7 L512.6 101 L513.1 100.3 L513.7 99.6 L514.3 98.8 L515.1 98.1 L515.9 97.4 L516.7 96.7 L517.7 96 L518.7 95.3 L519.7 94.6 L520.8 93.9 L522 93.3 L523.2 92.6 L524.5 92 L525.8 91.4 L527.1 90.8 L528.5 90.3 L529.9 89.7 L531.3 89.2 L532.7 88.8 L534.2 88.3 L535.7 87.9 L537.2 87.5 L538.8 87.2 L540.3 86.8 L541.9 86.6 L543.5 86.3 L545 86.1 L546.6 85.9 L548.1 85.7 L549.7 85.6 L551.2 85.5 L552.7 85.4 L554.2 85.4 L555.7 85.4 L557.1 85.5 L558.5 85.5 L559.9 85.6 L561.2 85.8 L562.5 86 L563.7 86.2 L564.9 86.4 L566.1 86.7 L567.1 87 L568.1 87.3 L569 87.6 L569.5 87.8 L579.1 93.2 L577.3 93.5 L575.5 93.7 L573.7 94 L571.9 94.3 L570.1 94.7 L568.2 95.1 L566.4 95.5 L564.6 96 L562.8 96.5 L560.9 97.1 L559.1 97.7 L557.2 98.3 L555.4 99 L553.5 99.7 L551.6 100.5 L549.8 101.3 L547.9 102.1 L546 103 L544.1 104 L542.2 104.9 L540.3 105.9 L538.4 107 L536.5 108.1 L534.6 109.2 L532.6 110.4 L530.7 111.6 L528.8 112.8 L526.8 114.1Z" fill="#ff5d00"/>
<path d="M523.8 103.9 L523.4 103.7 L523 103.4 L522.6 103 L522.2 102.6 L522 102.3 L521.8 101.9 L521.6 101.4 L521.5 101 L521.5 100.6 L521.5 100.1 L521.6 99.6 L521.8 99.1 L522 98.7 L522.3 98.2 L522.6 97.7 L523 97.2 L523.4 96.7 L523.9 96.2 L524.5 95.7 L525 95.2 L525.7 94.7 L526.4 94.2 L527.1 93.7 L527.9 93.2 L528.7 92.8 L529.5 92.3 L530.4 91.9 L531.3 91.5 L532.2 91.1 L533.2 90.7 L534.1 90.3 L535.1 90 L536.2 89.6 L537.2 89.3 L538.3 89 L539.3 88.7 L540.4 88.5 L541.5 88.3 L542.6 88 L543.7 87.9 L544.8 87.7 L545.9 87.6 L547 87.4 L548.1 87.3 L549.2 87.3 L550.3 87.2 L551.3 87.2 L552.4 87.2 L553.4 87.2 L554.4 87.3 L555.3 87.4 L556.2 87.5 L557.1 87.6 L558 87.7 L558.8 87.9 L559.6 88.1 L560.3 88.3 L561 88.5 L561.5 88.7 L561.8 88.8 L571.8 94.4 L570.5 94.6 L569.3 94.9 L568 95.1 L566.7 95.5 L565.5 95.8 L564.2 96.1 L562.9 96.5 L561.6 96.9 L560.3 97.2 L559 97.7 L557.8 98.1 L556.5 98.6 L555.2 99.1 L553.9 99.6 L552.6 100.1 L551.3 100.6 L550 101.2 L548.6 101.8 L547.3 102.4 L546 103 L544.7 103.7 L543.4 104.3 L542.1 105 L540.7 105.7 L539.4 106.5 L538.1 107.2 L536.7 108 L535.4 108.7Z" fill="#ff0000"/>
<path d="M402.7 119.3 L406.1 118.2 L409.4 117 L412.8 115.9 L416.1 114.7 L419.4 113.6 L422.7 112.5 L426 111.4 L429.2 110.3 L432.5 109.2 L435.7 108.1 L438.9 107 L442.1 105.9 L445.3 104.8 L448.5 103.7 L451.6 102.7 L454.8 101.6 L457.9 100.5 L461 99.5 L464.1 98.4 L467.2 97.4 L470.2 96.4 L473.3 95.3 L476.3 94.3 L479.4 93.3 L482.4 92.2 L485.4 91.2 L488.4 90.2 L491.3 89.2 L494.3 88.2 L497.2 87.2 L500.1 86.2 L503.1 85.2 L506 84.2 L508.8 83.2 L511.7 82.3 L514.6 81.3 L517.4 80.3 L520.3 79.4 L523.1 78.4 L525.9 77.4 L528.7 76.5 L531.5 75.5 L534.3 74.6 L537 73.7 L539.8 72.7 L542.5 71.8 L545.2 70.9 L547.9 70 L550.6 69 L553.3 68.1 L556 67.2 L558.7 66.3 L561.3 65.4 L564 64.5 L566.6 63.6 L569.2 62.7 L571.8 61.8 L574.4 61 L577 60.1 L579.6 59.2 L647.5 83.8 L644.7 84.8 L642 85.8 L639.2 86.7 L636.4 87.6 L633.6 88.3 L630.7 89 L627.9 89.6 L625 90.1 L622.2 90.5 L619.3 90.9 L616.4 91.2 L613.5 91.4 L610.6 91.6 L607.6 91.7 L604.7 91.8 L601.7 91.9 L598.7 92 L595.7 92.1 L592.7 92.2 L589.6 92.4 L586.6 92.5 L583.5 92.8 L580.5 93.1 L577.4 93.5 L574.2 93.9 L571.1 94.5 L568 95.2 L564.8 95.9 L561.6 96.8 L558.4 97.9 L555.2 99 L552 100.3 L548.8 101.7 L545.5 103.3 L542.2 104.9 L538.9 106.7 L535.6 108.6 L532.3 110.6 L528.9 112.7 L525.6 114.9 L522.2 117.2 L518.8 119.5 L515.4 121.9 L511.9 124.3 L508.5 126.7 L505 129.1 L501.5 131.6 L498 134 L494.4 136.4 L490.9 138.7 L487.3 141 L483.7 143.2 L480.1 145.3 L476.4 147.4 L472.8 149.3 L469.1 151.2 L465.4 152.9 L461.7 154.6 L458 156.1 L454.2 157.6Z" fill="#000010" fill-opacity="0.2"/>
<path d="M647.5 83.8 L640.3 81.2 L635.2 79.3 L630.7 77.7 L626.6 76.2 L622.7 75 L618.1 74.1 L613.6 73.4 L609.2 72.9 L604.9 72.5 L600.6 72.2 L596.5 72.1 L592.4 72 L588.5 72.1 L584.6 72.3 L580.9 72.6 L577.3 73 L573.9 73.5 L570.6 74.1 L567.5 74.7 L564.6 75.5 L561.9 76.2 L559.5 77 L557.2 77.9 L555.2 78.7 L553.5 79.5 L552.1 80.2 L550.9 80.9 L550.1 81.5 L549.6 82 L549.5 82.5 L549.7 82.8 L550.4 83.2 L551.4 83.6 L552.8 84 L554.7 84.6 L557.1 85.5 L560.1 86.7 L563.6 88.4 L568 90.7 L574.6 93.9 L578.4 93.3 L582.3 92.9 L586.1 92.6 L589.9 92.3 L593.7 92.2 L597.4 92.1 L601.1 92 L604.8 91.8 L608.5 91.7 L612.2 91.5 L615.8 91.2 L619.4 90.9 L623 90.4 L626.6 89.8 L630.1 89.1 L633.6 88.3 L637.1 87.3 L640.6 86.3 L644.1 85.1Z" fill="#00081a" fill-opacity="0.42"/>
<ellipse cx="573.4" cy="77.7" rx="7" ry="2.2" fill="#00d8d0" fill-opacity="0.55" transform="rotate(-14 573.4 77.7)"/>
<path d="M402.7 119.3 L408.4 123.5 L414.2 127.9 L420.3 132.4 L426.6 137 L433.1 141.9 L439.9 146.9 L446.9 152.2 L454.2 157.6M405.2 118.4 L410.9 122.6 L416.8 126.9 L422.9 131.4 L429.2 136.1 L435.8 140.9 L442.6 145.9 L449.7 151.1 L457 156.5M407.8 117.6 L413.5 121.7 L419.4 126 L425.5 130.5 L431.9 135.1 L438.5 139.9 L445.3 144.8 L452.4 150 L459.8 155.4M410.3 116.7 L416 120.9 L422 125.1 L428.1 129.5 L434.5 134 L441.2 138.8 L448.1 143.7 L455.2 148.8 L462.6 154.2M412.8 115.9 L418.6 120 L424.5 124.2 L430.8 128.5 L437.2 133 L443.8 137.6 L450.8 142.5 L458 147.6 L465.4 152.9M415.3 115 L421.1 119.1 L427.1 123.2 L433.3 127.5 L439.8 131.9 L446.5 136.5 L453.5 141.3 L460.7 146.3 L468.2 151.6M417.8 114.2 L423.6 118.2 L429.7 122.3 L435.9 126.4 L442.4 130.8 L449.2 135.2 L456.2 140 L463.4 145 L471 150.3M420.2 113.3 L426.1 117.3 L432.2 121.3 L438.5 125.4 L445 129.6 L451.8 134 L458.8 138.6 L466.1 143.6 L473.7 148.8M422.7 112.5 L428.6 116.4 L434.7 120.4 L441.1 124.3 L447.6 128.4 L454.4 132.7 L461.5 137.3 L468.8 142.2 L476.4 147.4M425.2 111.7 L431.1 115.6 L437.3 119.4 L443.6 123.2 L450.2 127.1 L457.1 131.3 L464.2 135.8 L471.5 140.7 L479.2 145.9M427.6 110.8 L433.6 114.7 L439.8 118.4 L446.2 122.1 L452.8 125.9 L459.7 129.9 L466.8 134.3 L474.2 139.2 L481.9 144.3M430.1 110 L436.1 113.8 L442.3 117.4 L448.7 120.9 L455.4 124.6 L462.3 128.5 L469.4 132.8 L476.9 137.6 L484.6 142.7M432.5 109.2 L438.5 112.9 L444.8 116.4 L451.2 119.8 L457.9 123.3 L464.9 127 L472.1 131.2 L479.5 135.9 L487.3 141M434.9 108.4 L441 112 L447.3 115.4 L453.7 118.6 L460.5 121.9 L467.4 125.5 L474.7 129.6 L482.2 134.3 L490 139.3M437.3 107.5 L443.4 111.2 L449.7 114.4 L456.3 117.4 L463 120.5 L470 123.9 L477.3 127.9 L484.8 132.5 L492.6 137.6M439.7 106.7 L445.9 110.3 L452.2 113.4 L458.8 116.3 L465.5 119.1 L472.6 122.4 L479.9 126.2 L487.4 130.8 L495.3 135.8M442.1 105.9 L448.3 109.4 L454.6 112.4 L461.2 115.1 L468.1 117.7 L475.1 120.8 L482.5 124.5 L490.1 129 L498 134M444.5 105.1 L450.7 108.5 L457.1 111.4 L463.7 113.8 L470.6 116.3 L477.7 119.2 L485 122.8 L492.7 127.3 L500.6 132.2M446.9 104.3 L453.1 107.7 L459.5 110.3 L466.2 112.6 L473.1 114.9 L480.2 117.6 L487.6 121 L495.3 125.5 L503.2 130.4M449.3 103.5 L455.5 106.8 L462 109.3 L468.6 111.4 L475.6 113.5 L482.7 116 L490.1 119.3 L497.9 123.7 L505.8 128.5M451.6 102.7 L457.9 105.9 L464.4 108.3 L471.1 110.2 L478 112.1 L485.2 114.4 L492.7 117.5 L500.4 121.9 L508.5 126.7M454 101.9 L460.3 105 L466.8 107.3 L473.5 109 L480.5 110.6 L487.7 112.7 L495.2 115.8 L503 120.1 L511 124.9M456.3 101.1 L462.7 104.2 L469.2 106.3 L476 107.8 L483 109.2 L490.2 111.1 L497.7 114.1 L505.5 118.3 L513.6 123.1M458.7 100.3 L465 103.3 L471.6 105.3 L478.4 106.6 L485.4 107.8 L492.7 109.6 L500.3 112.3 L508.1 116.5 L516.2 121.3M461 99.5 L467.4 102.5 L474 104.3 L480.8 105.4 L487.9 106.4 L495.2 108 L502.8 110.6 L510.6 114.8 L518.8 119.5M463.3 98.7 L469.7 101.6 L476.4 103.3 L483.2 104.3 L490.3 105.1 L497.6 106.4 L505.3 109 L513.1 113 L521.3 117.7M465.6 97.9 L472.1 100.8 L478.7 102.4 L485.6 103.1 L492.7 103.7 L500.1 104.9 L507.7 107.3 L515.7 111.3 L523.9 116M468 97.1 L474.4 99.9 L481.1 101.4 L488 102 L495.1 102.4 L502.5 103.4 L510.2 105.7 L518.2 109.7 L526.4 114.3M470.2 96.4 L476.7 99.1 L483.4 100.4 L490.4 100.9 L497.6 101.1 L505 102 L512.7 104.2 L520.7 108.1 L528.9 112.7M472.5 95.6 L479.1 98.3 L485.8 99.5 L492.7 99.8 L500 99.9 L507.4 100.6 L515.1 102.7 L523.1 106.5 L531.4 111.1M474.8 94.8 L481.4 97.5 L488.1 98.6 L495.1 98.7 L502.3 98.6 L509.8 99.2 L517.6 101.2 L525.6 105 L533.9 109.6M477.1 94 L483.7 96.6 L490.4 97.7 L497.5 97.7 L504.7 97.4 L512.2 97.9 L520 99.8 L528.1 103.6 L536.4 108.1M479.4 93.3 L486 95.8 L492.8 96.8 L499.8 96.6 L507.1 96.3 L514.6 96.6 L522.4 98.5 L530.5 102.2 L538.9 106.7M481.6 92.5 L488.2 95 L495.1 95.9 L502.1 95.6 L509.5 95.2 L517 95.4 L524.9 97.2 L533 100.9 L541.4 105.4M483.9 91.7 L490.5 94.2 L497.4 95 L504.5 94.7 L511.8 94.1 L519.4 94.3 L527.3 95.9 L535.4 99.6 L543.9 104.1M486.1 91 L492.8 93.4 L499.7 94.1 L506.8 93.7 L514.2 93.1 L521.8 93.2 L529.7 94.8 L537.8 98.4 L546.3 102.9M488.4 90.2 L495 92.6 L502 93.3 L509.1 92.8 L516.5 92.1 L524.1 92.1 L532.1 93.7 L540.3 97.3 L548.8 101.7M490.6 89.4 L497.3 91.8 L504.2 92.5 L511.4 92 L518.8 91.2 L526.5 91.2 L534.4 92.7 L542.7 96.3 L551.2 100.7M492.8 88.7 L499.5 91.1 L506.5 91.7 L513.7 91.1 L521.1 90.3 L528.8 90.3 L536.8 91.7 L545.1 95.3 L553.6 99.7M495 87.9 L501.8 90.3 L508.8 90.9 L516 90.3 L523.4 89.5 L531.2 89.4 L539.2 90.9 L547.5 94.4 L556 98.7M497.2 87.2 L504 89.5 L511 90.1 L518.3 89.5 L525.7 88.7 L533.5 88.6 L541.5 90.1 L549.8 93.6 L558.4 97.9M499.4 86.4 L506.2 88.8 L513.3 89.3 L520.5 88.8 L528 88 L535.8 87.9 L543.9 89.3 L552.2 92.8 L560.8 97.1M501.6 85.7 L508.4 88 L515.5 88.6 L522.8 88.1 L530.3 87.3 L538.1 87.2 L546.2 88.6 L554.6 92.1 L563.2 96.4M503.8 85 L510.6 87.3 L517.7 87.9 L525 87.4 L532.6 86.6 L540.4 86.6 L548.5 88 L556.9 91.5 L565.6 95.7M506 84.2 L512.8 86.5 L519.9 87.2 L527.3 86.7 L534.9 86 L542.7 86 L550.8 87.5 L559.3 90.9 L568 95.2M508.1 83.5 L515 85.8 L522.2 86.5 L529.5 86.1 L537.1 85.5 L545 85.5 L553.2 87 L561.6 90.5 L570.3 94.6M510.3 82.7 L517.2 85.1 L524.4 85.8 L531.8 85.5 L539.4 84.9 L547.3 85.1 L555.5 86.6 L563.9 90 L572.7 94.2M512.4 82 L519.4 84.4 L526.6 85.1 L534 84.9 L541.6 84.5 L549.6 84.6 L557.7 86.2 L566.2 89.7 L575 93.8M514.6 81.3 L521.6 83.6 L528.8 84.5 L536.2 84.3 L543.9 84 L551.8 84.3 L560 85.9 L568.5 89.3 L577.4 93.5M516.7 80.6 L523.7 82.9 L530.9 83.8 L538.4 83.8 L546.1 83.6 L554.1 84 L562.3 85.7 L570.8 89.1 L579.7 93.2M518.9 79.8 L525.9 82.2 L533.1 83.2 L540.6 83.3 L548.3 83.2 L556.3 83.7 L564.6 85.4 L573.1 88.8 L582 92.9M521 79.1 L528 81.5 L535.3 82.6 L542.8 82.8 L550.5 82.8 L558.5 83.4 L566.8 85.3 L575.4 88.7 L584.3 92.7M523.1 78.4 L530.2 80.8 L537.4 82 L545 82.3 L552.7 82.5 L560.8 83.2 L569.1 85.1 L577.7 88.5 L586.6 92.5M525.2 77.7 L532.3 80.1 L539.6 81.4 L547.1 81.8 L554.9 82.2 L563 83 L571.3 85 L580 88.4 L588.9 92.4M527.3 77 L534.4 79.4 L541.7 80.8 L549.3 81.4 L557.1 81.9 L565.2 82.9 L573.6 84.9 L582.2 88.3 L591.2 92.3M529.4 76.3 L536.5 78.7 L543.9 80.2 L551.5 80.9 L559.3 81.6 L567.4 82.7 L575.8 84.8 L584.5 88.2 L593.4 92.2M531.5 75.5 L538.6 78.1 L546 79.6 L553.6 80.5 L561.5 81.3 L569.6 82.6 L578 84.8 L586.7 88.2 L595.7 92.1M533.6 74.8 L540.7 77.4 L548.1 79 L555.8 80.1 L563.6 81 L571.8 82.4 L580.2 84.7 L588.9 88.1 L597.9 92M535.6 74.1 L542.8 76.7 L550.2 78.4 L557.9 79.6 L565.8 80.8 L574 82.3 L582.4 84.7 L591.1 88.1 L600.2 92M537.7 73.4 L544.9 76 L552.3 77.9 L560 79.2 L567.9 80.5 L576.1 82.2 L584.6 84.6 L593.4 88.1 L602.4 91.9M539.8 72.7 L547 75.3 L554.4 77.3 L562.1 78.8 L570.1 80.2 L578.3 82 L586.8 84.6 L595.6 88 L604.7 91.8M541.8 72 L549.1 74.7 L556.5 76.7 L564.3 78.3 L572.2 80 L580.5 81.9 L589 84.5 L597.8 87.9 L606.9 91.8M543.9 71.3 L551.1 74 L558.6 76.1 L566.4 77.9 L574.4 79.7 L582.6 81.7 L591.1 84.4 L600 87.9 L609.1 91.7M545.9 70.6 L553.2 73.3 L560.7 75.5 L568.5 77.5 L576.5 79.4 L584.7 81.6 L593.3 84.3 L602.1 87.8 L611.3 91.6M547.9 70 L555.3 72.7 L562.8 75 L570.6 77 L578.6 79.1 L586.9 81.4 L595.4 84.2 L604.3 87.7 L613.5 91.4M550 69.3 L557.3 72 L564.8 74.4 L572.6 76.5 L580.7 78.7 L589 81.2 L597.6 84.1 L606.5 87.5 L615.7 91.2M552 68.6 L559.3 71.3 L566.9 73.8 L574.7 76.1 L582.8 78.4 L591.1 80.9 L599.7 83.9 L608.6 87.3 L617.8 91M554 67.9 L561.4 70.7 L569 73.2 L576.8 75.6 L584.9 78 L593.2 80.7 L601.9 83.7 L610.8 87.1 L620 90.8M556 67.2 L563.4 70 L571 72.6 L578.9 75.1 L587 77.6 L595.3 80.3 L604 83.4 L612.9 86.9 L622.2 90.5M558 66.5 L565.4 69.3 L573 72 L580.9 74.5 L589 77.2 L597.4 80 L606.1 83.1 L615.1 86.6 L624.3 90.2M560 65.9 L567.4 68.6 L575.1 71.3 L583 74 L591.1 76.7 L599.5 79.6 L608.2 82.8 L617.2 86.2 L626.5 89.9M562 65.2 L569.4 68 L577.1 70.7 L585 73.5 L593.2 76.3 L601.6 79.2 L610.3 82.4 L619.3 85.8 L628.6 89.4M564 64.5 L571.4 67.3 L579.1 70.1 L587 72.9 L595.2 75.8 L603.7 78.8 L612.4 82 L621.4 85.4 L630.7 89M566 63.8 L573.4 66.6 L581.1 69.5 L589.1 72.3 L597.3 75.2 L605.7 78.3 L614.5 81.5 L623.5 84.9 L632.9 88.5M567.9 63.2 L575.4 66 L583.1 68.8 L591.1 71.7 L599.3 74.7 L607.8 77.7 L616.6 81 L625.6 84.4 L635 88M569.9 62.5 L577.4 65.3 L585.1 68.2 L593.1 71.1 L601.3 74.1 L609.8 77.2 L618.6 80.4 L627.7 83.8 L637.1 87.4M571.8 61.8 L579.4 64.6 L587.1 67.5 L595.1 70.4 L603.4 73.4 L611.9 76.6 L620.7 79.8 L629.8 83.2 L639.2 86.7M573.8 61.2 L581.3 64 L589.1 66.8 L597.1 69.8 L605.4 72.8 L613.9 75.9 L622.7 79.2 L631.9 82.6 L641.3 86M575.7 60.5 L583.3 63.3 L591.1 66.1 L599.1 69.1 L607.4 72.1 L616 75.3 L624.8 78.5 L633.9 81.9 L643.4 85.3M577.7 59.9 L585.2 62.6 L593 65.5 L601.1 68.4 L609.4 71.4 L618 74.6 L626.8 77.8 L636 81.1 L645.4 84.6M579.6 59.2 L587.2 61.9 L595 64.8 L603.1 67.7 L611.4 70.7 L620 73.8 L628.9 77 L638 80.4 L647.5 83.8" fill="none" stroke="#000" stroke-opacity="0.55" stroke-width="0.55"/>
<path d="M402.7 119.3 L407.8 117.6 L412.8 115.9 L417.8 114.2 L422.7 112.5 L427.6 110.8 L432.5 109.2 L437.3 107.5 L442.1 105.9 L446.9 104.3 L451.6 102.7 L456.3 101.1 L461 99.5 L465.6 97.9 L470.2 96.4 L474.8 94.8 L479.4 93.3 L483.9 91.7 L488.4 90.2 L492.8 88.7 L497.2 87.2 L501.6 85.7 L506 84.2 L510.3 82.7 L514.6 81.3 L518.9 79.8 L523.1 78.4 L527.3 77 L531.5 75.5 L535.6 74.1 L539.8 72.7 L543.9 71.3 L547.9 70 L552 68.6 L556 67.2 L560 65.9 L564 64.5 L567.9 63.2 L571.8 61.8 L575.7 60.5 L579.6 59.2M419 131.5 L424.3 129.6 L429.5 127.6 L434.7 125.6 L439.8 123.5 L444.9 121.3 L449.9 119.1 L454.9 116.8 L459.9 114.5 L464.8 112.2 L469.7 109.9 L474.6 107.5 L479.4 105.2 L484.2 103 L489 100.8 L493.7 98.7 L498.4 96.7 L503 94.8 L507.7 93 L512.2 91.3 L516.8 89.7 L521.3 88.2 L525.8 86.9 L530.3 85.6 L534.7 84.4 L539.1 83.3 L543.4 82.3 L547.8 81.3 L552.1 80.3 L556.3 79.4 L560.6 78.5 L564.8 77.6 L569 76.6 L573.1 75.6 L577.3 74.6 L581.4 73.5 L585.4 72.3 L589.5 71.1 L593.5 69.8 L597.5 68.5 L601.4 67.1M437.1 144.9 L442.6 142.8 L448 140.5 L453.3 138.1 L458.6 135.4 L463.9 132.5 L469.2 129.4 L474.3 126.2 L479.5 122.9 L484.6 119.5 L489.7 116.1 L494.7 112.7 L499.7 109.4 L504.7 106.2 L509.6 103.1 L514.4 100.2 L519.3 97.5 L524.1 95.1 L528.9 92.9 L533.6 90.9 L538.3 89.2 L542.9 87.8 L547.6 86.7 L552.2 85.8 L556.7 85.1 L561.2 84.5 L565.7 84.2 L570.2 83.9 L574.6 83.7 L579 83.6 L583.4 83.5 L587.7 83.3 L592 83 L596.2 82.6 L600.5 82.1 L604.7 81.5 L608.9 80.7 L613 79.7 L617.1 78.5 L621.2 77.2 L625.3 75.7M454.2 157.6 L459.8 155.4 L465.4 152.9 L471 150.3 L476.4 147.4 L481.9 144.3 L487.3 141 L492.6 137.6 L498 134 L503.2 130.4 L508.5 126.7 L513.6 123.1 L518.8 119.5 L523.9 116 L528.9 112.7 L533.9 109.6 L538.9 106.7 L543.9 104.1 L548.8 101.7 L553.6 99.7 L558.4 97.9 L563.2 96.4 L568 95.2 L572.7 94.2 L577.4 93.5 L582 92.9 L586.6 92.5 L591.2 92.3 L595.7 92.1 L600.2 92 L604.7 91.8 L609.1 91.7 L613.5 91.4 L617.8 91 L622.2 90.5 L626.5 89.9 L630.7 89 L635 88 L639.2 86.7 L643.4 85.3 L647.5 83.8" fill="none" stroke="#000" stroke-opacity="0.45" stroke-width="0.4"/>
<path d="M454.2 157.6 L455.4 157.1 L456.6 156.7 L457.9 156.2 L459.1 155.7 L460.3 155.2 L461.5 154.7 L462.7 154.1 L463.9 153.6 L465.1 153 L466.3 152.5 L467.3 161.9 L466.1 162.5 L464.9 163 L463.7 163.6 L462.5 164.1 L461.3 164.6 L460.1 165.1 L458.9 165.6 L457.7 166.1 L456.5 166.5 L455.3 167Z" fill="#00004c"/>
<path d="M631.4 88.8 L633.1 88.4 L634.7 88 L636.3 87.6 L637.9 87.1 L639.5 86.6 L641.1 86.1 L642.7 85.5 L644.3 85 L645.9 84.4 L647.5 83.8 L646.1 93.9 L644.5 94.5 L643 95.1 L641.4 95.6 L639.8 96.2 L638.3 96.7 L636.7 97.2 L635.1 97.6 L633.5 98.1 L631.9 98.5 L630.3 98.9Z" fill="#00004c"/>
<path d="M466.3 152.5 L467.1 152.1 L467.8 151.8 L468.6 151.4 L469.3 151.1 L470 150.7 L470.8 150.4 L471.5 150 L472.2 149.6 L473 149.2 L473.7 148.8 L474.6 158.3 L473.9 158.7 L473.1 159.1 L472.4 159.4 L471.7 159.8 L471 160.2 L470.2 160.5 L469.5 160.9 L468.8 161.2 L468 161.6 L467.3 161.9Z" fill="#001c4c"/>
<path d="M624.3 90.2 L625 90.1 L625.8 90 L626.5 89.9 L627.2 89.7 L627.9 89.6 L628.6 89.4 L629.3 89.3 L630 89.1 L630.7 89 L631.4 88.8 L630.3 98.9 L629.6 99 L628.9 99.2 L628.2 99.3 L627.5 99.5 L626.8 99.6 L626.1 99.7 L625.4 99.9 L624.7 100 L624 100.1 L623.3 100.2Z" fill="#001c4c"/>
<path d="M473.7 148.8 L474.4 148.5 L475.2 148.1 L475.9 147.7 L476.6 147.3 L477.4 146.9 L478.1 146.5 L478.8 146.1 L479.5 145.6 L480.3 145.2 L481 144.8 L481.8 154.3 L481.1 154.7 L480.4 155.1 L479.6 155.5 L478.9 155.9 L478.2 156.3 L477.5 156.7 L476.8 157.1 L476 157.5 L475.3 157.9 L474.6 158.3Z" fill="#00384c"/>
<path d="M618.6 91 L619.1 90.9 L619.7 90.8 L620.3 90.8 L620.9 90.7 L621.5 90.6 L622 90.5 L622.6 90.5 L623.2 90.4 L623.8 90.3 L624.3 90.2 L623.3 100.2 L622.7 100.3 L622.1 100.4 L621.6 100.5 L621 100.5 L620.4 100.6 L619.9 100.7 L619.3 100.8 L618.7 100.8 L618.2 100.9 L617.6 100.9Z" fill="#00384c"/>
<path d="M481 144.8 L481.5 144.5 L482.1 144.2 L482.6 143.8 L483.2 143.5 L483.7 143.2 L484.2 142.9 L484.8 142.5 L485.3 142.2 L485.9 141.9 L486.4 141.6 L487.1 151.1 L486.6 151.4 L486.1 151.7 L485.5 152 L485 152.4 L484.5 152.7 L483.9 153 L483.4 153.3 L482.9 153.7 L482.3 154 L481.8 154.3Z" fill="#004c46"/>
<path d="M612.8 91.5 L613.3 91.4 L613.9 91.4 L614.5 91.3 L615.1 91.3 L615.7 91.2 L616.2 91.2 L616.8 91.1 L617.4 91.1 L618 91 L618.6 91 L617.6 100.9 L617 101 L616.5 101.1 L615.9 101.1 L615.3 101.2 L614.7 101.2 L614.2 101.3 L613.6 101.3 L613 101.3 L612.4 101.4 L611.9 101.4Z" fill="#004c46"/>
<path d="M486.4 141.6 L487.1 141.1 L487.8 140.7 L488.5 140.2 L489.3 139.7 L490 139.3 L490.7 138.8 L491.4 138.4 L492.1 137.9 L492.8 137.4 L493.5 137 L494.2 146.5 L493.5 147 L492.8 147.4 L492.1 147.9 L491.4 148.3 L490.7 148.8 L490 149.3 L489.3 149.7 L488.5 150.2 L487.8 150.6 L487.1 151.1Z" fill="#004c2a"/>
<path d="M606.9 91.8 L607.5 91.7 L608.1 91.7 L608.6 91.7 L609.2 91.7 L609.8 91.6 L610.4 91.6 L611 91.6 L611.6 91.5 L612.2 91.5 L612.8 91.5 L611.9 101.4 L611.3 101.5 L610.7 101.5 L610.1 101.5 L609.6 101.6 L609 101.6 L608.4 101.6 L607.8 101.6 L607.2 101.7 L606.6 101.7 L606.1 101.7Z" fill="#004c2a"/>
<path d="M493.5 137 L494.1 136.6 L494.6 136.3 L495.1 135.9 L495.7 135.5 L496.2 135.2 L496.7 134.8 L497.3 134.5 L497.8 134.1 L498.3 133.8 L498.8 133.4 L499.4 142.9 L498.9 143.3 L498.4 143.7 L497.9 144 L497.3 144.4 L496.8 144.7 L496.3 145.1 L495.8 145.4 L495.2 145.8 L494.7 146.1 L494.2 146.5Z" fill="#004c0e"/>
<path d="M602.4 91.9 L602.9 91.9 L603.3 91.9 L603.8 91.9 L604.2 91.9 L604.7 91.8 L605.1 91.8 L605.5 91.8 L606 91.8 L606.4 91.8 L606.9 91.8 L606.1 101.7 L605.6 101.7 L605.2 101.7 L604.8 101.7 L604.3 101.8 L603.9 101.8 L603.4 101.8 L603 101.8 L602.6 101.8 L602.1 101.8 L601.7 101.8Z" fill="#004c0e"/>
<path d="M498.8 133.4 L499.4 133 L499.9 132.7 L500.4 132.3 L501 131.9 L501.5 131.6 L502 131.2 L502.5 130.8 L503.1 130.5 L503.6 130.1 L504.1 129.8 L504.6 139.3 L504.1 139.7 L503.6 140 L503.1 140.4 L502.6 140.8 L502 141.1 L501.5 141.5 L501 141.9 L500.5 142.2 L500 142.6 L499.4 142.9Z" fill="#0e4c00"/>
<path d="M597.9 92 L598.4 92 L598.8 92 L599.3 92 L599.7 92 L600.2 92 L600.6 92 L601.1 92 L601.5 91.9 L602 91.9 L602.4 91.9 L601.7 101.8 L601.2 101.8 L600.8 101.9 L600.4 101.9 L599.9 101.9 L599.5 101.9 L599 101.9 L598.6 101.9 L598.2 101.9 L597.7 101.9 L597.3 101.9Z" fill="#0e4c00"/>
<path d="M504.1 129.8 L504.8 129.3 L505.5 128.8 L506.2 128.3 L506.9 127.8 L507.6 127.3 L508.3 126.8 L509 126.3 L509.7 125.8 L510.4 125.4 L511 124.9 L511.5 134.5 L510.8 134.9 L510.1 135.4 L509.4 135.9 L508.8 136.4 L508.1 136.9 L507.4 137.4 L506.7 137.9 L506 138.3 L505.3 138.8 L504.6 139.3Z" fill="#2a4c00"/>
<path d="M591.9 92.3 L592.5 92.2 L593.1 92.2 L593.7 92.2 L594.3 92.2 L594.9 92.1 L595.5 92.1 L596.1 92.1 L596.7 92.1 L597.3 92.1 L597.9 92 L597.3 101.9 L596.7 102 L596.1 102 L595.5 102 L594.9 102 L594.3 102 L593.7 102 L593.1 102.1 L592.5 102.1 L591.9 102.1 L591.3 102.1Z" fill="#2a4c00"/>
<path d="M511 124.9 L511.7 124.4 L512.4 123.9 L513.1 123.4 L513.8 122.9 L514.5 122.5 L515.2 122 L515.9 121.5 L516.6 121 L517.2 120.5 L517.9 120.1 L518.3 129.7 L517.6 130.1 L516.9 130.6 L516.3 131.1 L515.6 131.6 L514.9 132 L514.2 132.5 L513.5 133 L512.9 133.5 L512.2 134 L511.5 134.5Z" fill="#464c00"/>
<path d="M587.4 92.5 L587.8 92.5 L588.3 92.4 L588.7 92.4 L589.2 92.4 L589.6 92.4 L590.1 92.3 L590.6 92.3 L591 92.3 L591.5 92.3 L591.9 92.3 L591.3 102.1 L590.9 102.1 L590.4 102.2 L590 102.2 L589.5 102.2 L589.1 102.2 L588.6 102.2 L588.2 102.3 L587.7 102.3 L587.3 102.3 L586.8 102.3Z" fill="#464c00"/>
<path d="M517.9 120.1 L518.6 119.6 L519.3 119.1 L520 118.7 L520.6 118.2 L521.3 117.7 L522 117.3 L522.7 116.8 L523.4 116.4 L524 115.9 L524.7 115.5 L525 125.1 L524.3 125.5 L523.7 126 L523 126.4 L522.3 126.9 L521.6 127.4 L521 127.8 L520.3 128.3 L519.6 128.7 L519 129.2 L518.3 129.7Z" fill="#4c3800"/>
<path d="M581.2 93 L581.8 92.9 L582.5 92.9 L583.1 92.8 L583.7 92.8 L584.3 92.7 L584.9 92.7 L585.5 92.6 L586.1 92.6 L586.7 92.5 L587.4 92.5 L586.8 102.3 L586.2 102.4 L585.6 102.4 L585 102.5 L584.4 102.5 L583.8 102.6 L583.2 102.6 L582.6 102.7 L582 102.7 L581.4 102.8 L580.8 102.8Z" fill="#4c3800"/>
<path d="M524.7 115.5 L525.7 114.8 L526.7 114.1 L527.8 113.5 L528.8 112.8 L529.8 112.2 L530.8 111.5 L531.8 110.9 L532.8 110.3 L533.8 109.7 L534.8 109.1 L534.9 118.8 L533.9 119.4 L533 120 L532 120.6 L531 121.2 L530 121.8 L529 122.5 L528 123.1 L527 123.8 L526 124.4 L525 125.1Z" fill="#4c1c00"/>
<path d="M573.5 94 L574.2 93.9 L575 93.8 L575.8 93.7 L576.6 93.6 L577.4 93.5 L578.1 93.3 L578.9 93.3 L579.7 93.2 L580.5 93.1 L581.2 93 L580.8 102.8 L580 102.9 L579.2 103 L578.5 103.1 L577.7 103.2 L577 103.3 L576.2 103.4 L575.4 103.5 L574.7 103.6 L573.9 103.7 L573.1 103.9Z" fill="#4c1c00"/>
<path d="M534.8 109.1 L538.8 106.8 L542.7 104.7 L546.6 102.7 L550.5 100.9 L554.4 99.3 L558.3 97.9 L562.1 96.7 L565.9 95.7 L569.7 94.8 L573.5 94 L573.1 103.9 L569.4 104.6 L565.7 105.4 L561.9 106.5 L558.1 107.7 L554.3 109.1 L550.5 110.7 L546.6 112.4 L542.8 114.4 L538.9 116.5 L534.9 118.8Z" fill="#4c0000"/>
<path d="M454.2 157.6L455.3 167M457 156.5L458.1 165.9M459.8 155.4L460.9 164.8M462.6 154.2L463.6 163.6M465.4 152.9L466.4 162.4M468.2 151.6L469.1 161.1M471 150.3L471.9 159.7M473.7 148.8L474.6 158.3M476.4 147.4L477.3 156.8M479.2 145.9L480 155.3M481.9 144.3L482.7 153.8M484.6 142.7L485.4 152.2M487.3 141L488 150.5M490 139.3L490.7 148.8M492.6 137.6L493.3 147.1M495.3 135.8L495.9 145.3M498 134L498.6 143.5M500.6 132.2L501.2 141.7M503.2 130.4L503.8 139.9M505.8 128.5L506.4 138.1M508.5 126.7L508.9 136.3M511 124.9L511.5 134.5M513.6 123.1L514 132.6M516.2 121.3L516.6 130.9M518.8 119.5L519.1 129.1M521.3 117.7L521.6 127.4M523.9 116L524.2 125.6M526.4 114.3L526.7 124M528.9 112.7L529.2 122.4M531.4 111.1L531.6 120.8M533.9 109.6L534.1 119.3M536.4 108.1L536.6 117.8M538.9 106.7L539 116.4M541.4 105.4L541.5 115.1M543.9 104.1L543.9 113.8M546.3 102.9L546.3 112.6M548.8 101.7L548.7 111.4M551.2 100.7L551.1 110.4M553.6 99.7L553.5 109.4M556 98.7L555.9 108.5M558.4 97.9L558.3 107.6M560.8 97.1L560.7 106.8M563.2 96.4L563 106.1M565.6 95.7L565.4 105.5M568 95.2L567.7 104.9M570.3 94.6L570 104.4M572.7 94.2L572.3 104M575 93.8L574.7 103.6M577.4 93.5L577 103.3M579.7 93.2L579.2 103M582 92.9L581.5 102.7M584.3 92.7L583.8 102.6M586.6 92.5L586.1 102.4M588.9 92.4L588.3 102.3M591.2 92.3L590.6 102.2M593.4 92.2L592.8 102.1M595.7 92.1L595 102M597.9 92L597.3 101.9M600.2 92L599.5 101.9M602.4 91.9L601.7 101.8M604.7 91.8L603.9 101.8M606.9 91.8L606.1 101.7M609.1 91.7L608.2 101.6M611.3 91.6L610.4 101.5M613.5 91.4L612.6 101.4M615.7 91.2L614.7 101.2M617.8 91L616.9 101M620 90.8L619 100.8M622.2 90.5L621.2 100.5M624.3 90.2L623.3 100.2M626.5 89.9L625.4 99.9M628.6 89.4L627.5 99.5M630.7 89L629.6 99M632.9 88.5L631.7 98.5M635 88L633.8 98M637.1 87.4L635.8 97.4M639.2 86.7L637.9 96.8M641.3 86L640 96.1M643.4 85.3L642 95.4M645.4 84.6L644.1 94.7M647.5 83.8L646.1 93.9M454.2 157.6 L459.8 155.4 L465.4 152.9 L471 150.3 L476.4 147.4 L481.9 144.3 L487.3 141 L492.6 137.6 L498 134 L503.2 130.4 L508.5 126.7 L513.6 123.1 L518.8 119.5 L523.9 116 L528.9 112.7 L533.9 109.6 L538.9 106.7 L543.9 104.1 L548.8 101.7 L553.6 99.7 L558.4 97.9 L563.2 96.4 L568 95.2 L572.7 94.2 L577.4 93.5 L582 92.9 L586.6 92.5 L591.2 92.3 L595.7 92.1 L600.2 92 L604.7 91.8 L609.1 91.7 L613.5 91.4 L617.8 91 L622.2 90.5 L626.5 89.9 L630.7 89 L635 88 L639.2 86.7 L643.4 85.3 L647.5 83.8M454.5 160 L460.1 157.7 L465.7 155.3 L471.2 152.6 L476.7 149.7 L482.1 146.6 L487.5 143.4 L492.8 139.9 L498.1 136.4 L503.4 132.8 L508.6 129.1 L513.7 125.5 L518.9 121.9 L523.9 118.4 L529 115.1 L534 112 L539 109.1 L543.9 106.5 L548.8 104.2 L553.6 102.1 L558.4 100.3 L563.2 98.8 L567.9 97.6 L572.6 96.6 L577.3 95.9 L581.9 95.4 L586.5 95 L591 94.8 L595.5 94.6 L600 94.5 L604.5 94.3 L608.9 94.2 L613.3 93.9 L617.6 93.5 L621.9 93 L626.2 92.4 L630.5 91.5 L634.7 90.5 L638.9 89.2 L643 87.9 L647.1 86.3M454.8 162.3 L460.4 160.1 L465.9 157.6 L471.4 155 L476.9 152.1 L482.3 149 L487.7 145.7 L493 142.3 L498.3 138.8 L503.5 135.1 L508.7 131.5 L513.8 127.9 L518.9 124.3 L524 120.8 L529 117.5 L534 114.4 L539 111.6 L543.9 108.9 L548.7 106.6 L553.6 104.5 L558.4 102.7 L563.1 101.3 L567.8 100 L572.5 99.1 L577.2 98.4 L581.8 97.8 L586.3 97.5 L590.9 97.2 L595.4 97.1 L599.8 96.9 L604.3 96.8 L608.7 96.6 L613 96.4 L617.4 96 L621.7 95.5 L625.9 94.9 L630.2 94 L634.4 93 L638.5 91.8 L642.7 90.4 L646.8 88.8M455 164.7 L460.6 162.4 L466.1 160 L471.6 157.3 L477.1 154.5 L482.5 151.4 L487.8 148.1 L493.1 144.7 L498.4 141.1 L503.6 137.5 L508.8 133.9 L513.9 130.3 L519 126.7 L524.1 123.2 L529.1 119.9 L534.1 116.8 L539 114 L543.9 111.4 L548.7 109 L553.6 107 L558.3 105.2 L563.1 103.7 L567.8 102.5 L572.4 101.5 L577.1 100.8 L581.6 100.3 L586.2 99.9 L590.7 99.7 L595.2 99.5 L599.7 99.4 L604.1 99.3 L608.5 99.1 L612.8 98.9 L617.1 98.5 L621.4 98 L625.7 97.4 L629.9 96.5 L634.1 95.5 L638.2 94.3 L642.4 92.9 L646.5 91.4M455.3 167 L460.9 164.8 L466.4 162.4 L471.9 159.7 L477.3 156.8 L482.7 153.8 L488 150.5 L493.3 147.1 L498.6 143.5 L503.8 139.9 L508.9 136.3 L514 132.6 L519.1 129.1 L524.2 125.6 L529.2 122.4 L534.1 119.3 L539 116.4 L543.9 113.8 L548.7 111.4 L553.5 109.4 L558.3 107.6 L563 106.1 L567.7 104.9 L572.3 104 L577 103.3 L581.5 102.7 L586.1 102.4 L590.6 102.2 L595 102 L599.5 101.9 L603.9 101.8 L608.2 101.6 L612.6 101.4 L616.9 101 L621.2 100.5 L625.4 99.9 L629.6 99 L633.8 98 L637.9 96.8 L642 95.4 L646.1 93.9" fill="none" stroke="#000" stroke-opacity="0.55" stroke-width="0.4"/>
<path d="M466.5 153.8 L467.2 153.5 L468 153.1 L468.7 152.8 L469.4 152.4 L470.2 152 L470.9 151.7 L471.6 151.3 L472.4 150.9 L473.1 150.6 L473.8 150.2M466.8 157.2 L467.6 156.9 L468.3 156.5 L469 156.2 L469.8 155.8 L470.5 155.4 L471.2 155.1 L472 154.7 L472.7 154.3 L473.4 154 L474.1 153.6M467.2 160.6 L467.9 160.3 L468.6 159.9 L469.4 159.6 L470.1 159.2 L470.8 158.8 L471.6 158.5 L472.3 158.1 L473 157.7 L473.7 157.4 L474.5 157" fill="none" stroke="#005dff" stroke-width="1.0" stroke-dasharray="0.9 1.5"/>
<path d="M624.2 91.6 L624.9 91.5 L625.6 91.4 L626.3 91.3 L627 91.1 L627.7 91 L628.5 90.8 L629.2 90.7 L629.9 90.6 L630.6 90.4 L631.3 90.2M623.8 95.2 L624.5 95.1 L625.2 95 L625.9 94.9 L626.6 94.7 L627.3 94.6 L628.1 94.5 L628.8 94.3 L629.5 94.2 L630.2 94 L630.9 93.8M623.4 98.8 L624.1 98.7 L624.8 98.6 L625.5 98.5 L626.2 98.3 L626.9 98.2 L627.7 98.1 L628.4 97.9 L629.1 97.8 L629.8 97.6 L630.5 97.5" fill="none" stroke="#005dff" stroke-width="1.0" stroke-dasharray="0.9 1.5"/>
<path d="M473.8 150.2 L474.6 149.8 L475.3 149.4 L476 149 L476.7 148.6 L477.5 148.2 L478.2 147.8 L478.9 147.4 L479.7 147 L480.4 146.6 L481.1 146.1M474.1 153.6 L474.9 153.2 L475.6 152.8 L476.3 152.4 L477.1 152 L477.8 151.6 L478.5 151.2 L479.2 150.8 L479.9 150.4 L480.7 150 L481.4 149.5M474.5 157 L475.2 156.6 L475.9 156.2 L476.6 155.8 L477.4 155.4 L478.1 155 L478.8 154.6 L479.5 154.2 L480.2 153.8 L481 153.4 L481.7 153" fill="none" stroke="#00b9ff" stroke-width="1.0" stroke-dasharray="0.9 1.5"/>
<path d="M618.4 92.4 L619 92.3 L619.6 92.2 L620.2 92.2 L620.7 92.1 L621.3 92 L621.9 91.9 L622.5 91.9 L623 91.8 L623.6 91.7 L624.2 91.6M618.1 96 L618.7 95.9 L619.2 95.8 L619.8 95.8 L620.4 95.7 L620.9 95.6 L621.5 95.5 L622.1 95.5 L622.7 95.4 L623.2 95.3 L623.8 95.2M617.7 99.6 L618.3 99.5 L618.9 99.4 L619.4 99.4 L620 99.3 L620.6 99.2 L621.2 99.1 L621.7 99.1 L622.3 99 L622.9 98.9 L623.4 98.8" fill="none" stroke="#00b9ff" stroke-width="1.0" stroke-dasharray="0.9 1.5"/>
<path d="M481.1 146.1 L481.6 145.8 L482.2 145.5 L482.7 145.2 L483.3 144.9 L483.8 144.5 L484.3 144.2 L484.9 143.9 L485.4 143.5 L486 143.2 L486.5 142.9M481.4 149.5 L481.9 149.2 L482.5 148.9 L483 148.6 L483.5 148.3 L484.1 147.9 L484.6 147.6 L485.2 147.3 L485.7 147 L486.2 146.6 L486.8 146.3M481.7 153 L482.2 152.6 L482.7 152.3 L483.3 152 L483.8 151.7 L484.4 151.4 L484.9 151 L485.4 150.7 L486 150.4 L486.5 150.1 L487 149.7" fill="none" stroke="#00ffe8" stroke-width="1.0" stroke-dasharray="0.9 1.5"/>
<path d="M612.6 92.9 L613.2 92.8 L613.8 92.8 L614.4 92.7 L615 92.7 L615.5 92.6 L616.1 92.6 L616.7 92.5 L617.3 92.5 L617.9 92.4 L618.4 92.4M612.3 96.4 L612.9 96.4 L613.5 96.4 L614 96.3 L614.6 96.3 L615.2 96.2 L615.8 96.2 L616.4 96.1 L616.9 96.1 L617.5 96 L618.1 96M612 100 L612.6 100 L613.1 99.9 L613.7 99.9 L614.3 99.9 L614.9 99.8 L615.4 99.8 L616 99.7 L616.6 99.7 L617.2 99.6 L617.7 99.6" fill="none" stroke="#00ffe8" stroke-width="1.0" stroke-dasharray="0.9 1.5"/>
<path d="M486.5 142.9 L487.2 142.4 L487.9 142 L488.6 141.5 L489.4 141.1 L490.1 140.6 L490.8 140.2 L491.5 139.7 L492.2 139.2 L492.9 138.8 L493.6 138.3M486.8 146.3 L487.5 145.9 L488.2 145.4 L488.9 145 L489.6 144.5 L490.3 144 L491 143.6 L491.7 143.1 L492.4 142.7 L493.2 142.2 L493.9 141.7M487 149.7 L487.7 149.3 L488.4 148.8 L489.2 148.4 L489.9 147.9 L490.6 147.5 L491.3 147 L492 146.6 L492.7 146.1 L493.4 145.6 L494.1 145.2" fill="none" stroke="#00ff8b" stroke-width="1.0" stroke-dasharray="0.9 1.5"/>
<path d="M606.8 93.2 L607.3 93.1 L607.9 93.1 L608.5 93.1 L609.1 93.1 L609.7 93 L610.3 93 L610.9 93 L611.5 92.9 L612 92.9 L612.6 92.9M606.5 96.7 L607.1 96.7 L607.6 96.7 L608.2 96.7 L608.8 96.6 L609.4 96.6 L610 96.6 L610.6 96.5 L611.1 96.5 L611.7 96.5 L612.3 96.4M606.2 100.3 L606.8 100.3 L607.3 100.3 L607.9 100.2 L608.5 100.2 L609.1 100.2 L609.7 100.2 L610.2 100.1 L610.8 100.1 L611.4 100.1 L612 100" fill="none" stroke="#00ff8b" stroke-width="1.0" stroke-dasharray="0.9 1.5"/>
<path d="M493.6 138.3 L494.2 137.9 L494.7 137.6 L495.2 137.2 L495.8 136.9 L496.3 136.5 L496.8 136.2 L497.3 135.8 L497.9 135.4 L498.4 135.1 L498.9 134.7M493.9 141.7 L494.4 141.4 L494.9 141 L495.4 140.7 L496 140.3 L496.5 140 L497 139.6 L497.6 139.2 L498.1 138.9 L498.6 138.5 L499.1 138.2M494.1 145.2 L494.6 144.8 L495.2 144.5 L495.7 144.1 L496.2 143.7 L496.7 143.4 L497.3 143 L497.8 142.7 L498.3 142.3 L498.8 142 L499.3 141.6" fill="none" stroke="#00ff2e" stroke-width="1.0" stroke-dasharray="0.9 1.5"/>
<path d="M602.3 93.3 L602.8 93.3 L603.2 93.3 L603.7 93.3 L604.1 93.3 L604.5 93.2 L605 93.2 L605.4 93.2 L605.9 93.2 L606.3 93.2 L606.8 93.2M602.1 96.9 L602.5 96.9 L602.9 96.9 L603.4 96.8 L603.8 96.8 L604.3 96.8 L604.7 96.8 L605.1 96.8 L605.6 96.8 L606 96.8 L606.5 96.7M601.8 100.4 L602.2 100.4 L602.7 100.4 L603.1 100.4 L603.5 100.4 L604 100.4 L604.4 100.4 L604.9 100.4 L605.3 100.3 L605.7 100.3 L606.2 100.3" fill="none" stroke="#00ff2e" stroke-width="1.0" stroke-dasharray="0.9 1.5"/>
<path d="M498.9 134.7 L499.5 134.4 L500 134 L500.5 133.6 L501 133.3 L501.6 132.9 L502.1 132.6 L502.6 132.2 L503.1 131.8 L503.7 131.5 L504.2 131.1M499.1 138.2 L499.7 137.8 L500.2 137.4 L500.7 137.1 L501.2 136.7 L501.8 136.4 L502.3 136 L502.8 135.6 L503.3 135.3 L503.8 134.9 L504.4 134.5M499.3 141.6 L499.9 141.2 L500.4 140.9 L500.9 140.5 L501.4 140.2 L502 139.8 L502.5 139.4 L503 139.1 L503.5 138.7 L504 138.3 L504.6 138" fill="none" stroke="#2eff00" stroke-width="1.0" stroke-dasharray="0.9 1.5"/>
<path d="M597.9 93.4 L598.3 93.4 L598.7 93.4 L599.2 93.4 L599.6 93.4 L600.1 93.4 L600.5 93.4 L601 93.3 L601.4 93.3 L601.9 93.3 L602.3 93.3M597.6 97 L598.1 97 L598.5 97 L598.9 97 L599.4 96.9 L599.8 96.9 L600.3 96.9 L600.7 96.9 L601.2 96.9 L601.6 96.9 L602.1 96.9M597.4 100.6 L597.8 100.5 L598.2 100.5 L598.7 100.5 L599.1 100.5 L599.6 100.5 L600 100.5 L600.5 100.5 L600.9 100.5 L601.3 100.5 L601.8 100.4" fill="none" stroke="#2eff00" stroke-width="1.0" stroke-dasharray="0.9 1.5"/>
<path d="M504.2 131.1 L504.9 130.6 L505.6 130.1 L506.3 129.6 L507 129.1 L507.7 128.6 L508.3 128.2 L509 127.7 L509.7 127.2 L510.4 126.7 L511.1 126.2M504.4 134.5 L505.1 134 L505.8 133.6 L506.4 133.1 L507.1 132.6 L507.8 132.1 L508.5 131.6 L509.2 131.1 L509.9 130.6 L510.6 130.1 L511.3 129.7M504.6 138 L505.2 137.5 L505.9 137 L506.6 136.5 L507.3 136 L508 135.5 L508.7 135.1 L509.4 134.6 L510.1 134.1 L510.7 133.6 L511.4 133.1" fill="none" stroke="#8bff00" stroke-width="1.0" stroke-dasharray="0.9 1.5"/>
<path d="M591.8 93.6 L592.4 93.6 L593 93.6 L593.6 93.6 L594.2 93.5 L594.9 93.5 L595.5 93.5 L596.1 93.5 L596.7 93.5 L597.3 93.4 L597.9 93.4M591.6 97.2 L592.2 97.2 L592.8 97.1 L593.4 97.1 L594 97.1 L594.6 97.1 L595.2 97.1 L595.8 97 L596.4 97 L597 97 L597.6 97M591.4 100.7 L592 100.7 L592.6 100.7 L593.2 100.7 L593.8 100.7 L594.4 100.6 L595 100.6 L595.6 100.6 L596.2 100.6 L596.8 100.6 L597.4 100.6" fill="none" stroke="#8bff00" stroke-width="1.0" stroke-dasharray="0.9 1.5"/>
<path d="M511.1 126.2 L511.8 125.7 L512.5 125.2 L513.2 124.8 L513.9 124.3 L514.6 123.8 L515.2 123.3 L515.9 122.8 L516.6 122.4 L517.3 121.9 L518 121.4M511.3 129.7 L512 129.2 L512.6 128.7 L513.3 128.2 L514 127.7 L514.7 127.3 L515.4 126.8 L516.1 126.3 L516.7 125.8 L517.4 125.3 L518.1 124.9M511.4 133.1 L512.1 132.6 L512.8 132.1 L513.5 131.7 L514.2 131.2 L514.8 130.7 L515.5 130.2 L516.2 129.8 L516.9 129.3 L517.6 128.8 L518.2 128.3" fill="none" stroke="#e8ff00" stroke-width="1.0" stroke-dasharray="0.9 1.5"/>
<path d="M587.3 93.9 L587.7 93.8 L588.2 93.8 L588.7 93.8 L589.1 93.8 L589.6 93.7 L590 93.7 L590.5 93.7 L590.9 93.7 L591.4 93.7 L591.8 93.6M587.1 97.4 L587.5 97.4 L588 97.4 L588.5 97.3 L588.9 97.3 L589.4 97.3 L589.8 97.3 L590.3 97.2 L590.7 97.2 L591.2 97.2 L591.6 97.2M586.9 101 L587.4 100.9 L587.8 100.9 L588.3 100.9 L588.7 100.9 L589.2 100.8 L589.6 100.8 L590.1 100.8 L590.5 100.8 L591 100.8 L591.4 100.7" fill="none" stroke="#e8ff00" stroke-width="1.0" stroke-dasharray="0.9 1.5"/>
<path d="M518 121.4 L518.7 120.9 L519.3 120.5 L520 120 L520.7 119.5 L521.4 119.1 L522.1 118.6 L522.7 118.2 L523.4 117.7 L524.1 117.3 L524.8 116.8M518.1 124.9 L518.8 124.4 L519.5 123.9 L520.1 123.5 L520.8 123 L521.5 122.5 L522.2 122.1 L522.8 121.6 L523.5 121.2 L524.2 120.7 L524.9 120.3M518.2 128.3 L518.9 127.9 L519.6 127.4 L520.3 126.9 L520.9 126.5 L521.6 126 L522.3 125.5 L522.9 125.1 L523.6 124.6 L524.3 124.2 L525 123.7" fill="none" stroke="#ffb900" stroke-width="1.0" stroke-dasharray="0.9 1.5"/>
<path d="M581.2 94.4 L581.8 94.3 L582.4 94.2 L583 94.2 L583.6 94.1 L584.2 94.1 L584.8 94 L585.5 94 L586.1 93.9 L586.7 93.9 L587.3 93.9M581 97.9 L581.6 97.8 L582.2 97.8 L582.8 97.7 L583.4 97.7 L584.1 97.6 L584.7 97.6 L585.3 97.5 L585.9 97.5 L586.5 97.5 L587.1 97.4M580.8 101.4 L581.4 101.4 L582.1 101.3 L582.7 101.3 L583.3 101.2 L583.9 101.2 L584.5 101.1 L585.1 101.1 L585.7 101 L586.3 101 L586.9 101" fill="none" stroke="#ffb900" stroke-width="1.0" stroke-dasharray="0.9 1.5"/>
<path d="M524.8 116.8 L525.8 116.1 L526.8 115.5 L527.8 114.8 L528.8 114.2 L529.8 113.5 L530.8 112.9 L531.8 112.3 L532.8 111.7 L533.8 111 L534.8 110.5M524.9 120.3 L525.9 119.6 L526.9 118.9 L527.9 118.3 L528.9 117.6 L529.9 117 L530.9 116.4 L531.9 115.7 L532.9 115.1 L533.9 114.5 L534.9 113.9M525 123.7 L526 123.1 L527 122.4 L528 121.8 L529 121.1 L530 120.5 L530.9 119.8 L531.9 119.2 L532.9 118.6 L533.9 118 L534.9 117.4" fill="none" stroke="#ff5d00" stroke-width="1.0" stroke-dasharray="0.9 1.5"/>
<path d="M573.4 95.4 L574.2 95.3 L575 95.2 L575.7 95 L576.5 94.9 L577.3 94.8 L578.1 94.7 L578.8 94.6 L579.6 94.5 L580.4 94.4 L581.2 94.4M573.3 99 L574.1 98.8 L574.8 98.7 L575.6 98.6 L576.4 98.5 L577.2 98.4 L577.9 98.3 L578.7 98.2 L579.5 98.1 L580.2 98 L581 97.9M573.2 102.5 L573.9 102.4 L574.7 102.2 L575.5 102.1 L576.2 102 L577 101.9 L577.8 101.8 L578.5 101.7 L579.3 101.6 L580.1 101.5 L580.8 101.4" fill="none" stroke="#ff5d00" stroke-width="1.0" stroke-dasharray="0.9 1.5"/>
<path d="M534.8 110.5 L538.8 108.2 L542.7 106 L546.6 104.1 L550.5 102.3 L554.4 100.7 L558.3 99.3 L562.1 98.1 L565.9 97 L569.7 96.1 L573.4 95.4M534.9 113.9 L538.8 111.6 L542.7 109.5 L546.6 107.6 L550.5 105.8 L554.4 104.2 L558.2 102.8 L562 101.6 L565.8 100.5 L569.6 99.7 L573.3 99M534.9 117.4 L538.8 115.1 L542.8 113 L546.6 111.1 L550.5 109.3 L554.3 107.7 L558.2 106.3 L561.9 105.1 L565.7 104.1 L569.4 103.2 L573.2 102.5" fill="none" stroke="#ff0000" stroke-width="1.0" stroke-dasharray="0.9 1.5"/>
<path d="M574.6 93.9 L578.4 93.3 L582.3 92.9 L586.1 92.6 L589.9 92.3 L593.7 92.2 L597.4 92.1 L601.1 92 L604.8 91.8 L608.5 91.7 L612.2 91.5 L615.8 91.2 L619.4 90.9 L623 90.4 L626.6 89.8 L630.1 89.1 L633.6 88.3 L637.1 87.3 L640.6 86.3 L644.1 85.1 L647.5 83.8 L646.1 93.9 L642.7 95.2 L639.3 96.3 L635.9 97.4 L632.4 98.3 L629 99.2 L625.5 99.8 L622 100.4 L618.4 100.9 L614.9 101.2 L611.3 101.5 L607.7 101.6 L604.1 101.8 L600.4 101.9 L596.7 102 L593 102.1 L589.3 102.2 L585.6 102.4 L581.8 102.7 L578 103.1 L574.2 103.7Z" fill="#00081a" fill-opacity="0.45"/>
<path d="M402.7 119.3 L454.2 157.6 L455.3 167 L404 128Z" fill="#000098"/>
<path d="M402.7 119.3L404 128M408.4 123.5L409.6 132.3M414.2 127.9L415.5 136.7M420.3 132.4L421.5 141.3M426.6 137L427.8 146.1M433.1 141.9L434.3 151M439.9 146.9L441 156.2M446.9 152.2L448 161.5M454.2 157.6L455.3 167M403 121.5L454.5 159.9M403.3 123.6L454.8 162.3M403.7 125.8L455 164.7M404 128L455.3 167" fill="none" stroke="#000" stroke-opacity="0.5" stroke-width="0.35"/>
<rect x="382.3" y="34.8" width="33.3" height="37" fill="none" stroke="#c4ccd8" stroke-width="0.55"/>
<text x="385.5" y="40" font-size="2.90" font-weight="bold" fill="#fff" font-family="Liberation Sans, sans-serif">U, Magnitude</text>
<rect x="385.5" y="42.20" width="3.8" height="2.08" fill="#ff0000"/>
<rect x="385.5" y="44.46" width="3.8" height="2.08" fill="#ff5d00"/>
<rect x="385.5" y="46.72" width="3.8" height="2.08" fill="#ffb900"/>
<rect x="385.5" y="48.97" width="3.8" height="2.08" fill="#e8ff00"/>
<rect x="385.5" y="51.23" width="3.8" height="2.08" fill="#8bff00"/>
<rect x="385.5" y="53.49" width="3.8" height="2.08" fill="#2eff00"/>
<rect x="385.5" y="55.75" width="3.8" height="2.08" fill="#00ff2e"/>
<rect x="385.5" y="58.01" width="3.8" height="2.08" fill="#00ff8b"/>
<rect x="385.5" y="60.27" width="3.8" height="2.08" fill="#00ffe8"/>
<rect x="385.5" y="62.52" width="3.8" height="2.08" fill="#00b9ff"/>
<rect x="385.5" y="64.78" width="3.8" height="2.08" fill="#005dff"/>
<rect x="385.5" y="67.04" width="3.8" height="2.08" fill="#0000ff"/>
<text x="394.5" y="43.00" font-size="2.80" font-weight="bold" fill="#fff" stroke="#fff" stroke-width="0.12" font-family="Liberation Sans, sans-serif">+1.000e+00</text>
<text x="394.5" y="45.26" font-size="2.80" font-weight="bold" fill="#fff" stroke="#fff" stroke-width="0.12" font-family="Liberation Sans, sans-serif">+9.167e-01</text>
<text x="394.5" y="47.52" font-size="2.80" font-weight="bold" fill="#fff" stroke="#fff" stroke-width="0.12" font-family="Liberation Sans, sans-serif">+8.333e-01</text>
<text x="394.5" y="49.77" font-size="2.80" font-weight="bold" fill="#fff" stroke="#fff" stroke-width="0.12" font-family="Liberation Sans, sans-serif">+7.500e-01</text>
<text x="394.5" y="52.03" font-size="2.80" font-weight="bold" fill="#fff" stroke="#fff" stroke-width="0.12" font-family="Liberation Sans, sans-serif">+6.667e-01</text>
<text x="394.5" y="54.29" font-size="2.80" font-weight="bold" fill="#fff" stroke="#fff" stroke-width="0.12" font-family="Liberation Sans, sans-serif">+5.833e-01</text>
<text x="394.5" y="56.55" font-size="2.80" font-weight="bold" fill="#fff" stroke="#fff" stroke-width="0.12" font-family="Liberation Sans, sans-serif">+5.000e-01</text>
<text x="394.5" y="58.81" font-size="2.80" font-weight="bold" fill="#fff" stroke="#fff" stroke-width="0.12" font-family="Liberation Sans, sans-serif">+4.167e-01</text>
<text x="394.5" y="61.07" font-size="2.80" font-weight="bold" fill="#fff" stroke="#fff" stroke-width="0.12" font-family="Liberation Sans, sans-serif">+3.333e-01</text>
<text x="394.5" y="63.32" font-size="2.80" font-weight="bold" fill="#fff" stroke="#fff" stroke-width="0.12" font-family="Liberation Sans, sans-serif">+2.500e-01</text>
<text x="394.5" y="65.58" font-size="2.80" font-weight="bold" fill="#fff" stroke="#fff" stroke-width="0.12" font-family="Liberation Sans, sans-serif">+1.667e-01</text>
<text x="394.5" y="67.84" font-size="2.80" font-weight="bold" fill="#fff" stroke="#fff" stroke-width="0.12" font-family="Liberation Sans, sans-serif">+8.333e-02</text>
<text x="394.5" y="70.10" font-size="2.80" font-weight="bold" fill="#fff" stroke="#fff" stroke-width="0.12" font-family="Liberation Sans, sans-serif">+0.000e+00</text>
<path d="M390.9 42.20h2.0M390.9 44.46h2.0M390.9 46.72h2.0M390.9 48.97h2.0M390.9 51.23h2.0M390.9 53.49h2.0M390.9 55.75h2.0M390.9 58.01h2.0M390.9 60.27h2.0M390.9 62.52h2.0M390.9 64.78h2.0M390.9 67.04h2.0M390.9 69.30h2.0" stroke="#fff" stroke-width="0.3"/>
<path d="M416.5 201.7L421.7 199.6" stroke="#18b830" stroke-width="1.4"/><path d="M425 198.3L422.3 201.2L421 198.1Z" fill="#18b830"/>
<path d="M416.5 201.7L418.5 202.6" stroke="#e02818" stroke-width="1.4"/><path d="M421.8 204.1L417.8 204.2L419.2 201.1Z" fill="#e02818"/>
<path d="M416.5 201.7L412.8 194.2" stroke="#1428f0" stroke-width="1.4"/><path d="M411.2 191L414.3 193.5L411.3 195Z" fill="#1428f0"/>
<text x="410.7" y="188.5" font-size="4.2" font-weight="bold" text-anchor="middle" fill="#fff" font-family="Liberation Sans, sans-serif">Z</text>
<text x="427.4" y="197.3" font-size="4.2" font-weight="bold" text-anchor="middle" fill="#fff" font-family="Liberation Sans, sans-serif">Y</text>
<text x="423.2" y="207.5" font-size="4.2" font-weight="bold" text-anchor="middle" fill="#fff" font-family="Liberation Sans, sans-serif">X</text>
<text x="440" y="186.1" font-size="3.3" fill="#fff" stroke="#fff" stroke-width="0.18" xml:space="preserve" font-family="Liberation Sans, sans-serif">ODB: Job-1.odb    Abaqus/Standard 6.12-1    Mon Mar 25 23:21:00 GMT+08:00 2019</text>
<text x="440" y="196.8" font-size="3.3" fill="#fff" stroke="#fff" stroke-width="0.18" xml:space="preserve" font-family="Liberation Sans, Noto Sans CJK SC, sans-serif">分析步: Step-1</text>
<text x="440" y="199.7" font-size="3.3" fill="#fff" stroke="#fff" stroke-width="0.18" xml:space="preserve" font-family="Liberation Sans, Noto Sans CJK SC, sans-serif">Mode         1: Value =   1.8863E+06 Freq =    218.59     (cycles/time)</text>
<text x="440" y="202.5" font-size="3.3" fill="#fff" stroke="#fff" stroke-width="0.18" xml:space="preserve" font-family="Liberation Sans, Noto Sans CJK SC, sans-serif">主变量: U, Magnitude</text>
<text x="440" y="205.4" font-size="3.3" fill="#fff" stroke="#fff" stroke-width="0.18" xml:space="preserve" font-family="Liberation Sans, Noto Sans CJK SC, sans-serif">变形变量: U  变形缩放系数: +2.000e-01</text></g>
<g id="pd"><defs><linearGradient id="bgD" x1="0" y1="0" x2="0" y2="1"><stop offset="0" stop-color="#1c2e48"/><stop offset="0.45" stop-color="#2b3d5b"/><stop offset="0.7" stop-color="#4c5b77"/><stop offset="0.85" stop-color="#6e7b94"/><stop offset="1" stop-color="#9eacc2"/></linearGradient></defs><rect x="375.9" y="287.6" width="297.8" height="179.1" fill="url(#bgD)"/>
<path d="M396.4 359 L596.7 335.6 L657.2 362.3 L431.7 395.5Z" fill="#0000b4"/>
<path d="M396.4 359 L431.7 395.5 L432.5 408 L397.7 370.3Z" fill="#000086"/>
<path d="M431.7 395.5 L657.2 362.3 L656.6 374.9 L432.5 408Z" fill="#000084"/>
<path d="M396.4 359L431.7 395.5M399 358.7L434.7 395.1M401.6 358.4L437.7 394.6M404.2 358.1L440.7 394.2M406.7 357.8L443.6 393.7M409.3 357.5L446.6 393.3M411.9 357.2L449.5 392.9M414.4 356.9L452.5 392.4M416.9 356.6L455.4 392M419.5 356.3L458.3 391.6M422 356L461.2 391.2M424.5 355.7L464.1 390.7M427 355.4L466.9 390.3M429.5 355.1L469.8 389.9M431.9 354.8L472.6 389.5M434.4 354.6L475.4 389.1M436.9 354.3L478.2 388.6M439.3 354L481 388.2M441.8 353.7L483.8 387.8M444.2 353.4L486.6 387.4M446.6 353.1L489.4 387M449 352.9L492.1 386.6M451.4 352.6L494.9 386.2M453.8 352.3L497.6 385.8M456.2 352L500.3 385.4M458.6 351.7L503 385M461 351.5L505.7 384.6M463.3 351.2L508.4 384.2M465.7 350.9L511.1 383.8M468 350.6L513.7 383.4M470.4 350.4L516.4 383M472.7 350.1L519 382.6M475 349.8L521.7 382.3M477.3 349.5L524.3 381.9M479.6 349.3L526.9 381.5M481.9 349L529.5 381.1M484.2 348.7L532.1 380.7M486.5 348.5L534.6 380.3M488.8 348.2L537.2 380M491 347.9L539.8 379.6M493.3 347.7L542.3 379.2M495.5 347.4L544.8 378.8M497.8 347.2L547.3 378.5M500 346.9L549.9 378.1M502.2 346.6L552.4 377.7M504.4 346.4L554.8 377.4M506.6 346.1L557.3 377M508.8 345.9L559.8 376.6M511 345.6L562.2 376.3M513.2 345.4L564.7 375.9M515.4 345.1L567.1 375.6M517.6 344.8L569.6 375.2M519.7 344.6L572 374.8M521.9 344.3L574.4 374.5M524 344.1L576.8 374.1M526.2 343.8L579.2 373.8M528.3 343.6L581.6 373.4M530.4 343.3L583.9 373.1M532.6 343.1L586.3 372.7M534.7 342.8L588.7 372.4M536.8 342.6L591 372M538.9 342.4L593.3 371.7M541 342.1L595.7 371.4M543 341.9L598 371M545.1 341.6L600.3 370.7M547.2 341.4L602.6 370.3M549.2 341.1L604.9 370M551.3 340.9L607.1 369.7M553.3 340.7L609.4 369.3M555.4 340.4L611.7 369M557.4 340.2L613.9 368.7M559.4 340L616.2 368.3M561.5 339.7L618.4 368M563.5 339.5L620.6 367.7M565.5 339.2L622.8 367.4M567.5 339L625.1 367M569.5 338.8L627.3 366.7M571.5 338.5L629.4 366.4M573.4 338.3L631.6 366.1M575.4 338.1L633.8 365.7M577.4 337.9L636 365.4M579.3 337.6L638.1 365.1M581.3 337.4L640.3 364.8M583.2 337.2L642.4 364.5M585.2 336.9L644.6 364.2M587.1 336.7L646.7 363.8M589 336.5L648.8 363.5M591 336.3L650.9 363.2M592.9 336L653 362.9M594.8 335.8L655.1 362.6M596.7 335.6L657.2 362.3M396.4 359L596.7 335.6M397.8 360.4L599.1 336.7M399.1 361.8L601.5 337.7M400.5 363.3L604 338.8M402 364.8L606.5 339.9M403.4 366.2L609 341M404.9 367.8L611.5 342.1M406.4 369.3L614.1 343.3M407.9 370.9L616.7 344.4M409.4 372.4L619.4 345.6M411 374.1L622 346.8M412.5 375.7L624.8 348M414.1 377.3L627.5 349.2M415.8 379L630.3 350.4M417.4 380.7L633.1 351.7M419.1 382.5L636 352.9M420.8 384.3L638.9 354.2M422.6 386.1L641.9 355.5M424.3 387.9L644.8 356.8M426.1 389.7L647.9 358.2M428 391.6L650.9 359.5M429.8 393.5L654 360.9M431.7 395.5L657.2 362.3" fill="none" stroke="#000" stroke-opacity="0.55" stroke-width="0.4"/>
<path d="M431.7 395.5L432.5 408M434.7 395.1L435.5 407.6M437.7 394.6L438.5 407.1M440.7 394.2L441.4 406.7M443.6 393.7L444.4 406.2M446.6 393.3L447.3 405.8M449.5 392.9L450.3 405.4M452.5 392.4L453.2 404.9M455.4 392L456.1 404.5M458.3 391.6L458.9 404.1M461.2 391.2L461.8 403.7M464.1 390.7L464.7 403.2M466.9 390.3L467.5 402.8M469.8 389.9L470.4 402.4M472.6 389.5L473.2 402M475.4 389.1L476 401.6M478.2 388.6L478.8 401.2M481 388.2L481.6 400.8M483.8 387.8L484.4 400.3M486.6 387.4L487.1 399.9M489.4 387L489.9 399.5M492.1 386.6L492.6 399.1M494.9 386.2L495.3 398.7M497.6 385.8L498.1 398.3M500.3 385.4L500.8 397.9M503 385L503.4 397.5M505.7 384.6L506.1 397.1M508.4 384.2L508.8 396.7M511.1 383.8L511.4 396.3M513.7 383.4L514.1 396M516.4 383L516.7 395.6M519 382.6L519.4 395.2M521.7 382.3L522 394.8M524.3 381.9L524.6 394.4M526.9 381.5L527.2 394M529.5 381.1L529.7 393.6M532.1 380.7L532.3 393.3M534.6 380.3L534.9 392.9M537.2 380L537.4 392.5M539.8 379.6L539.9 392.1M542.3 379.2L542.5 391.8M544.8 378.8L545 391.4M547.3 378.5L547.5 391M549.9 378.1L550 390.7M552.4 377.7L552.5 390.3M554.8 377.4L554.9 389.9M557.3 377L557.4 389.6M559.8 376.6L559.9 389.2M562.2 376.3L562.3 388.8M564.7 375.9L564.7 388.5M567.1 375.6L567.2 388.1M569.6 375.2L569.6 387.8M572 374.8L572 387.4M574.4 374.5L574.4 387.1M576.8 374.1L576.8 386.7M579.2 373.8L579.1 386.3M581.6 373.4L581.5 386M583.9 373.1L583.9 385.6M586.3 372.7L586.2 385.3M588.7 372.4L588.5 385M591 372L590.9 384.6M593.3 371.7L593.2 384.3M595.7 371.4L595.5 383.9M598 371L597.8 383.6M600.3 370.7L600.1 383.3M602.6 370.3L602.4 382.9M604.9 370L604.6 382.6M607.1 369.7L606.9 382.2M609.4 369.3L609.2 381.9M611.7 369L611.4 381.6M613.9 368.7L613.6 381.2M616.2 368.3L615.9 380.9M618.4 368L618.1 380.6M620.6 367.7L620.3 380.3M622.8 367.4L622.5 379.9M625.1 367L624.7 379.6M627.3 366.7L626.9 379.3M629.4 366.4L629.1 379M631.6 366.1L631.2 378.7M633.8 365.7L633.4 378.3M636 365.4L635.5 378M638.1 365.1L637.7 377.7M640.3 364.8L639.8 377.4M642.4 364.5L641.9 377.1M644.6 364.2L644.1 376.8M646.7 363.8L646.2 376.4M648.8 363.5L648.3 376.1M650.9 363.2L650.4 375.8M653 362.9L652.5 375.5M655.1 362.6L654.5 375.2M657.2 362.3L656.6 374.9M431.9 398.6L657.1 365.4M432.1 401.8L656.9 368.6M432.3 404.9L656.8 371.8M432.5 408L656.6 374.9M396.4 359L397.7 370.3M397.8 360.4L399 371.8M399.1 361.8L400.4 373.2M400.5 363.3L401.8 374.7M402 364.8L403.2 376.3M403.4 366.2L404.6 377.8M404.9 367.8L406 379.4M406.4 369.3L407.5 381M407.9 370.9L409 382.6M409.4 372.4L410.5 384.2M411 374.1L412 385.9M412.5 375.7L413.6 387.6M414.1 377.3L415.2 389.3M415.8 379L416.8 391M417.4 380.7L418.4 392.8M419.1 382.5L420.1 394.6M420.8 384.3L421.8 396.4M422.6 386.1L423.5 398.3M424.3 387.9L425.2 400.2M426.1 389.7L427 402.1M428 391.6L428.8 404M429.8 393.5L430.6 406M431.7 395.5L432.5 408M396.7 361.8L431.9 398.6M397 364.6L432.1 401.8M397.4 367.5L432.3 404.9M397.7 370.3L432.5 408" fill="none" stroke="#000" stroke-opacity="0.55" stroke-width="0.4"/>
<path d="M544.3 368.9 L545.1 368.6 L546.1 368.1 L547.3 367.6 L548.7 367 L550.2 366.4 L551.9 365.8 L553.7 365.2 L555.7 364.7 L557.9 364.2 L560.2 363.7 L562.8 363.2 L565.5 362.7 L568.3 362.2 L571.1 361.7 L573.8 361.3 L576.5 360.9 L579.1 360.5 L581.7 360.2 L584.3 359.9 L586.9 359.6 L589.4 359.4 L592 359.1 L594.6 359 L597.2 358.8 L599.8 358.7 L602.4 358.6 L605 358.5 L607.6 358.5 L610.3 358.5 L612.9 358.6 L615.4 358.7 L618 358.8 L620.6 359 L623.2 359.3 L625.9 359.6 L628.5 359.9 L631.1 360.3 L633.5 360.7 L635.9 361.1 L638 361.5 L640 361.9 L641.9 362.5 L643.8 363 L645.5 363.6 L647.1 364.1 L648.4 364.6 L649.6 365 L650.5 365.3" fill="none" stroke="#1858ff" stroke-width="2" stroke-opacity="0.6"/>
<path d="M544.3 368.9 L545.1 368.6 L546.1 368.1 L547.3 367.6 L548.7 367 L550.2 366.4 L551.9 365.8 L553.7 365.2 L555.7 364.7 L557.9 364.2 L560.2 363.7 L562.8 363.2 L565.5 362.7 L568.3 362.2 L571.1 361.7 L573.8 361.3 L576.5 360.9 L579.1 360.5 L581.7 360.2 L584.3 359.9 L586.9 359.6 L589.4 359.4 L592 359.1 L594.6 359 L597.2 358.8 L599.8 358.7 L602.4 358.6 L605 358.5 L607.6 358.5 L610.3 358.5 L612.9 358.6 L615.4 358.7 L618 358.8 L620.6 359 L623.2 359.3 L625.9 359.6 L628.5 359.9 L631.1 360.3 L633.5 360.7 L635.9 361.1 L638 361.5 L640 361.9 L641.9 362.5 L643.8 363 L645.5 363.6 L647.1 364.1 L648.4 364.6 L649.6 365 L650.5 365.3" fill="none" stroke="#8fd0ff" stroke-width="0.7" stroke-opacity="0.8" stroke-dasharray="1.4 0.8"/>
<path d="M474.4 374.2 L475.9 373.3 L477.3 372.4 L478.8 371.5 L480.2 370.6 L481.6 369.8 L483.1 369.1 L484.6 368.4 L486 367.8 L487.5 367.3 L488.9 366.8 L490.4 366.4 L491.9 366 L493.4 365.7 L494.8 365.4 L496.3 365.2 L497.7 365 L499.1 364.8 L500.5 364.7 L501.8 364.6 L503.1 364.5 L504.3 364.5 L505.5 364.5 L506.8 364.6 L508 364.7 L509.2 364.8 L510.4 364.9 L511.7 365.1 L513 365.3 L514.4 365.5 L515.8 365.8 L517.2 366.1 L518.7 366.5 L520.1 366.8 L521.6 367.2 L523.1 367.6 L524.6 368 L526 368.5 L527.5 368.9 L529 369.4 L530.5 369.9 L532 370.4 L533.5 370.9 L535 371.5 L536.5 372 L538 372.6 L539.4 373.1 L540.7 373.6 L542 374 L543.3 374.4 L544.5 374.8 L545.7 375.2 L540 373.6 L537 373.4 L532.9 373.1 L527.9 372.8 L522.7 372.5 L517.6 372.3 L513 372.3 L508.9 372.5 L504.8 372.7 L500.9 373.1 L497.1 373.6 L493.4 374 L490 374.5 L486.6 375 L483.3 375.6 L480.1 376.1 L477.2 376.7 L474.8 377.2 L473 377.5Z" fill="#007a3a"/>
<path d="M474.4 374.2 L475.9 373.3 L477.3 372.4 L478.8 371.5 L480.2 370.6 L481.6 369.8 L483.1 369.1 L484.6 368.4 L486 367.8 L487.5 367.3 L488.9 366.8 L490.4 366.4 L491.9 366 L493.4 365.7 L494.8 365.4 L496.3 365.2 L497.7 365 L499.1 364.8 L500.5 364.7 L501.8 364.6 L503.1 364.5 L504.3 364.5 L505.5 364.5 L506.8 364.6 L508 364.7 L509.2 364.8 L510.4 364.9 L511.7 365.1 L513 365.3 L514.4 365.5 L515.8 365.8 L517.2 366.1 L518.7 366.5 L520.1 366.8 L521.6 367.2 L523.1 367.6 L524.6 368 L526 368.5 L527.5 368.9 L529 369.4 L530.5 369.9 L532 370.4 L533.5 370.9 L535 371.5 L536.5 372 L538 372.6 L539.4 373.1 L540.7 373.6 L542 374 L543.3 374.4 L544.5 374.8 L545.7 375.2 L540 373.2 L537.2 372.7 L533.3 372 L528.8 371.2 L523.9 370.4 L519.2 369.8 L515 369.3 L511.3 369 L507.9 368.9 L504.5 368.8 L501.3 368.9 L498.1 369.1 L495 369.5 L491.8 370.1 L488.5 371 L485.2 372 L482.3 373 L479.8 373.9 L478 374.5Z" fill="#14c040" fill-opacity="0.9"/>
<path d="M437.3 381.3 L438.1 380.9 L443.3 391.4 L442.4 391.7Z" fill="#0000ff" stroke="#0000ff" stroke-width="0.3"/>
<path d="M438.1 380.9 L439.1 380.3 L444.4 391.1 L443.3 391.4Z" fill="#0000ff" stroke="#0000ff" stroke-width="0.3"/>
<path d="M439.1 380.3 L440.2 379.7 L445.7 390.7 L444.4 391.1Z" fill="#0000ff" stroke="#0000ff" stroke-width="0.3"/>
<path d="M440.2 379.7 L441.5 379 L447.2 390.2 L445.7 390.7Z" fill="#005dff" stroke="#005dff" stroke-width="0.3"/>
<path d="M441.5 379 L443 378.2 L448.8 389.8 L447.2 390.2Z" fill="#005dff" stroke="#005dff" stroke-width="0.3"/>
<path d="M443 378.2 L444.5 377.3 L450.5 389.2 L448.8 389.8Z" fill="#005dff" stroke="#005dff" stroke-width="0.3"/>
<path d="M444.5 377.3 L446 376.5 L452.2 388.6 L450.5 389.2Z" fill="#005dff" stroke="#005dff" stroke-width="0.3"/>
<path d="M446 376.5 L447.6 375.6 L453.9 388 L452.2 388.6Z" fill="#00b9ff" stroke="#00b9ff" stroke-width="0.3"/>
<path d="M447.6 375.6 L449.2 374.8 L455.5 387.3 L453.9 388Z" fill="#00b9ff" stroke="#00b9ff" stroke-width="0.3"/>
<path d="M449.2 374.8 L450.7 374 L457 386.5 L455.5 387.3Z" fill="#00b9ff" stroke="#00b9ff" stroke-width="0.3"/>
<path d="M450.7 374 L452.2 373.2 L458.5 385.7 L457 386.5Z" fill="#00ffe8" stroke="#00ffe8" stroke-width="0.3"/>
<path d="M452.2 373.2 L453.8 372.4 L459.9 384.7 L458.5 385.7Z" fill="#00ffe8" stroke="#00ffe8" stroke-width="0.3"/>
<path d="M453.8 372.4 L455.4 371.5 L461.4 383.7 L459.9 384.7Z" fill="#00ff8b" stroke="#00ff8b" stroke-width="0.3"/>
<path d="M455.4 371.5 L457.1 370.7 L462.8 382.6 L461.4 383.7Z" fill="#00ff8b" stroke="#00ff8b" stroke-width="0.3"/>
<path d="M457.1 370.7 L458.8 369.8 L464.3 381.5 L462.8 382.6Z" fill="#00ff8b" stroke="#00ff8b" stroke-width="0.3"/>
<path d="M458.8 369.8 L460.5 368.9 L465.7 380.4 L464.3 381.5Z" fill="#00ff2e" stroke="#00ff2e" stroke-width="0.3"/>
<path d="M460.5 368.9 L462.2 368.1 L467.2 379.2 L465.7 380.4Z" fill="#00ff2e" stroke="#00ff2e" stroke-width="0.3"/>
<path d="M462.2 368.1 L463.9 367.2 L468.6 378.1 L467.2 379.2Z" fill="#2eff00" stroke="#2eff00" stroke-width="0.3"/>
<path d="M463.9 367.2 L465.6 366.4 L470.1 377.1 L468.6 378.1Z" fill="#2eff00" stroke="#2eff00" stroke-width="0.3"/>
<path d="M465.6 366.4 L467.3 365.7 L471.5 376.1 L470.1 377.1Z" fill="#2eff00" stroke="#2eff00" stroke-width="0.3"/>
<path d="M467.3 365.7 L469 365 L472.9 375.2 L471.5 376.1Z" fill="#8bff00" stroke="#8bff00" stroke-width="0.3"/>
<path d="M469 365 L470.7 364.3 L474.4 374.2 L472.9 375.2Z" fill="#8bff00" stroke="#8bff00" stroke-width="0.3"/>
<path d="M470.7 364.3 L472.3 363.6 L475.9 373.3 L474.4 374.2Z" fill="#e8ff00" stroke="#e8ff00" stroke-width="0.3"/>
<path d="M472.3 363.6 L474 362.9 L477.3 372.4 L475.9 373.3Z" fill="#e8ff00" stroke="#e8ff00" stroke-width="0.3"/>
<path d="M474 362.9 L475.7 362.2 L478.8 371.5 L477.3 372.4Z" fill="#e8ff00" stroke="#e8ff00" stroke-width="0.3"/>
<path d="M475.7 362.2 L477.4 361.6 L480.2 370.6 L478.8 371.5Z" fill="#ffb900" stroke="#ffb900" stroke-width="0.3"/>
<path d="M477.4 361.6 L479.1 361 L481.6 369.8 L480.2 370.6Z" fill="#ffb900" stroke="#ffb900" stroke-width="0.3"/>
<path d="M479.1 361 L480.7 360.5 L483.1 369.1 L481.6 369.8Z" fill="#ffb900" stroke="#ffb900" stroke-width="0.3"/>
<path d="M480.7 360.5 L482.3 360 L484.6 368.4 L483.1 369.1Z" fill="#ff5d00" stroke="#ff5d00" stroke-width="0.3"/>
<path d="M482.3 360 L483.9 359.5 L486 367.8 L484.6 368.4Z" fill="#ff5d00" stroke="#ff5d00" stroke-width="0.3"/>
<path d="M483.9 359.5 L485.4 359.1 L487.5 367.3 L486 367.8Z" fill="#ff5d00" stroke="#ff5d00" stroke-width="0.3"/>
<path d="M485.4 359.1 L486.9 358.7 L488.9 366.8 L487.5 367.3Z" fill="#ff5d00" stroke="#ff5d00" stroke-width="0.3"/>
<path d="M486.9 358.7 L488.4 358.4 L490.4 366.4 L488.9 366.8Z" fill="#ff0000" stroke="#ff0000" stroke-width="0.3"/>
<path d="M488.4 358.4 L489.9 358 L491.9 366 L490.4 366.4Z" fill="#ff0000" stroke="#ff0000" stroke-width="0.3"/>
<path d="M489.9 358 L491.3 357.8 L493.4 365.7 L491.9 366Z" fill="#ff0000" stroke="#ff0000" stroke-width="0.3"/>
<path d="M491.3 357.8 L492.8 357.5 L494.8 365.4 L493.4 365.7Z" fill="#ff0000" stroke="#ff0000" stroke-width="0.3"/>
<path d="M492.8 357.5 L494.2 357.3 L496.3 365.2 L494.8 365.4Z" fill="#ff0000" stroke="#ff0000" stroke-width="0.3"/>
<path d="M494.2 357.3 L495.6 357.2 L497.7 365 L496.3 365.2Z" fill="#ff0000" stroke="#ff0000" stroke-width="0.3"/>
<path d="M495.6 357.2 L497.1 357.1 L499.1 364.8 L497.7 365Z" fill="#ff0000" stroke="#ff0000" stroke-width="0.3"/>
<path d="M497.1 357.1 L498.5 357 L500.5 364.7 L499.1 364.8Z" fill="#ff0000" stroke="#ff0000" stroke-width="0.3"/>
<path d="M498.5 357 L500 357 L501.8 364.6 L500.5 364.7Z" fill="#ff0000" stroke="#ff0000" stroke-width="0.3"/>
<path d="M500 357 L501.4 357 L503.1 364.5 L501.8 364.6Z" fill="#ff0000" stroke="#ff0000" stroke-width="0.3"/>
<path d="M501.4 357 L502.9 357 L504.3 364.5 L503.1 364.5Z" fill="#ff0000" stroke="#ff0000" stroke-width="0.3"/>
<path d="M502.9 357 L504.3 357.1 L505.5 364.5 L504.3 364.5Z" fill="#ff0000" stroke="#ff0000" stroke-width="0.3"/>
<path d="M504.3 357.1 L505.8 357.3 L506.8 364.6 L505.5 364.5Z" fill="#ff0000" stroke="#ff0000" stroke-width="0.3"/>
<path d="M505.8 357.3 L507.2 357.4 L508 364.7 L506.8 364.6Z" fill="#ff0000" stroke="#ff0000" stroke-width="0.3"/>
<path d="M507.2 357.4 L508.7 357.7 L509.2 364.8 L508 364.7Z" fill="#ff0000" stroke="#ff0000" stroke-width="0.3"/>
<path d="M508.7 357.7 L510.1 357.9 L510.4 364.9 L509.2 364.8Z" fill="#ff0000" stroke="#ff0000" stroke-width="0.3"/>
<path d="M510.1 357.9 L511.6 358.2 L511.7 365.1 L510.4 364.9Z" fill="#ff0000" stroke="#ff0000" stroke-width="0.3"/>
<path d="M511.6 358.2 L513 358.5 L513 365.3 L511.7 365.1Z" fill="#ff0000" stroke="#ff0000" stroke-width="0.3"/>
<path d="M513 358.5 L514.5 358.9 L514.4 365.5 L513 365.3Z" fill="#ff5d00" stroke="#ff5d00" stroke-width="0.3"/>
<path d="M514.5 358.9 L515.9 359.3 L515.8 365.8 L514.4 365.5Z" fill="#ff5d00" stroke="#ff5d00" stroke-width="0.3"/>
<path d="M515.9 359.3 L517.4 359.7 L517.2 366.1 L515.8 365.8Z" fill="#ff5d00" stroke="#ff5d00" stroke-width="0.3"/>
<path d="M517.4 359.7 L518.8 360.2 L518.7 366.5 L517.2 366.1Z" fill="#ffb900" stroke="#ffb900" stroke-width="0.3"/>
<path d="M518.8 360.2 L520.2 360.7 L520.1 366.8 L518.7 366.5Z" fill="#ffb900" stroke="#ffb900" stroke-width="0.3"/>
<path d="M520.2 360.7 L521.7 361.3 L521.6 367.2 L520.1 366.8Z" fill="#ffb900" stroke="#ffb900" stroke-width="0.3"/>
<path d="M521.7 361.3 L523.1 361.9 L523.1 367.6 L521.6 367.2Z" fill="#008953" stroke="#008953" stroke-width="0.3"/>
<path d="M523.1 361.9 L524.6 362.5 L524.6 368 L523.1 367.6Z" fill="#00835a" stroke="#00835a" stroke-width="0.3"/>
<path d="M524.6 362.5 L526 363.1 L526 368.5 L524.6 368Z" fill="#007d62" stroke="#007d62" stroke-width="0.3"/>
<path d="M526 363.1 L527.5 363.7 L527.5 368.9 L526 368.5Z" fill="#007769" stroke="#007769" stroke-width="0.3"/>
<path d="M527.5 363.7 L529 364.4 L529 369.4 L527.5 368.9Z" fill="#007170" stroke="#007170" stroke-width="0.3"/>
<path d="M529 364.4 L530.5 365.1 L530.5 369.9 L529 369.4Z" fill="#006b78" stroke="#006b78" stroke-width="0.3"/>
<path d="M530.5 365.1 L532 365.8 L532 370.4 L530.5 369.9Z" fill="#00667f" stroke="#00667f" stroke-width="0.3"/>
<path d="M532 365.8 L533.5 366.6 L533.5 370.9 L532 370.4Z" fill="#006086" stroke="#006086" stroke-width="0.3"/>
<path d="M533.5 366.6 L535 367.4 L535 371.5 L533.5 370.9Z" fill="#005a8d" stroke="#005a8d" stroke-width="0.3"/>
<path d="M535 367.4 L536.5 368.1 L536.5 372 L535 371.5Z" fill="#005495" stroke="#005495" stroke-width="0.3"/>
<path d="M536.5 368.1 L538 368.9 L538 372.6 L536.5 372Z" fill="#004e9c" stroke="#004e9c" stroke-width="0.3"/>
<path d="M538 368.9 L539.4 369.6 L539.4 373.1 L538 372.6Z" fill="#0048a3" stroke="#0048a3" stroke-width="0.3"/>
<path d="M539.4 369.6 L540.7 370.3 L540.7 373.6 L539.4 373.1Z" fill="#0043ab" stroke="#0043ab" stroke-width="0.3"/>
<path d="M540.7 370.3 L542 371 L542 374 L540.7 373.6Z" fill="#003db2" stroke="#003db2" stroke-width="0.3"/>
<path d="M542 371 L543.3 371.6 L543.3 374.4 L542 374Z" fill="#0037b9" stroke="#0037b9" stroke-width="0.3"/>
<path d="M543.3 371.6 L544.5 372.2 L544.5 374.8 L543.3 374.4Z" fill="#0031c1" stroke="#0031c1" stroke-width="0.3"/>
<path d="M544.5 372.2 L545.7 372.9 L545.7 375.2 L544.5 374.8Z" fill="#002bc8" stroke="#002bc8" stroke-width="0.3"/>
<path d="M545.7 372.9 L547 373.4 L547 375.6 L545.7 375.2Z" fill="#0025cf" stroke="#0025cf" stroke-width="0.3"/>
<path d="M547 373.4 L548.1 374 L548.1 375.9 L547 375.6Z" fill="#0020d6" stroke="#0020d6" stroke-width="0.3"/>
<path d="M548.1 374 L549.2 374.5 L549.2 376.2 L548.1 375.9Z" fill="#001ade" stroke="#001ade" stroke-width="0.3"/>
<path d="M549.2 374.5 L550.2 375 L550.2 376.5 L549.2 376.2Z" fill="#0014e5" stroke="#0014e5" stroke-width="0.3"/>
<path d="M550.2 375 L551.1 375.4 L551.1 376.8 L550.2 376.5Z" fill="#000eec" stroke="#000eec" stroke-width="0.3"/>
<path d="M551.1 375.4 L551.8 375.8 L551.8 377 L551.1 376.8Z" fill="#0008f4" stroke="#0008f4" stroke-width="0.3"/>
<path d="M551.8 375.8 L552.4 376.1 L552.4 377.2 L551.8 377Z" fill="#0002fb" stroke="#0002fb" stroke-width="0.3"/>
<path d="M437.3 381.3L442.4 391.7M441.5 379L447.2 390.2M447.6 375.6L453.9 388M453.8 372.4L459.9 384.7M460.5 368.9L465.7 380.4M467.3 365.7L471.5 376.1M474 362.9L477.3 372.4M480.7 360.5L483.1 369.1M486.9 358.7L488.9 366.8M492.8 357.5L494.8 365.4M498.5 357L500.5 364.7M504.3 357.1L505.5 364.5M510.1 357.9L510.4 364.9M515.9 359.3L515.8 365.8M521.7 361.3L521.6 367.2M527.5 363.7L527.5 368.9M533.5 366.6L533.5 370.9M539.4 369.6L539.4 373.1M544.5 372.2L544.5 374.8M549.2 374.5L549.2 376.2M552.4 376.1L552.4 377.2M439.6 386 L440.4 385.6 L441.5 385.2 L442.7 384.6 L444.1 384 L445.6 383.4 L447.2 382.7 L448.8 381.9 L450.4 381.2 L452 380.4 L453.5 379.6 L455 378.8 L456.6 377.9 L458.1 377 L459.7 376 L461.3 375.1 L462.8 374.1 L464.4 373.1 L466 372.1 L467.6 371.2 L469.2 370.4 L470.8 369.6 L472.3 368.7 L473.9 367.9 L475.5 367.2 L477.1 366.4 L478.7 365.7 L480.2 365 L481.8 364.4 L483.3 363.8 L484.8 363.2 L486.3 362.8 L487.8 362.3 L489.3 362 L490.8 361.6 L492.3 361.3 L493.7 361.1 L495.1 360.9 L496.6 360.7 L498 360.6 L499.4 360.5 L500.8 360.4 L502.2 360.4 L503.5 360.4 L504.9 360.5 L506.2 360.6 L507.5 360.7 L508.9 360.9 L510.2 361.1 L511.6 361.3 L513 361.6 L514.4 361.9 L515.8 362.2 L517.3 362.6 L518.7 363 L520.2 363.5 L521.7 364 L523.1 364.5 L524.6 365 L526 365.5 L527.5 366 L529 366.6 L530.5 367.2 L532 367.9 L533.5 368.5 L535 369.2 L536.5 369.9 L538 370.6 L539.4 371.2 L540.7 371.8 L542 372.4 L543.3 372.9 L544.5 373.4 L545.7 373.9 L547 374.4 L548.1 374.9 L549.2 375.3 L550.2 375.7 L551.1 376.1 L551.8 376.4 L552.4 376.6" fill="none" stroke="#000" stroke-opacity="0.55" stroke-width="0.4"/>
<path d="M442.4 391.7 L443.3 391.4 L444.4 391.1 L445.7 390.7 L447.2 390.2 L448.8 389.8 L450.5 389.2 L452.2 388.6 L453.9 388 L455.5 387.3 L457 386.5 L458.5 385.7 L459.9 384.7 L461.4 383.7 L462.8 382.6 L464.3 381.5 L465.7 380.4 L467.2 379.2 L468.6 378.1 L470.1 377.1 L471.5 376.1 L472.9 375.2 L474.4 374.2 L475.9 373.3 L477.3 372.4 L478.8 371.5 L480.2 370.6 L481.6 369.8 L483.1 369.1 L484.6 368.4 L486 367.8 L487.5 367.3 L488.9 366.8 L490.4 366.4 L491.9 366 L493.4 365.7 L494.8 365.4 L496.3 365.2 L497.7 365 L499.1 364.8 L500.5 364.7 L501.8 364.6 L503.1 364.5 L504.3 364.5 L505.5 364.5 L506.8 364.6 L508 364.7 L509.2 364.8 L510.4 364.9 L511.7 365.1 L513 365.3 L514.4 365.5 L515.8 365.8 L517.2 366.1 L518.7 366.5 L520.1 366.8 L521.6 367.2 L523.1 367.6 L524.6 368 L526 368.5 L527.5 368.9 L529 369.4 L530.5 369.9 L532 370.4 L533.5 370.9 L535 371.5 L536.5 372 L538 372.6 L539.4 373.1 L540.7 373.6 L542 374 L543.3 374.4 L544.5 374.8 L545.7 375.2 L547 375.6 L548.1 375.9 L549.2 376.2 L550.2 376.5 L551.1 376.8 L551.8 377 L552.4 377.2" fill="none" stroke="#000" stroke-opacity="0.45" stroke-width="0.5"/>
<path d="M535 364.9L549.5 373.4" stroke="#dfe8ff" stroke-width="0.6" stroke-opacity="0.8"/>
<path d="M533 366.4L547.5 375" stroke="#9fc0ff" stroke-width="0.5" stroke-opacity="0.7"/>
<path d="M554.7 380.3 L556.4 380 L558.6 379.5 L561.3 379 L564.3 378.4 L567.4 377.8 L570.6 377.2 L573.7 376.6 L576.5 376.1 L579.1 375.7 L581.8 375.2 L584.3 374.8 L586.9 374.4 L589.5 374 L592 373.7 L594.6 373.3 L597.2 373 L599.8 372.7 L602.5 372.4 L605.2 372.1 L607.9 371.9 L610.5 371.6 L613.1 371.4 L615.6 371.2 L618 370.9 L620.3 370.6 L622.6 370.3 L624.9 370 L627 369.7 L629.1 369.4 L631.1 369.2 L632.9 369 L634.6 368.9 L636.2 368.9 L637.7 369 L639 369.1 L640.3 369.3 L641.4 369.5 L642.4 369.6 L643.2 369.8 L643.9 369.9 L643.9 371 L643.2 371.5 L642.3 372.2 L641.1 373.1 L639.9 374 L638.6 375 L637.2 376.1 L635.9 377.2 L634.6 378.2 L633.4 379.3 L632.1 380.4 L630.9 381.6 L629.6 382.8 L628.3 384.1 L627 385.3 L625.6 386.4 L624.2 387.5 L622.8 388.5 L621.3 389.6 L619.8 390.6 L618.3 391.6 L616.7 392.5 L615.1 393.4 L613.5 394.2 L611.8 394.8 L610.1 395.3 L608.3 395.8 L606.5 396.2 L604.6 396.4 L602.8 396.6 L600.9 396.8 L599 396.9 L597.2 396.9 L595.4 396.9 L593.5 396.7 L591.7 396.6 L589.8 396.3 L588 396 L586.2 395.6 L584.4 395.2 L582.7 394.8 L581.1 394.3 L579.5 393.8 L578 393.2 L576.5 392.6 L575 391.9 L573.5 391.2 L571.9 390.4 L570.3 389.6 L568.5 388.7 L566.5 387.5 L564.3 386.3 L562.2 385.1 L560.2 383.9 L558.4 382.9 L556.8 382 L555.7 381.3Z" fill="#0000a8"/>
<defs><linearGradient id="bowlg" gradientUnits="userSpaceOnUse" x1="556" y1="0" x2="644" y2="0"><stop offset="0" stop-color="#00c060"/><stop offset="0.1" stop-color="#40e000"/><stop offset="0.17" stop-color="#e8f000"/><stop offset="0.25" stop-color="#ff9000"/><stop offset="0.33" stop-color="#f01808"/><stop offset="0.64" stop-color="#f01808"/><stop offset="0.71" stop-color="#ff9000"/><stop offset="0.77" stop-color="#e8f000"/><stop offset="0.84" stop-color="#40e000"/><stop offset="1" stop-color="#00c0a0"/></linearGradient></defs>
<path d="M557.5 381.6 L558.3 381.8 L559.3 382.1 L560.5 382.5 L561.9 382.9 L563.3 383.3 L564.9 383.7 L566.4 384.1 L568 384.4 L569.6 384.6 L571.2 384.9 L572.9 385.1 L574.7 385.3 L576.5 385.4 L578.3 385.5 L580.2 385.6 L582 385.6 L583.9 385.6 L585.8 385.5 L587.7 385.3 L589.7 385.1 L591.6 384.9 L593.5 384.7 L595.3 384.5 L597 384.2 L598.6 383.9 L600.1 383.7 L601.6 383.4 L603 383.1 L604.4 382.7 L605.7 382.4 L606.9 382 L608 381.6 L609 381.2 L610 380.8 L610.9 380.3 L611.7 379.9 L612.5 379.4 L613.2 378.9 L613.9 378.4 L614.5 377.8 L615.1 377.1 L615.7 376.4 L616.2 375.6 L616.7 374.8 L617.1 374 L617.4 373.2 L617.8 372.6 L618 372.2 L643.9 371 L643.2 371.5 L642.3 372.2 L641.1 373.1 L639.9 374 L638.6 375 L637.2 376.1 L635.9 377.2 L634.6 378.2 L633.4 379.3 L632.1 380.4 L630.9 381.6 L629.6 382.8 L628.3 384.1 L627 385.3 L625.6 386.4 L624.2 387.5 L622.8 388.5 L621.3 389.6 L619.8 390.6 L618.3 391.6 L616.7 392.5 L615.1 393.4 L613.5 394.2 L611.8 394.8 L610.1 395.3 L608.3 395.8 L606.5 396.2 L604.6 396.4 L602.8 396.6 L600.9 396.8 L599 396.9 L597.2 396.9 L595.4 396.9 L593.5 396.7 L591.7 396.6 L589.8 396.3 L588 396 L586.2 395.6 L584.4 395.2 L582.7 394.8 L581.1 394.3 L579.5 393.8 L578 393.2 L576.5 392.6 L575 391.9 L573.5 391.2 L571.9 390.4 L570.3 389.6 L568.5 388.7 L566.5 387.5 L564.3 386.3 L562.2 385.1 L560.2 383.9 L558.4 382.9 L556.8 382 L555.7 381.3Z" fill="url(#bowlg)"/>
<path d="M557.5 381.6L555.7 381.3M559.3 382.1L558.4 382.9M561.9 382.9L562.2 385.1M564.9 383.7L568.5 388.7M568 384.4L571.9 390.4M571.2 384.9L575 391.9M574.7 385.3L579.5 393.8M578.3 385.5L582.7 394.8M582 385.6L586.2 395.6M585.8 385.5L591.7 396.6M589.7 385.1L595.4 396.9M593.5 384.7L599 396.9M597 384.2L604.6 396.4M600.1 383.7L608.3 395.8M603 383.1L611.8 394.8M605.7 382.4L616.7 392.5M608 381.6L619.8 390.6M610 380.8L622.8 388.5M611.7 379.9L627 385.3M613.2 378.9L629.6 382.8M614.5 377.8L632.1 380.4M615.7 376.4L635.9 377.2M616.7 374.8L638.6 375M617.4 373.2L641.1 373.1M618 372.2L643.9 371M556.6 381.5 L557.6 381.9 L558.8 382.5 L560.4 383.2 L562 384 L563.8 384.8 L566.7 386.2 L568.4 386.9 L570 387.4 L571.5 387.9 L573.1 388.4 L574.7 388.8 L577.1 389.5 L578.8 389.9 L580.5 390.2 L582.3 390.4 L584.1 390.6 L585.9 390.8 L588.7 391 L590.6 391 L592.5 391 L594.4 390.9 L596.3 390.8 L598.1 390.6 L600.8 390.3 L602.5 390 L604.2 389.7 L605.8 389.4 L607.4 388.9 L608.9 388.4 L611.2 387.4 L612.6 386.8 L613.9 386.1 L615.2 385.4 L616.4 384.7 L617.5 383.9 L619.3 382.6 L620.4 381.7 L621.4 380.9 L622.4 380 L623.3 379.1 L624.2 378.2 L625.8 376.8 L626.7 375.8 L627.6 374.9 L628.5 374 L629.3 373.2 L630 372.4 L631 371.6" fill="none" stroke="#000" stroke-opacity="0.45" stroke-width="0.4"/>
<defs><linearGradient id="rimg" gradientUnits="userSpaceOnUse" x1="554" y1="0" x2="644" y2="0"><stop offset="0" stop-color="#10b040"/><stop offset="0.25" stop-color="#c8e800"/><stop offset="0.45" stop-color="#e8d000"/><stop offset="0.7" stop-color="#60e020"/><stop offset="0.9" stop-color="#20d0a0"/><stop offset="1" stop-color="#a0e0ff"/></linearGradient></defs>
<path d="M554.7 381 L556.4 380.7 L558.6 380.2 L561.3 379.7 L564.3 379.1 L567.4 378.5 L570.6 377.9 L573.7 377.3 L576.5 376.8 L579.1 376.4 L581.8 375.9 L584.3 375.5 L586.9 375.1 L589.5 374.7 L592 374.4 L594.6 374 L597.2 373.7 L599.8 373.4 L602.5 373.1 L605.2 372.8 L607.9 372.6 L610.5 372.3 L613.1 372.1 L615.6 371.9 L618 371.6 L620.3 371.3 L622.6 371 L624.9 370.7 L627 370.4 L629.1 370.1 L631.1 369.9 L632.9 369.7 L634.6 369.6 L636.2 369.6 L637.7 369.7 L639 369.8 L640.3 370 L641.4 370.2 L642.4 370.3 L643.2 370.5 L643.9 370.6" fill="none" stroke="url(#rimg)" stroke-width="2.6" stroke-dasharray="1.7 0.5"/>
<rect x="383.1" y="289.6" width="28.6" height="36.9" fill="none" stroke="#c4ccd8" stroke-width="0.55"/>
<text x="385.9" y="294.1" font-size="2.49" font-weight="bold" fill="#fff" font-family="Liberation Sans, sans-serif">U, Magnitude</text>
<rect x="385.9" y="295.96" width="3.3" height="2.18" fill="#ff0000"/>
<rect x="385.9" y="298.33" width="3.3" height="2.18" fill="#ff5d00"/>
<rect x="385.9" y="300.69" width="3.3" height="2.18" fill="#ffb900"/>
<rect x="385.9" y="303.06" width="3.3" height="2.18" fill="#e8ff00"/>
<rect x="385.9" y="305.43" width="3.3" height="2.18" fill="#8bff00"/>
<rect x="385.9" y="307.79" width="3.3" height="2.18" fill="#2eff00"/>
<rect x="385.9" y="310.16" width="3.3" height="2.18" fill="#00ff2e"/>
<rect x="385.9" y="312.52" width="3.3" height="2.18" fill="#00ff8b"/>
<rect x="385.9" y="314.89" width="3.3" height="2.18" fill="#00ffe8"/>
<rect x="385.9" y="317.25" width="3.3" height="2.18" fill="#00b9ff"/>
<rect x="385.9" y="319.62" width="3.3" height="2.18" fill="#005dff"/>
<rect x="385.9" y="321.98" width="3.3" height="2.18" fill="#0000ff"/>
<text x="393.6" y="296.65" font-size="2.41" font-weight="bold" fill="#fff" stroke="#fff" stroke-width="0.12" font-family="Liberation Sans, sans-serif">+1.000e+00</text>
<text x="393.6" y="299.02" font-size="2.41" font-weight="bold" fill="#fff" stroke="#fff" stroke-width="0.12" font-family="Liberation Sans, sans-serif">+9.167e-01</text>
<text x="393.6" y="301.38" font-size="2.41" font-weight="bold" fill="#fff" stroke="#fff" stroke-width="0.12" font-family="Liberation Sans, sans-serif">+8.333e-01</text>
<text x="393.6" y="303.75" font-size="2.41" font-weight="bold" fill="#fff" stroke="#fff" stroke-width="0.12" font-family="Liberation Sans, sans-serif">+7.500e-01</text>
<text x="393.6" y="306.11" font-size="2.41" font-weight="bold" fill="#fff" stroke="#fff" stroke-width="0.12" font-family="Liberation Sans, sans-serif">+6.667e-01</text>
<text x="393.6" y="308.48" font-size="2.41" font-weight="bold" fill="#fff" stroke="#fff" stroke-width="0.12" font-family="Liberation Sans, sans-serif">+5.833e-01</text>
<text x="393.6" y="310.84" font-size="2.41" font-weight="bold" fill="#fff" stroke="#fff" stroke-width="0.12" font-family="Liberation Sans, sans-serif">+5.000e-01</text>
<text x="393.6" y="313.21" font-size="2.41" font-weight="bold" fill="#fff" stroke="#fff" stroke-width="0.12" font-family="Liberation Sans, sans-serif">+4.167e-01</text>
<text x="393.6" y="315.58" font-size="2.41" font-weight="bold" fill="#fff" stroke="#fff" stroke-width="0.12" font-family="Liberation Sans, sans-serif">+3.333e-01</text>
<text x="393.6" y="317.94" font-size="2.41" font-weight="bold" fill="#fff" stroke="#fff" stroke-width="0.12" font-family="Liberation Sans, sans-serif">+2.500e-01</text>
<text x="393.6" y="320.31" font-size="2.41" font-weight="bold" fill="#fff" stroke="#fff" stroke-width="0.12" font-family="Liberation Sans, sans-serif">+1.667e-01</text>
<text x="393.6" y="322.67" font-size="2.41" font-weight="bold" fill="#fff" stroke="#fff" stroke-width="0.12" font-family="Liberation Sans, sans-serif">+8.333e-02</text>
<text x="393.6" y="325.04" font-size="2.41" font-weight="bold" fill="#fff" stroke="#fff" stroke-width="0.12" font-family="Liberation Sans, sans-serif">+0.000e+00</text>
<path d="M390.5 295.96h1.7M390.5 298.33h1.7M390.5 300.69h1.7M390.5 303.06h1.7M390.5 305.43h1.7M390.5 307.79h1.7M390.5 310.16h1.7M390.5 312.52h1.7M390.5 314.89h1.7M390.5 317.25h1.7M390.5 319.62h1.7M390.5 321.98h1.7M390.5 324.35h1.7" stroke="#fff" stroke-width="0.3"/>
<path d="M410.1 454.3L415.5 453.2" stroke="#18b830" stroke-width="1.3"/><path d="M419 452.4L415.8 454.8L415.1 451.5Z" fill="#18b830"/>
<path d="M410.1 454.3L411.2 454.9" stroke="#e02818" stroke-width="1.3"/><path d="M414.3 456.7L410.3 456.4L412 453.4Z" fill="#e02818"/>
<path d="M410.1 454.3L409.5 446.4" stroke="#1428f0" stroke-width="1.3"/><path d="M409.3 442.8L411.2 446.3L407.9 446.5Z" fill="#1428f0"/>
<text x="408.8" y="440.2" font-size="3.6" font-weight="bold" text-anchor="middle" fill="#fff" font-family="Liberation Sans, sans-serif">Z</text>
<text x="422.7" y="453" font-size="3.6" font-weight="bold" text-anchor="middle" fill="#fff" font-family="Liberation Sans, sans-serif">Y</text>
<text x="415.7" y="459.9" font-size="3.6" font-weight="bold" text-anchor="middle" fill="#fff" font-family="Liberation Sans, sans-serif">X</text>
<text x="432" y="438.7" font-size="2.85" fill="#fff" stroke="#fff" stroke-width="0.18" xml:space="preserve" font-family="Liberation Sans, sans-serif">ODB: Job-1.odb    Abaqus/Standard 6.12-1    Mon Mar 25 23:30:22 GMT+08:00 2019</text>
<text x="432" y="451.2" font-size="2.85" fill="#fff" stroke="#fff" stroke-width="0.18" xml:space="preserve" font-family="Liberation Sans, Noto Sans CJK SC, sans-serif">分析步: Step-1</text>
<text x="432" y="453.6" font-size="2.85" fill="#fff" stroke="#fff" stroke-width="0.18" xml:space="preserve" font-family="Liberation Sans, Noto Sans CJK SC, sans-serif">Mode         1: Value =   2.0610E+05 Freq =    72.255     (cycles/time)</text>
<text x="432" y="456.0" font-size="2.85" fill="#fff" stroke="#fff" stroke-width="0.18" xml:space="preserve" font-family="Liberation Sans, Noto Sans CJK SC, sans-serif">主变量: U, Magnitude</text>
<text x="432" y="458.4" font-size="2.85" fill="#fff" stroke="#fff" stroke-width="0.18" xml:space="preserve" font-family="Liberation Sans, Noto Sans CJK SC, sans-serif">变形变量: U  变形缩放系数: +2.000e-01</text></g>
<text x="1.8" y="17.8" font-family="Liberation Serif, serif" font-weight="bold" font-size="17.7" fill="#000">a</text>
<text x="358" y="15" font-family="Liberation Serif, serif" font-weight="bold" font-size="17.7" fill="#000">b</text>
<text x="1.9" y="274.4" font-family="Liberation Serif, serif" font-weight="bold" font-size="17.7" fill="#000">c</text>
<text x="357.6" y="274.4" font-family="Liberation Serif, serif" font-weight="bold" font-size="17.7" fill="#000">d</text>
</g>
</svg>
</body></html>
